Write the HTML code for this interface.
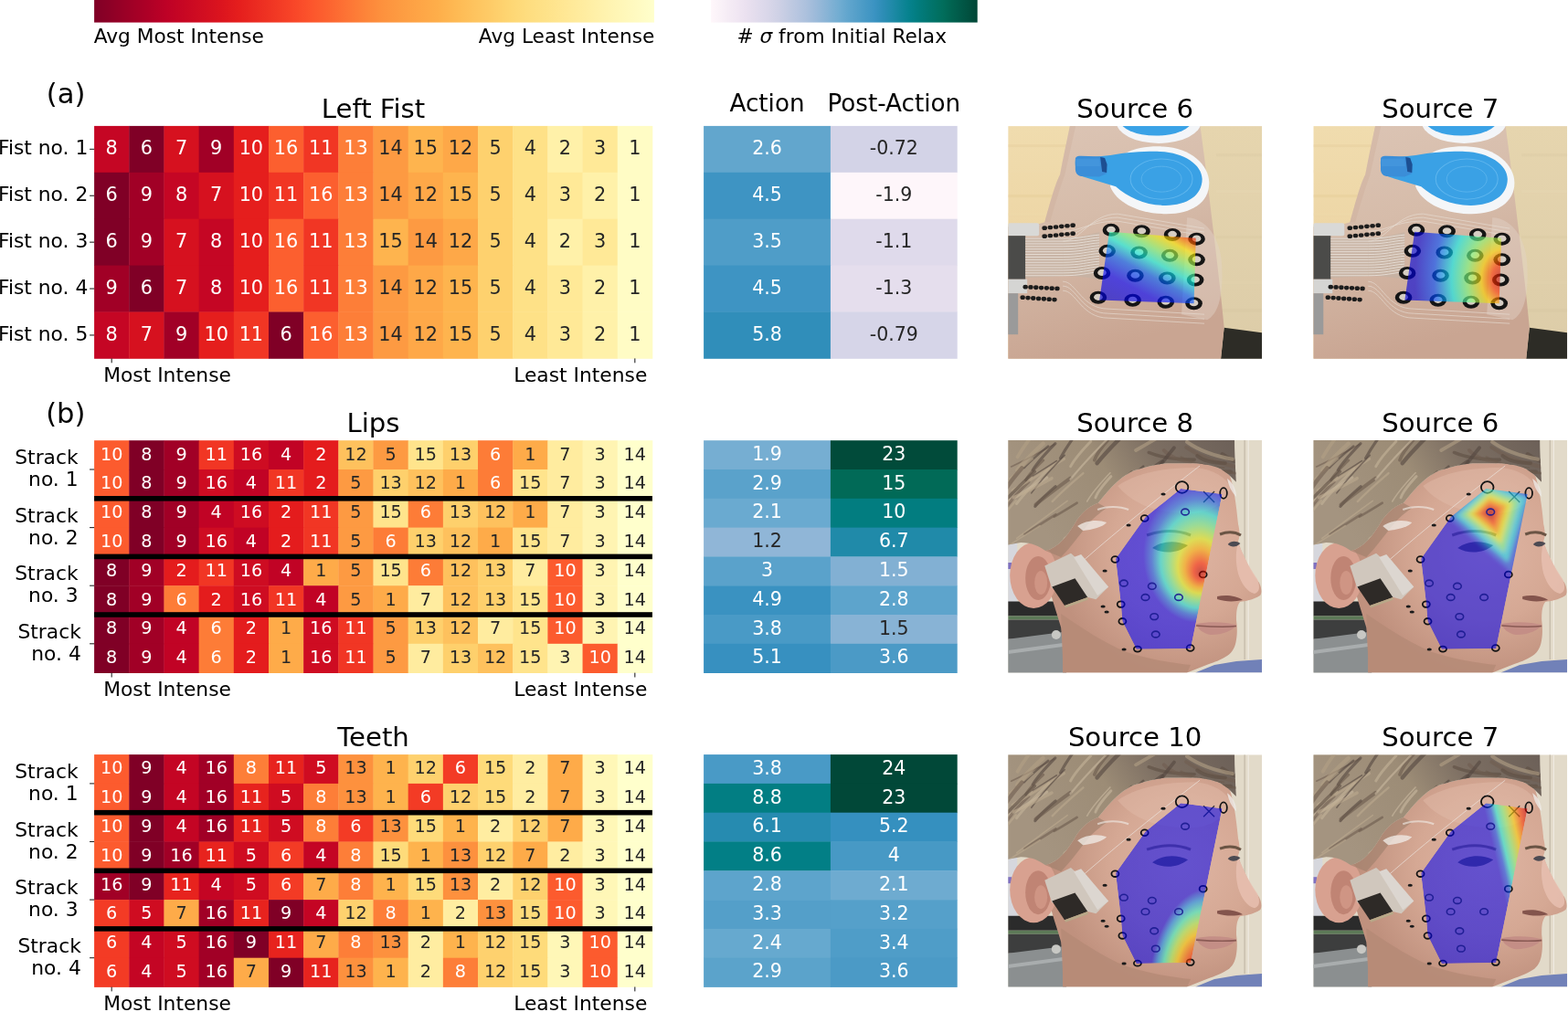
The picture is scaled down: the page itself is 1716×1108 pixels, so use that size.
<!DOCTYPE html>
<html><head><meta charset="utf-8"><title>Figure</title>
<style>html,body{margin:0;padding:0;background:#fff;} svg{display:block;} text{font-family:'DejaVu Sans', 'Liberation Sans', sans-serif;}</style>
</head><body>
<svg width="1716" height="1108" viewBox="0 0 1716 1108">
<defs><linearGradient id="cb1" x1="0" y1="0" x2="1" y2="0"><stop offset="0.0000" stop-color="#800026"/><stop offset="0.0323" stop-color="#8f0026"/><stop offset="0.0645" stop-color="#9f0026"/><stop offset="0.0968" stop-color="#ae0026"/><stop offset="0.1290" stop-color="#be0126"/><stop offset="0.1613" stop-color="#c80723"/><stop offset="0.1935" stop-color="#d10e21"/><stop offset="0.2258" stop-color="#db141e"/><stop offset="0.2581" stop-color="#e51e1d"/><stop offset="0.2903" stop-color="#eb2b21"/><stop offset="0.3226" stop-color="#f13824"/><stop offset="0.3548" stop-color="#f84528"/><stop offset="0.3871" stop-color="#fc552c"/><stop offset="0.4194" stop-color="#fc6430"/><stop offset="0.4516" stop-color="#fd7435"/><stop offset="0.4839" stop-color="#fd8439"/><stop offset="0.5161" stop-color="#fd923e"/><stop offset="0.5484" stop-color="#fd9c42"/><stop offset="0.5806" stop-color="#fea546"/><stop offset="0.6129" stop-color="#feae4a"/><stop offset="0.6452" stop-color="#feb953"/><stop offset="0.6774" stop-color="#fec35e"/><stop offset="0.7097" stop-color="#fecc68"/><stop offset="0.7419" stop-color="#fed673"/><stop offset="0.7742" stop-color="#fedd7f"/><stop offset="0.8065" stop-color="#fee289"/><stop offset="0.8387" stop-color="#ffe794"/><stop offset="0.8710" stop-color="#ffec9f"/><stop offset="0.9032" stop-color="#fff1ab"/><stop offset="0.9355" stop-color="#fff6b6"/><stop offset="0.9677" stop-color="#fffac1"/><stop offset="1.0000" stop-color="#ffffcc"/></linearGradient><linearGradient id="cb2" x1="0" y1="0" x2="1" y2="0"><stop offset="0.0000" stop-color="#fff7fb"/><stop offset="0.0323" stop-color="#faf2f8"/><stop offset="0.0645" stop-color="#f5ecf5"/><stop offset="0.0968" stop-color="#f1e7f3"/><stop offset="0.1290" stop-color="#ebe1f0"/><stop offset="0.1613" stop-color="#e4dded"/><stop offset="0.1935" stop-color="#ddd9eb"/><stop offset="0.2258" stop-color="#d6d5e8"/><stop offset="0.2581" stop-color="#cdd0e5"/><stop offset="0.2903" stop-color="#c2cbe2"/><stop offset="0.3226" stop-color="#b8c6e0"/><stop offset="0.3548" stop-color="#adc1dd"/><stop offset="0.3871" stop-color="#9fbbda"/><stop offset="0.4194" stop-color="#90b6d7"/><stop offset="0.4516" stop-color="#80b1d4"/><stop offset="0.4839" stop-color="#70acd1"/><stop offset="0.5161" stop-color="#60a5cd"/><stop offset="0.5484" stop-color="#549fc9"/><stop offset="0.5806" stop-color="#4799c5"/><stop offset="0.6129" stop-color="#3b93c2"/><stop offset="0.6452" stop-color="#2d8db6"/><stop offset="0.6774" stop-color="#208aa9"/><stop offset="0.7097" stop-color="#13869b"/><stop offset="0.7419" stop-color="#06828e"/><stop offset="0.7742" stop-color="#027d80"/><stop offset="0.8065" stop-color="#027773"/><stop offset="0.8387" stop-color="#017267"/><stop offset="0.8710" stop-color="#016d5b"/><stop offset="0.9032" stop-color="#016350"/><stop offset="0.9355" stop-color="#015948"/><stop offset="0.9677" stop-color="#01503f"/><stop offset="1.0000" stop-color="#014636"/></linearGradient><filter id="blur3" x="-20%" y="-20%" width="140%" height="140%"><feGaussianBlur stdDeviation="2.2"/></filter><linearGradient id="armskin" x1="0" y1="0" x2="0.25" y2="1"><stop offset="0" stop-color="#dcc5b5"/><stop offset="0.45" stop-color="#d6bcaa"/><stop offset="1" stop-color="#c9a592"/></linearGradient><linearGradient id="woodL" x1="0" y1="0" x2="0" y2="1"><stop offset="0" stop-color="#f0dcae"/><stop offset="1" stop-color="#eacf9c"/></linearGradient><linearGradient id="woodR" x1="0" y1="0" x2="0" y2="1"><stop offset="0" stop-color="#e6d5ae"/><stop offset="1" stop-color="#dccca8"/></linearGradient><linearGradient id="hair" x1="0" y1="0.3" x2="1" y2="0"><stop offset="0" stop-color="#a49480"/><stop offset="0.4" stop-color="#9c8c76"/><stop offset="0.65" stop-color="#7c6e62"/><stop offset="1" stop-color="#6c6058"/></linearGradient><radialGradient id="faceskin" gradientUnits="userSpaceOnUse" cx="190" cy="120" r="140"><stop offset="0" stop-color="#dfb5a3"/><stop offset="0.55" stop-color="#d5a894"/><stop offset="1" stop-color="#c0917e"/></radialGradient><linearGradient id="ov_s6" gradientUnits="userSpaceOnUse" x1="206.7" y1="121.8" x2="155.1" y2="217.5"><stop offset="0" stop-color="#f10800"/><stop offset="0.07" stop-color="#ff6800"/><stop offset="0.16" stop-color="#feed00"/><stop offset="0.3" stop-color="#7dff7a"/><stop offset="0.42" stop-color="#0ff8e7"/><stop offset="0.56" stop-color="#0060ff"/><stop offset="0.75" stop-color="#0000ff"/><stop offset="1" stop-color="#0000da"/></linearGradient><radialGradient id="ov_s7" gradientUnits="userSpaceOnUse" cx="207" cy="167" r="96" gradientTransform="translate(207 167) scale(1 1.4) translate(-207 -167)"><stop offset="0" stop-color="#b60000"/><stop offset="0.12" stop-color="#ff3800"/><stop offset="0.24" stop-color="#ffd700"/><stop offset="0.4" stop-color="#7dff7a"/><stop offset="0.58" stop-color="#09f0ee"/><stop offset="0.78" stop-color="#004cff"/><stop offset="1" stop-color="#0000da"/></radialGradient><radialGradient id="ov_l8" gradientUnits="userSpaceOnUse" cx="208" cy="125" r="75" fx="212" fy="146" gradientTransform="translate(208 125) scale(0.8 1) translate(-208 -125)"><stop offset="0" stop-color="#b60000"/><stop offset="0.12" stop-color="#ff2500"/><stop offset="0.28" stop-color="#ffb200"/><stop offset="0.4" stop-color="#deff19"/><stop offset="0.55" stop-color="#6aff8d"/><stop offset="0.7" stop-color="#09f0ee"/><stop offset="0.85" stop-color="#0060ff"/><stop offset="1" stop-color="#0000ff"/></radialGradient><radialGradient id="ov_l6" gradientUnits="userSpaceOnUse" cx="193" cy="79" r="46" gradientTransform="translate(193 79) rotate(-16) scale(1 1.45) translate(-193 -79)"><stop offset="0" stop-color="#9f0000"/><stop offset="0.12" stop-color="#ff2500"/><stop offset="0.3" stop-color="#ffd700"/><stop offset="0.48" stop-color="#7dff7a"/><stop offset="0.64" stop-color="#09f0ee"/><stop offset="0.82" stop-color="#004cff"/><stop offset="1" stop-color="#0000f1"/></radialGradient><radialGradient id="ov_t10" gradientUnits="userSpaceOnUse" cx="205" cy="232" r="48" gradientTransform="translate(205 232) rotate(12) scale(1 1.8) translate(-205 -232)"><stop offset="0" stop-color="#cd0000"/><stop offset="0.12" stop-color="#ff1a00"/><stop offset="0.26" stop-color="#ff6800"/><stop offset="0.42" stop-color="#ffd700"/><stop offset="0.57" stop-color="#a4ff53"/><stop offset="0.72" stop-color="#29ffce"/><stop offset="0.86" stop-color="#0094ff"/><stop offset="1" stop-color="#0000f1"/></radialGradient><linearGradient id="ov_t7" gradientUnits="userSpaceOnUse" x1="186.3" y1="56.4" x2="229.2" y2="46.5"><stop offset="0" stop-color="#0000f1"/><stop offset="0.15" stop-color="#004cff"/><stop offset="0.28" stop-color="#0ff8e7"/><stop offset="0.45" stop-color="#7dff7a"/><stop offset="0.65" stop-color="#ffd700"/><stop offset="0.85" stop-color="#ff3f00"/><stop offset="1" stop-color="#cd0000"/></linearGradient></defs>
<rect width="1716" height="1108" fill="#fff"/>
<rect x="103.1" y="0" width="612.8" height="24.6" fill="url(#cb1)"/>
<rect x="778.1" y="0" width="291.6" height="24.6" fill="url(#cb2)"/>
<text x="102.70" y="46.90" font-size="21.7" text-anchor="start" fill="#000">Avg Most Intense</text>
<text x="716.30" y="46.90" font-size="21.7" text-anchor="end" fill="#000">Avg Least Intense</text>
<text x="806.40" y="46.90" font-size="21.7" text-anchor="start" fill="#000"># <tspan font-style="italic">σ</tspan> from Initial Relax</text>
<text x="50.80" y="112.90" font-size="30.6" text-anchor="start" fill="#000">(a)</text>
<text x="50.20" y="462.70" font-size="30.6" text-anchor="start" fill="#000">(b)</text>
<text x="408.50" y="128.80" font-size="29.15" text-anchor="middle" fill="#000">Left Fist</text>
<text x="408.50" y="473.10" font-size="29.15" text-anchor="middle" fill="#000">Lips</text>
<text x="408.50" y="817.30" font-size="29.15" text-anchor="middle" fill="#000">Teeth</text>
<text x="839.50" y="122.10" font-size="26.2" text-anchor="middle" fill="#000">Action</text>
<text x="978.30" y="122.10" font-size="26.2" text-anchor="middle" fill="#000">Post-Action</text>
<text x="1242.10" y="128.70" font-size="29.15" text-anchor="middle" fill="#000">Source 6</text>
<text x="1576.25" y="128.70" font-size="29.15" text-anchor="middle" fill="#000">Source 7</text>
<text x="1242.10" y="472.60" font-size="29.15" text-anchor="middle" fill="#000">Source 8</text>
<text x="1576.25" y="472.60" font-size="29.15" text-anchor="middle" fill="#000">Source 6</text>
<text x="1242.10" y="816.90" font-size="29.15" text-anchor="middle" fill="#000">Source 10</text>
<text x="1576.25" y="816.90" font-size="29.15" text-anchor="middle" fill="#000">Source 7</text>
<g>
<rect x="103.10" y="137.90" width="38.57" height="51.30" fill="#c50624"/>
<rect x="141.27" y="137.90" width="38.57" height="51.30" fill="#800026"/>
<rect x="179.45" y="137.90" width="38.57" height="51.30" fill="#d6111f"/>
<rect x="217.62" y="137.90" width="38.57" height="51.30" fill="#a10026"/>
<rect x="255.80" y="137.90" width="38.57" height="51.30" fill="#e51e1d"/>
<rect x="293.98" y="137.90" width="38.57" height="51.30" fill="#fc5f2f"/>
<rect x="332.15" y="137.90" width="38.57" height="51.30" fill="#f13624"/>
<rect x="370.32" y="137.90" width="38.57" height="51.30" fill="#fd7e38"/>
<rect x="408.50" y="137.90" width="38.57" height="51.30" fill="#fd9a42"/>
<rect x="446.67" y="137.90" width="38.57" height="51.30" fill="#feb44e"/>
<rect x="484.85" y="137.90" width="38.57" height="51.30" fill="#fea848"/>
<rect x="523.02" y="137.90" width="38.57" height="51.30" fill="#fed16e"/>
<rect x="561.20" y="137.90" width="38.57" height="51.30" fill="#fee187"/>
<rect x="599.38" y="137.90" width="38.57" height="51.30" fill="#fff1a9"/>
<rect x="637.55" y="137.90" width="38.57" height="51.30" fill="#ffe997"/>
<rect x="675.73" y="137.90" width="38.57" height="51.30" fill="#fffcc5"/>
<rect x="103.10" y="188.80" width="38.57" height="51.30" fill="#800026"/>
<rect x="141.27" y="188.80" width="38.57" height="51.30" fill="#a10026"/>
<rect x="179.45" y="188.80" width="38.57" height="51.30" fill="#c50624"/>
<rect x="217.62" y="188.80" width="38.57" height="51.30" fill="#d6111f"/>
<rect x="255.80" y="188.80" width="38.57" height="51.30" fill="#e51e1d"/>
<rect x="293.98" y="188.80" width="38.57" height="51.30" fill="#f13624"/>
<rect x="332.15" y="188.80" width="38.57" height="51.30" fill="#fc5f2f"/>
<rect x="370.32" y="188.80" width="38.57" height="51.30" fill="#fd7e38"/>
<rect x="408.50" y="188.80" width="38.57" height="51.30" fill="#fd9a42"/>
<rect x="446.67" y="188.80" width="38.57" height="51.30" fill="#fea848"/>
<rect x="484.85" y="188.80" width="38.57" height="51.30" fill="#feb44e"/>
<rect x="523.02" y="188.80" width="38.57" height="51.30" fill="#fed16e"/>
<rect x="561.20" y="188.80" width="38.57" height="51.30" fill="#fee187"/>
<rect x="599.38" y="188.80" width="38.57" height="51.30" fill="#ffe997"/>
<rect x="637.55" y="188.80" width="38.57" height="51.30" fill="#fff1a9"/>
<rect x="675.73" y="188.80" width="38.57" height="51.30" fill="#fffcc5"/>
<rect x="103.10" y="239.70" width="38.57" height="51.30" fill="#800026"/>
<rect x="141.27" y="239.70" width="38.57" height="51.30" fill="#a10026"/>
<rect x="179.45" y="239.70" width="38.57" height="51.30" fill="#d6111f"/>
<rect x="217.62" y="239.70" width="38.57" height="51.30" fill="#c50624"/>
<rect x="255.80" y="239.70" width="38.57" height="51.30" fill="#e51e1d"/>
<rect x="293.98" y="239.70" width="38.57" height="51.30" fill="#fc5f2f"/>
<rect x="332.15" y="239.70" width="38.57" height="51.30" fill="#f13624"/>
<rect x="370.32" y="239.70" width="38.57" height="51.30" fill="#fd7e38"/>
<rect x="408.50" y="239.70" width="38.57" height="51.30" fill="#feb44e"/>
<rect x="446.67" y="239.70" width="38.57" height="51.30" fill="#fd9a42"/>
<rect x="484.85" y="239.70" width="38.57" height="51.30" fill="#fea848"/>
<rect x="523.02" y="239.70" width="38.57" height="51.30" fill="#fed16e"/>
<rect x="561.20" y="239.70" width="38.57" height="51.30" fill="#fee187"/>
<rect x="599.38" y="239.70" width="38.57" height="51.30" fill="#fff1a9"/>
<rect x="637.55" y="239.70" width="38.57" height="51.30" fill="#ffe997"/>
<rect x="675.73" y="239.70" width="38.57" height="51.30" fill="#fffcc5"/>
<rect x="103.10" y="290.60" width="38.57" height="51.30" fill="#a10026"/>
<rect x="141.27" y="290.60" width="38.57" height="51.30" fill="#800026"/>
<rect x="179.45" y="290.60" width="38.57" height="51.30" fill="#d6111f"/>
<rect x="217.62" y="290.60" width="38.57" height="51.30" fill="#c50624"/>
<rect x="255.80" y="290.60" width="38.57" height="51.30" fill="#e51e1d"/>
<rect x="293.98" y="290.60" width="38.57" height="51.30" fill="#fc5f2f"/>
<rect x="332.15" y="290.60" width="38.57" height="51.30" fill="#f13624"/>
<rect x="370.32" y="290.60" width="38.57" height="51.30" fill="#fd7e38"/>
<rect x="408.50" y="290.60" width="38.57" height="51.30" fill="#fd9a42"/>
<rect x="446.67" y="290.60" width="38.57" height="51.30" fill="#fea848"/>
<rect x="484.85" y="290.60" width="38.57" height="51.30" fill="#feb44e"/>
<rect x="523.02" y="290.60" width="38.57" height="51.30" fill="#fed16e"/>
<rect x="561.20" y="290.60" width="38.57" height="51.30" fill="#fee187"/>
<rect x="599.38" y="290.60" width="38.57" height="51.30" fill="#ffe997"/>
<rect x="637.55" y="290.60" width="38.57" height="51.30" fill="#fff1a9"/>
<rect x="675.73" y="290.60" width="38.57" height="51.30" fill="#fffcc5"/>
<rect x="103.10" y="341.50" width="38.57" height="51.30" fill="#c50624"/>
<rect x="141.27" y="341.50" width="38.57" height="51.30" fill="#d6111f"/>
<rect x="179.45" y="341.50" width="38.57" height="51.30" fill="#a10026"/>
<rect x="217.62" y="341.50" width="38.57" height="51.30" fill="#e51e1d"/>
<rect x="255.80" y="341.50" width="38.57" height="51.30" fill="#f13624"/>
<rect x="293.98" y="341.50" width="38.57" height="51.30" fill="#800026"/>
<rect x="332.15" y="341.50" width="38.57" height="51.30" fill="#fc5f2f"/>
<rect x="370.32" y="341.50" width="38.57" height="51.30" fill="#fd7e38"/>
<rect x="408.50" y="341.50" width="38.57" height="51.30" fill="#fd9a42"/>
<rect x="446.67" y="341.50" width="38.57" height="51.30" fill="#fea848"/>
<rect x="484.85" y="341.50" width="38.57" height="51.30" fill="#feb44e"/>
<rect x="523.02" y="341.50" width="38.57" height="51.30" fill="#fed16e"/>
<rect x="561.20" y="341.50" width="38.57" height="51.30" fill="#fee187"/>
<rect x="599.38" y="341.50" width="38.57" height="51.30" fill="#ffe997"/>
<rect x="637.55" y="341.50" width="38.57" height="51.30" fill="#fff1a9"/>
<rect x="675.73" y="341.50" width="38.57" height="51.30" fill="#fffcc5"/>
<text x="122.19" y="169.05" font-size="20.8" text-anchor="middle" fill="#ffffff">8</text>
<text x="160.36" y="169.05" font-size="20.8" text-anchor="middle" fill="#ffffff">6</text>
<text x="198.54" y="169.05" font-size="20.8" text-anchor="middle" fill="#ffffff">7</text>
<text x="236.71" y="169.05" font-size="20.8" text-anchor="middle" fill="#ffffff">9</text>
<text x="274.89" y="169.05" font-size="20.8" text-anchor="middle" fill="#ffffff">10</text>
<text x="313.06" y="169.05" font-size="20.8" text-anchor="middle" fill="#ffffff">16</text>
<text x="351.24" y="169.05" font-size="20.8" text-anchor="middle" fill="#ffffff">11</text>
<text x="389.41" y="169.05" font-size="20.8" text-anchor="middle" fill="#ffffff">13</text>
<text x="427.59" y="169.05" font-size="20.8" text-anchor="middle" fill="#262626">14</text>
<text x="465.76" y="169.05" font-size="20.8" text-anchor="middle" fill="#262626">15</text>
<text x="503.94" y="169.05" font-size="20.8" text-anchor="middle" fill="#262626">12</text>
<text x="542.11" y="169.05" font-size="20.8" text-anchor="middle" fill="#262626">5</text>
<text x="580.29" y="169.05" font-size="20.8" text-anchor="middle" fill="#262626">4</text>
<text x="618.46" y="169.05" font-size="20.8" text-anchor="middle" fill="#262626">2</text>
<text x="656.64" y="169.05" font-size="20.8" text-anchor="middle" fill="#262626">3</text>
<text x="694.81" y="169.05" font-size="20.8" text-anchor="middle" fill="#262626">1</text>
<text x="122.19" y="219.95" font-size="20.8" text-anchor="middle" fill="#ffffff">6</text>
<text x="160.36" y="219.95" font-size="20.8" text-anchor="middle" fill="#ffffff">9</text>
<text x="198.54" y="219.95" font-size="20.8" text-anchor="middle" fill="#ffffff">8</text>
<text x="236.71" y="219.95" font-size="20.8" text-anchor="middle" fill="#ffffff">7</text>
<text x="274.89" y="219.95" font-size="20.8" text-anchor="middle" fill="#ffffff">10</text>
<text x="313.06" y="219.95" font-size="20.8" text-anchor="middle" fill="#ffffff">11</text>
<text x="351.24" y="219.95" font-size="20.8" text-anchor="middle" fill="#ffffff">16</text>
<text x="389.41" y="219.95" font-size="20.8" text-anchor="middle" fill="#ffffff">13</text>
<text x="427.59" y="219.95" font-size="20.8" text-anchor="middle" fill="#262626">14</text>
<text x="465.76" y="219.95" font-size="20.8" text-anchor="middle" fill="#262626">12</text>
<text x="503.94" y="219.95" font-size="20.8" text-anchor="middle" fill="#262626">15</text>
<text x="542.11" y="219.95" font-size="20.8" text-anchor="middle" fill="#262626">5</text>
<text x="580.29" y="219.95" font-size="20.8" text-anchor="middle" fill="#262626">4</text>
<text x="618.46" y="219.95" font-size="20.8" text-anchor="middle" fill="#262626">3</text>
<text x="656.64" y="219.95" font-size="20.8" text-anchor="middle" fill="#262626">2</text>
<text x="694.81" y="219.95" font-size="20.8" text-anchor="middle" fill="#262626">1</text>
<text x="122.19" y="270.85" font-size="20.8" text-anchor="middle" fill="#ffffff">6</text>
<text x="160.36" y="270.85" font-size="20.8" text-anchor="middle" fill="#ffffff">9</text>
<text x="198.54" y="270.85" font-size="20.8" text-anchor="middle" fill="#ffffff">7</text>
<text x="236.71" y="270.85" font-size="20.8" text-anchor="middle" fill="#ffffff">8</text>
<text x="274.89" y="270.85" font-size="20.8" text-anchor="middle" fill="#ffffff">10</text>
<text x="313.06" y="270.85" font-size="20.8" text-anchor="middle" fill="#ffffff">16</text>
<text x="351.24" y="270.85" font-size="20.8" text-anchor="middle" fill="#ffffff">11</text>
<text x="389.41" y="270.85" font-size="20.8" text-anchor="middle" fill="#ffffff">13</text>
<text x="427.59" y="270.85" font-size="20.8" text-anchor="middle" fill="#262626">15</text>
<text x="465.76" y="270.85" font-size="20.8" text-anchor="middle" fill="#262626">14</text>
<text x="503.94" y="270.85" font-size="20.8" text-anchor="middle" fill="#262626">12</text>
<text x="542.11" y="270.85" font-size="20.8" text-anchor="middle" fill="#262626">5</text>
<text x="580.29" y="270.85" font-size="20.8" text-anchor="middle" fill="#262626">4</text>
<text x="618.46" y="270.85" font-size="20.8" text-anchor="middle" fill="#262626">2</text>
<text x="656.64" y="270.85" font-size="20.8" text-anchor="middle" fill="#262626">3</text>
<text x="694.81" y="270.85" font-size="20.8" text-anchor="middle" fill="#262626">1</text>
<text x="122.19" y="321.75" font-size="20.8" text-anchor="middle" fill="#ffffff">9</text>
<text x="160.36" y="321.75" font-size="20.8" text-anchor="middle" fill="#ffffff">6</text>
<text x="198.54" y="321.75" font-size="20.8" text-anchor="middle" fill="#ffffff">7</text>
<text x="236.71" y="321.75" font-size="20.8" text-anchor="middle" fill="#ffffff">8</text>
<text x="274.89" y="321.75" font-size="20.8" text-anchor="middle" fill="#ffffff">10</text>
<text x="313.06" y="321.75" font-size="20.8" text-anchor="middle" fill="#ffffff">16</text>
<text x="351.24" y="321.75" font-size="20.8" text-anchor="middle" fill="#ffffff">11</text>
<text x="389.41" y="321.75" font-size="20.8" text-anchor="middle" fill="#ffffff">13</text>
<text x="427.59" y="321.75" font-size="20.8" text-anchor="middle" fill="#262626">14</text>
<text x="465.76" y="321.75" font-size="20.8" text-anchor="middle" fill="#262626">12</text>
<text x="503.94" y="321.75" font-size="20.8" text-anchor="middle" fill="#262626">15</text>
<text x="542.11" y="321.75" font-size="20.8" text-anchor="middle" fill="#262626">5</text>
<text x="580.29" y="321.75" font-size="20.8" text-anchor="middle" fill="#262626">4</text>
<text x="618.46" y="321.75" font-size="20.8" text-anchor="middle" fill="#262626">3</text>
<text x="656.64" y="321.75" font-size="20.8" text-anchor="middle" fill="#262626">2</text>
<text x="694.81" y="321.75" font-size="20.8" text-anchor="middle" fill="#262626">1</text>
<text x="122.19" y="372.65" font-size="20.8" text-anchor="middle" fill="#ffffff">8</text>
<text x="160.36" y="372.65" font-size="20.8" text-anchor="middle" fill="#ffffff">7</text>
<text x="198.54" y="372.65" font-size="20.8" text-anchor="middle" fill="#ffffff">9</text>
<text x="236.71" y="372.65" font-size="20.8" text-anchor="middle" fill="#ffffff">10</text>
<text x="274.89" y="372.65" font-size="20.8" text-anchor="middle" fill="#ffffff">11</text>
<text x="313.06" y="372.65" font-size="20.8" text-anchor="middle" fill="#ffffff">6</text>
<text x="351.24" y="372.65" font-size="20.8" text-anchor="middle" fill="#ffffff">16</text>
<text x="389.41" y="372.65" font-size="20.8" text-anchor="middle" fill="#ffffff">13</text>
<text x="427.59" y="372.65" font-size="20.8" text-anchor="middle" fill="#262626">14</text>
<text x="465.76" y="372.65" font-size="20.8" text-anchor="middle" fill="#262626">12</text>
<text x="503.94" y="372.65" font-size="20.8" text-anchor="middle" fill="#262626">15</text>
<text x="542.11" y="372.65" font-size="20.8" text-anchor="middle" fill="#262626">5</text>
<text x="580.29" y="372.65" font-size="20.8" text-anchor="middle" fill="#262626">4</text>
<text x="618.46" y="372.65" font-size="20.8" text-anchor="middle" fill="#262626">3</text>
<text x="656.64" y="372.65" font-size="20.8" text-anchor="middle" fill="#262626">2</text>
<text x="694.81" y="372.65" font-size="20.8" text-anchor="middle" fill="#262626">1</text>
</g>
<g>
<rect x="103.10" y="482.20" width="38.57" height="32.20" fill="#fc5b2e"/>
<rect x="141.27" y="482.20" width="38.57" height="32.20" fill="#800026"/>
<rect x="179.45" y="482.20" width="38.57" height="32.20" fill="#a10026"/>
<rect x="217.62" y="482.20" width="38.57" height="32.20" fill="#f13624"/>
<rect x="255.80" y="482.20" width="38.57" height="32.20" fill="#ce0c22"/>
<rect x="293.98" y="482.20" width="38.57" height="32.20" fill="#c10325"/>
<rect x="332.15" y="482.20" width="38.57" height="32.20" fill="#e41c1d"/>
<rect x="370.32" y="482.20" width="38.57" height="32.20" fill="#fec15d"/>
<rect x="408.50" y="482.20" width="38.57" height="32.20" fill="#fd9a42"/>
<rect x="446.67" y="482.20" width="38.57" height="32.20" fill="#ffe48c"/>
<rect x="484.85" y="482.20" width="38.57" height="32.20" fill="#fed06c"/>
<rect x="523.02" y="482.20" width="38.57" height="32.20" fill="#fd7c37"/>
<rect x="561.20" y="482.20" width="38.57" height="32.20" fill="#feab49"/>
<rect x="599.38" y="482.20" width="38.57" height="32.20" fill="#ffec9f"/>
<rect x="637.55" y="482.20" width="38.57" height="32.20" fill="#fff4b2"/>
<rect x="675.73" y="482.20" width="38.57" height="32.20" fill="#ffffcc"/>
<rect x="103.10" y="514.00" width="38.57" height="32.20" fill="#fc5b2e"/>
<rect x="141.27" y="514.00" width="38.57" height="32.20" fill="#800026"/>
<rect x="179.45" y="514.00" width="38.57" height="32.20" fill="#a10026"/>
<rect x="217.62" y="514.00" width="38.57" height="32.20" fill="#ce0c22"/>
<rect x="255.80" y="514.00" width="38.57" height="32.20" fill="#c10325"/>
<rect x="293.98" y="514.00" width="38.57" height="32.20" fill="#f13624"/>
<rect x="332.15" y="514.00" width="38.57" height="32.20" fill="#e41c1d"/>
<rect x="370.32" y="514.00" width="38.57" height="32.20" fill="#fd9a42"/>
<rect x="408.50" y="514.00" width="38.57" height="32.20" fill="#fed06c"/>
<rect x="446.67" y="514.00" width="38.57" height="32.20" fill="#fec15d"/>
<rect x="484.85" y="514.00" width="38.57" height="32.20" fill="#feab49"/>
<rect x="523.02" y="514.00" width="38.57" height="32.20" fill="#fd7c37"/>
<rect x="561.20" y="514.00" width="38.57" height="32.20" fill="#ffe48c"/>
<rect x="599.38" y="514.00" width="38.57" height="32.20" fill="#ffec9f"/>
<rect x="637.55" y="514.00" width="38.57" height="32.20" fill="#fff4b2"/>
<rect x="675.73" y="514.00" width="38.57" height="32.20" fill="#ffffcc"/>
<rect x="103.10" y="545.80" width="38.57" height="32.20" fill="#fc5b2e"/>
<rect x="141.27" y="545.80" width="38.57" height="32.20" fill="#800026"/>
<rect x="179.45" y="545.80" width="38.57" height="32.20" fill="#a10026"/>
<rect x="217.62" y="545.80" width="38.57" height="32.20" fill="#c10325"/>
<rect x="255.80" y="545.80" width="38.57" height="32.20" fill="#ce0c22"/>
<rect x="293.98" y="545.80" width="38.57" height="32.20" fill="#e41c1d"/>
<rect x="332.15" y="545.80" width="38.57" height="32.20" fill="#f13624"/>
<rect x="370.32" y="545.80" width="38.57" height="32.20" fill="#fd9a42"/>
<rect x="408.50" y="545.80" width="38.57" height="32.20" fill="#ffe48c"/>
<rect x="446.67" y="545.80" width="38.57" height="32.20" fill="#fd7c37"/>
<rect x="484.85" y="545.80" width="38.57" height="32.20" fill="#fed06c"/>
<rect x="523.02" y="545.80" width="38.57" height="32.20" fill="#fec15d"/>
<rect x="561.20" y="545.80" width="38.57" height="32.20" fill="#feab49"/>
<rect x="599.38" y="545.80" width="38.57" height="32.20" fill="#ffec9f"/>
<rect x="637.55" y="545.80" width="38.57" height="32.20" fill="#fff4b2"/>
<rect x="675.73" y="545.80" width="38.57" height="32.20" fill="#ffffcc"/>
<rect x="103.10" y="577.60" width="38.57" height="32.20" fill="#fc5b2e"/>
<rect x="141.27" y="577.60" width="38.57" height="32.20" fill="#800026"/>
<rect x="179.45" y="577.60" width="38.57" height="32.20" fill="#a10026"/>
<rect x="217.62" y="577.60" width="38.57" height="32.20" fill="#ce0c22"/>
<rect x="255.80" y="577.60" width="38.57" height="32.20" fill="#c10325"/>
<rect x="293.98" y="577.60" width="38.57" height="32.20" fill="#e41c1d"/>
<rect x="332.15" y="577.60" width="38.57" height="32.20" fill="#f13624"/>
<rect x="370.32" y="577.60" width="38.57" height="32.20" fill="#fd9a42"/>
<rect x="408.50" y="577.60" width="38.57" height="32.20" fill="#fd7c37"/>
<rect x="446.67" y="577.60" width="38.57" height="32.20" fill="#fed06c"/>
<rect x="484.85" y="577.60" width="38.57" height="32.20" fill="#fec15d"/>
<rect x="523.02" y="577.60" width="38.57" height="32.20" fill="#feab49"/>
<rect x="561.20" y="577.60" width="38.57" height="32.20" fill="#ffe48c"/>
<rect x="599.38" y="577.60" width="38.57" height="32.20" fill="#ffec9f"/>
<rect x="637.55" y="577.60" width="38.57" height="32.20" fill="#fff4b2"/>
<rect x="675.73" y="577.60" width="38.57" height="32.20" fill="#ffffcc"/>
<rect x="103.10" y="609.40" width="38.57" height="32.20" fill="#800026"/>
<rect x="141.27" y="609.40" width="38.57" height="32.20" fill="#a10026"/>
<rect x="179.45" y="609.40" width="38.57" height="32.20" fill="#e41c1d"/>
<rect x="217.62" y="609.40" width="38.57" height="32.20" fill="#f13624"/>
<rect x="255.80" y="609.40" width="38.57" height="32.20" fill="#ce0c22"/>
<rect x="293.98" y="609.40" width="38.57" height="32.20" fill="#c10325"/>
<rect x="332.15" y="609.40" width="38.57" height="32.20" fill="#feab49"/>
<rect x="370.32" y="609.40" width="38.57" height="32.20" fill="#fd9a42"/>
<rect x="408.50" y="609.40" width="38.57" height="32.20" fill="#ffe48c"/>
<rect x="446.67" y="609.40" width="38.57" height="32.20" fill="#fd7c37"/>
<rect x="484.85" y="609.40" width="38.57" height="32.20" fill="#fec15d"/>
<rect x="523.02" y="609.40" width="38.57" height="32.20" fill="#fed06c"/>
<rect x="561.20" y="609.40" width="38.57" height="32.20" fill="#ffec9f"/>
<rect x="599.38" y="609.40" width="38.57" height="32.20" fill="#fc5b2e"/>
<rect x="637.55" y="609.40" width="38.57" height="32.20" fill="#fff4b2"/>
<rect x="675.73" y="609.40" width="38.57" height="32.20" fill="#ffffcc"/>
<rect x="103.10" y="641.20" width="38.57" height="32.20" fill="#800026"/>
<rect x="141.27" y="641.20" width="38.57" height="32.20" fill="#a10026"/>
<rect x="179.45" y="641.20" width="38.57" height="32.20" fill="#fd7c37"/>
<rect x="217.62" y="641.20" width="38.57" height="32.20" fill="#e41c1d"/>
<rect x="255.80" y="641.20" width="38.57" height="32.20" fill="#ce0c22"/>
<rect x="293.98" y="641.20" width="38.57" height="32.20" fill="#f13624"/>
<rect x="332.15" y="641.20" width="38.57" height="32.20" fill="#c10325"/>
<rect x="370.32" y="641.20" width="38.57" height="32.20" fill="#fd9a42"/>
<rect x="408.50" y="641.20" width="38.57" height="32.20" fill="#feab49"/>
<rect x="446.67" y="641.20" width="38.57" height="32.20" fill="#ffec9f"/>
<rect x="484.85" y="641.20" width="38.57" height="32.20" fill="#fec15d"/>
<rect x="523.02" y="641.20" width="38.57" height="32.20" fill="#fed06c"/>
<rect x="561.20" y="641.20" width="38.57" height="32.20" fill="#ffe48c"/>
<rect x="599.38" y="641.20" width="38.57" height="32.20" fill="#fc5b2e"/>
<rect x="637.55" y="641.20" width="38.57" height="32.20" fill="#fff4b2"/>
<rect x="675.73" y="641.20" width="38.57" height="32.20" fill="#ffffcc"/>
<rect x="103.10" y="673.00" width="38.57" height="32.20" fill="#800026"/>
<rect x="141.27" y="673.00" width="38.57" height="32.20" fill="#a10026"/>
<rect x="179.45" y="673.00" width="38.57" height="32.20" fill="#c10325"/>
<rect x="217.62" y="673.00" width="38.57" height="32.20" fill="#fd7c37"/>
<rect x="255.80" y="673.00" width="38.57" height="32.20" fill="#e41c1d"/>
<rect x="293.98" y="673.00" width="38.57" height="32.20" fill="#feab49"/>
<rect x="332.15" y="673.00" width="38.57" height="32.20" fill="#ce0c22"/>
<rect x="370.32" y="673.00" width="38.57" height="32.20" fill="#f13624"/>
<rect x="408.50" y="673.00" width="38.57" height="32.20" fill="#fd9a42"/>
<rect x="446.67" y="673.00" width="38.57" height="32.20" fill="#fed06c"/>
<rect x="484.85" y="673.00" width="38.57" height="32.20" fill="#fec15d"/>
<rect x="523.02" y="673.00" width="38.57" height="32.20" fill="#ffec9f"/>
<rect x="561.20" y="673.00" width="38.57" height="32.20" fill="#ffe48c"/>
<rect x="599.38" y="673.00" width="38.57" height="32.20" fill="#fc5b2e"/>
<rect x="637.55" y="673.00" width="38.57" height="32.20" fill="#fff4b2"/>
<rect x="675.73" y="673.00" width="38.57" height="32.20" fill="#ffffcc"/>
<rect x="103.10" y="704.80" width="38.57" height="32.20" fill="#800026"/>
<rect x="141.27" y="704.80" width="38.57" height="32.20" fill="#a10026"/>
<rect x="179.45" y="704.80" width="38.57" height="32.20" fill="#c10325"/>
<rect x="217.62" y="704.80" width="38.57" height="32.20" fill="#fd7c37"/>
<rect x="255.80" y="704.80" width="38.57" height="32.20" fill="#e41c1d"/>
<rect x="293.98" y="704.80" width="38.57" height="32.20" fill="#feab49"/>
<rect x="332.15" y="704.80" width="38.57" height="32.20" fill="#ce0c22"/>
<rect x="370.32" y="704.80" width="38.57" height="32.20" fill="#f13624"/>
<rect x="408.50" y="704.80" width="38.57" height="32.20" fill="#fd9a42"/>
<rect x="446.67" y="704.80" width="38.57" height="32.20" fill="#ffec9f"/>
<rect x="484.85" y="704.80" width="38.57" height="32.20" fill="#fed06c"/>
<rect x="523.02" y="704.80" width="38.57" height="32.20" fill="#fec15d"/>
<rect x="561.20" y="704.80" width="38.57" height="32.20" fill="#ffe48c"/>
<rect x="599.38" y="704.80" width="38.57" height="32.20" fill="#fff4b2"/>
<rect x="637.55" y="704.80" width="38.57" height="32.20" fill="#fc5b2e"/>
<rect x="675.73" y="704.80" width="38.57" height="32.20" fill="#ffffcc"/>
<text x="122.19" y="503.50" font-size="19.2" text-anchor="middle" fill="#ffffff">10</text>
<text x="160.36" y="503.50" font-size="19.2" text-anchor="middle" fill="#ffffff">8</text>
<text x="198.54" y="503.50" font-size="19.2" text-anchor="middle" fill="#ffffff">9</text>
<text x="236.71" y="503.50" font-size="19.2" text-anchor="middle" fill="#ffffff">11</text>
<text x="274.89" y="503.50" font-size="19.2" text-anchor="middle" fill="#ffffff">16</text>
<text x="313.06" y="503.50" font-size="19.2" text-anchor="middle" fill="#ffffff">4</text>
<text x="351.24" y="503.50" font-size="19.2" text-anchor="middle" fill="#ffffff">2</text>
<text x="389.41" y="503.50" font-size="19.2" text-anchor="middle" fill="#262626">12</text>
<text x="427.59" y="503.50" font-size="19.2" text-anchor="middle" fill="#262626">5</text>
<text x="465.76" y="503.50" font-size="19.2" text-anchor="middle" fill="#262626">15</text>
<text x="503.94" y="503.50" font-size="19.2" text-anchor="middle" fill="#262626">13</text>
<text x="542.11" y="503.50" font-size="19.2" text-anchor="middle" fill="#ffffff">6</text>
<text x="580.29" y="503.50" font-size="19.2" text-anchor="middle" fill="#262626">1</text>
<text x="618.46" y="503.50" font-size="19.2" text-anchor="middle" fill="#262626">7</text>
<text x="656.64" y="503.50" font-size="19.2" text-anchor="middle" fill="#262626">3</text>
<text x="694.81" y="503.50" font-size="19.2" text-anchor="middle" fill="#262626">14</text>
<text x="122.19" y="535.30" font-size="19.2" text-anchor="middle" fill="#ffffff">10</text>
<text x="160.36" y="535.30" font-size="19.2" text-anchor="middle" fill="#ffffff">8</text>
<text x="198.54" y="535.30" font-size="19.2" text-anchor="middle" fill="#ffffff">9</text>
<text x="236.71" y="535.30" font-size="19.2" text-anchor="middle" fill="#ffffff">16</text>
<text x="274.89" y="535.30" font-size="19.2" text-anchor="middle" fill="#ffffff">4</text>
<text x="313.06" y="535.30" font-size="19.2" text-anchor="middle" fill="#ffffff">11</text>
<text x="351.24" y="535.30" font-size="19.2" text-anchor="middle" fill="#ffffff">2</text>
<text x="389.41" y="535.30" font-size="19.2" text-anchor="middle" fill="#262626">5</text>
<text x="427.59" y="535.30" font-size="19.2" text-anchor="middle" fill="#262626">13</text>
<text x="465.76" y="535.30" font-size="19.2" text-anchor="middle" fill="#262626">12</text>
<text x="503.94" y="535.30" font-size="19.2" text-anchor="middle" fill="#262626">1</text>
<text x="542.11" y="535.30" font-size="19.2" text-anchor="middle" fill="#ffffff">6</text>
<text x="580.29" y="535.30" font-size="19.2" text-anchor="middle" fill="#262626">15</text>
<text x="618.46" y="535.30" font-size="19.2" text-anchor="middle" fill="#262626">7</text>
<text x="656.64" y="535.30" font-size="19.2" text-anchor="middle" fill="#262626">3</text>
<text x="694.81" y="535.30" font-size="19.2" text-anchor="middle" fill="#262626">14</text>
<text x="122.19" y="567.10" font-size="19.2" text-anchor="middle" fill="#ffffff">10</text>
<text x="160.36" y="567.10" font-size="19.2" text-anchor="middle" fill="#ffffff">8</text>
<text x="198.54" y="567.10" font-size="19.2" text-anchor="middle" fill="#ffffff">9</text>
<text x="236.71" y="567.10" font-size="19.2" text-anchor="middle" fill="#ffffff">4</text>
<text x="274.89" y="567.10" font-size="19.2" text-anchor="middle" fill="#ffffff">16</text>
<text x="313.06" y="567.10" font-size="19.2" text-anchor="middle" fill="#ffffff">2</text>
<text x="351.24" y="567.10" font-size="19.2" text-anchor="middle" fill="#ffffff">11</text>
<text x="389.41" y="567.10" font-size="19.2" text-anchor="middle" fill="#262626">5</text>
<text x="427.59" y="567.10" font-size="19.2" text-anchor="middle" fill="#262626">15</text>
<text x="465.76" y="567.10" font-size="19.2" text-anchor="middle" fill="#ffffff">6</text>
<text x="503.94" y="567.10" font-size="19.2" text-anchor="middle" fill="#262626">13</text>
<text x="542.11" y="567.10" font-size="19.2" text-anchor="middle" fill="#262626">12</text>
<text x="580.29" y="567.10" font-size="19.2" text-anchor="middle" fill="#262626">1</text>
<text x="618.46" y="567.10" font-size="19.2" text-anchor="middle" fill="#262626">7</text>
<text x="656.64" y="567.10" font-size="19.2" text-anchor="middle" fill="#262626">3</text>
<text x="694.81" y="567.10" font-size="19.2" text-anchor="middle" fill="#262626">14</text>
<text x="122.19" y="598.90" font-size="19.2" text-anchor="middle" fill="#ffffff">10</text>
<text x="160.36" y="598.90" font-size="19.2" text-anchor="middle" fill="#ffffff">8</text>
<text x="198.54" y="598.90" font-size="19.2" text-anchor="middle" fill="#ffffff">9</text>
<text x="236.71" y="598.90" font-size="19.2" text-anchor="middle" fill="#ffffff">16</text>
<text x="274.89" y="598.90" font-size="19.2" text-anchor="middle" fill="#ffffff">4</text>
<text x="313.06" y="598.90" font-size="19.2" text-anchor="middle" fill="#ffffff">2</text>
<text x="351.24" y="598.90" font-size="19.2" text-anchor="middle" fill="#ffffff">11</text>
<text x="389.41" y="598.90" font-size="19.2" text-anchor="middle" fill="#262626">5</text>
<text x="427.59" y="598.90" font-size="19.2" text-anchor="middle" fill="#ffffff">6</text>
<text x="465.76" y="598.90" font-size="19.2" text-anchor="middle" fill="#262626">13</text>
<text x="503.94" y="598.90" font-size="19.2" text-anchor="middle" fill="#262626">12</text>
<text x="542.11" y="598.90" font-size="19.2" text-anchor="middle" fill="#262626">1</text>
<text x="580.29" y="598.90" font-size="19.2" text-anchor="middle" fill="#262626">15</text>
<text x="618.46" y="598.90" font-size="19.2" text-anchor="middle" fill="#262626">7</text>
<text x="656.64" y="598.90" font-size="19.2" text-anchor="middle" fill="#262626">3</text>
<text x="694.81" y="598.90" font-size="19.2" text-anchor="middle" fill="#262626">14</text>
<text x="122.19" y="630.70" font-size="19.2" text-anchor="middle" fill="#ffffff">8</text>
<text x="160.36" y="630.70" font-size="19.2" text-anchor="middle" fill="#ffffff">9</text>
<text x="198.54" y="630.70" font-size="19.2" text-anchor="middle" fill="#ffffff">2</text>
<text x="236.71" y="630.70" font-size="19.2" text-anchor="middle" fill="#ffffff">11</text>
<text x="274.89" y="630.70" font-size="19.2" text-anchor="middle" fill="#ffffff">16</text>
<text x="313.06" y="630.70" font-size="19.2" text-anchor="middle" fill="#ffffff">4</text>
<text x="351.24" y="630.70" font-size="19.2" text-anchor="middle" fill="#262626">1</text>
<text x="389.41" y="630.70" font-size="19.2" text-anchor="middle" fill="#262626">5</text>
<text x="427.59" y="630.70" font-size="19.2" text-anchor="middle" fill="#262626">15</text>
<text x="465.76" y="630.70" font-size="19.2" text-anchor="middle" fill="#ffffff">6</text>
<text x="503.94" y="630.70" font-size="19.2" text-anchor="middle" fill="#262626">12</text>
<text x="542.11" y="630.70" font-size="19.2" text-anchor="middle" fill="#262626">13</text>
<text x="580.29" y="630.70" font-size="19.2" text-anchor="middle" fill="#262626">7</text>
<text x="618.46" y="630.70" font-size="19.2" text-anchor="middle" fill="#ffffff">10</text>
<text x="656.64" y="630.70" font-size="19.2" text-anchor="middle" fill="#262626">3</text>
<text x="694.81" y="630.70" font-size="19.2" text-anchor="middle" fill="#262626">14</text>
<text x="122.19" y="662.50" font-size="19.2" text-anchor="middle" fill="#ffffff">8</text>
<text x="160.36" y="662.50" font-size="19.2" text-anchor="middle" fill="#ffffff">9</text>
<text x="198.54" y="662.50" font-size="19.2" text-anchor="middle" fill="#ffffff">6</text>
<text x="236.71" y="662.50" font-size="19.2" text-anchor="middle" fill="#ffffff">2</text>
<text x="274.89" y="662.50" font-size="19.2" text-anchor="middle" fill="#ffffff">16</text>
<text x="313.06" y="662.50" font-size="19.2" text-anchor="middle" fill="#ffffff">11</text>
<text x="351.24" y="662.50" font-size="19.2" text-anchor="middle" fill="#ffffff">4</text>
<text x="389.41" y="662.50" font-size="19.2" text-anchor="middle" fill="#262626">5</text>
<text x="427.59" y="662.50" font-size="19.2" text-anchor="middle" fill="#262626">1</text>
<text x="465.76" y="662.50" font-size="19.2" text-anchor="middle" fill="#262626">7</text>
<text x="503.94" y="662.50" font-size="19.2" text-anchor="middle" fill="#262626">12</text>
<text x="542.11" y="662.50" font-size="19.2" text-anchor="middle" fill="#262626">13</text>
<text x="580.29" y="662.50" font-size="19.2" text-anchor="middle" fill="#262626">15</text>
<text x="618.46" y="662.50" font-size="19.2" text-anchor="middle" fill="#ffffff">10</text>
<text x="656.64" y="662.50" font-size="19.2" text-anchor="middle" fill="#262626">3</text>
<text x="694.81" y="662.50" font-size="19.2" text-anchor="middle" fill="#262626">14</text>
<text x="122.19" y="694.30" font-size="19.2" text-anchor="middle" fill="#ffffff">8</text>
<text x="160.36" y="694.30" font-size="19.2" text-anchor="middle" fill="#ffffff">9</text>
<text x="198.54" y="694.30" font-size="19.2" text-anchor="middle" fill="#ffffff">4</text>
<text x="236.71" y="694.30" font-size="19.2" text-anchor="middle" fill="#ffffff">6</text>
<text x="274.89" y="694.30" font-size="19.2" text-anchor="middle" fill="#ffffff">2</text>
<text x="313.06" y="694.30" font-size="19.2" text-anchor="middle" fill="#262626">1</text>
<text x="351.24" y="694.30" font-size="19.2" text-anchor="middle" fill="#ffffff">16</text>
<text x="389.41" y="694.30" font-size="19.2" text-anchor="middle" fill="#ffffff">11</text>
<text x="427.59" y="694.30" font-size="19.2" text-anchor="middle" fill="#262626">5</text>
<text x="465.76" y="694.30" font-size="19.2" text-anchor="middle" fill="#262626">13</text>
<text x="503.94" y="694.30" font-size="19.2" text-anchor="middle" fill="#262626">12</text>
<text x="542.11" y="694.30" font-size="19.2" text-anchor="middle" fill="#262626">7</text>
<text x="580.29" y="694.30" font-size="19.2" text-anchor="middle" fill="#262626">15</text>
<text x="618.46" y="694.30" font-size="19.2" text-anchor="middle" fill="#ffffff">10</text>
<text x="656.64" y="694.30" font-size="19.2" text-anchor="middle" fill="#262626">3</text>
<text x="694.81" y="694.30" font-size="19.2" text-anchor="middle" fill="#262626">14</text>
<text x="122.19" y="726.10" font-size="19.2" text-anchor="middle" fill="#ffffff">8</text>
<text x="160.36" y="726.10" font-size="19.2" text-anchor="middle" fill="#ffffff">9</text>
<text x="198.54" y="726.10" font-size="19.2" text-anchor="middle" fill="#ffffff">4</text>
<text x="236.71" y="726.10" font-size="19.2" text-anchor="middle" fill="#ffffff">6</text>
<text x="274.89" y="726.10" font-size="19.2" text-anchor="middle" fill="#ffffff">2</text>
<text x="313.06" y="726.10" font-size="19.2" text-anchor="middle" fill="#262626">1</text>
<text x="351.24" y="726.10" font-size="19.2" text-anchor="middle" fill="#ffffff">16</text>
<text x="389.41" y="726.10" font-size="19.2" text-anchor="middle" fill="#ffffff">11</text>
<text x="427.59" y="726.10" font-size="19.2" text-anchor="middle" fill="#262626">5</text>
<text x="465.76" y="726.10" font-size="19.2" text-anchor="middle" fill="#262626">7</text>
<text x="503.94" y="726.10" font-size="19.2" text-anchor="middle" fill="#262626">13</text>
<text x="542.11" y="726.10" font-size="19.2" text-anchor="middle" fill="#262626">12</text>
<text x="580.29" y="726.10" font-size="19.2" text-anchor="middle" fill="#262626">15</text>
<text x="618.46" y="726.10" font-size="19.2" text-anchor="middle" fill="#262626">3</text>
<text x="656.64" y="726.10" font-size="19.2" text-anchor="middle" fill="#ffffff">10</text>
<text x="694.81" y="726.10" font-size="19.2" text-anchor="middle" fill="#262626">14</text>
<rect x="103.10" y="543.00" width="610.80" height="5.6" fill="#000"/>
<rect x="103.10" y="606.60" width="610.80" height="5.6" fill="#000"/>
<rect x="103.10" y="670.20" width="610.80" height="5.6" fill="#000"/>
</g>
<g>
<rect x="103.10" y="826.10" width="38.57" height="32.20" fill="#fc5b2e"/>
<rect x="141.27" y="826.10" width="38.57" height="32.20" fill="#800026"/>
<rect x="179.45" y="826.10" width="38.57" height="32.20" fill="#c40524"/>
<rect x="217.62" y="826.10" width="38.57" height="32.20" fill="#a10026"/>
<rect x="255.80" y="826.10" width="38.57" height="32.20" fill="#fd7e38"/>
<rect x="293.98" y="826.10" width="38.57" height="32.20" fill="#e7231e"/>
<rect x="332.15" y="826.10" width="38.57" height="32.20" fill="#cf0c21"/>
<rect x="370.32" y="826.10" width="38.57" height="32.20" fill="#fd913e"/>
<rect x="408.50" y="826.10" width="38.57" height="32.20" fill="#feb34d"/>
<rect x="446.67" y="826.10" width="38.57" height="32.20" fill="#fed16e"/>
<rect x="484.85" y="826.10" width="38.57" height="32.20" fill="#f33b25"/>
<rect x="523.02" y="826.10" width="38.57" height="32.20" fill="#fedb7a"/>
<rect x="561.20" y="826.10" width="38.57" height="32.20" fill="#ffeda1"/>
<rect x="599.38" y="826.10" width="38.57" height="32.20" fill="#feab49"/>
<rect x="637.55" y="826.10" width="38.57" height="32.20" fill="#fff7b7"/>
<rect x="675.73" y="826.10" width="38.57" height="32.20" fill="#ffffcc"/>
<rect x="103.10" y="857.90" width="38.57" height="32.20" fill="#fc5b2e"/>
<rect x="141.27" y="857.90" width="38.57" height="32.20" fill="#800026"/>
<rect x="179.45" y="857.90" width="38.57" height="32.20" fill="#c40524"/>
<rect x="217.62" y="857.90" width="38.57" height="32.20" fill="#a10026"/>
<rect x="255.80" y="857.90" width="38.57" height="32.20" fill="#e7231e"/>
<rect x="293.98" y="857.90" width="38.57" height="32.20" fill="#cf0c21"/>
<rect x="332.15" y="857.90" width="38.57" height="32.20" fill="#fd7e38"/>
<rect x="370.32" y="857.90" width="38.57" height="32.20" fill="#fd913e"/>
<rect x="408.50" y="857.90" width="38.57" height="32.20" fill="#feb34d"/>
<rect x="446.67" y="857.90" width="38.57" height="32.20" fill="#f33b25"/>
<rect x="484.85" y="857.90" width="38.57" height="32.20" fill="#fed16e"/>
<rect x="523.02" y="857.90" width="38.57" height="32.20" fill="#fedb7a"/>
<rect x="561.20" y="857.90" width="38.57" height="32.20" fill="#ffeda1"/>
<rect x="599.38" y="857.90" width="38.57" height="32.20" fill="#feab49"/>
<rect x="637.55" y="857.90" width="38.57" height="32.20" fill="#fff7b7"/>
<rect x="675.73" y="857.90" width="38.57" height="32.20" fill="#ffffcc"/>
<rect x="103.10" y="889.70" width="38.57" height="32.20" fill="#fc5b2e"/>
<rect x="141.27" y="889.70" width="38.57" height="32.20" fill="#800026"/>
<rect x="179.45" y="889.70" width="38.57" height="32.20" fill="#c40524"/>
<rect x="217.62" y="889.70" width="38.57" height="32.20" fill="#a10026"/>
<rect x="255.80" y="889.70" width="38.57" height="32.20" fill="#e7231e"/>
<rect x="293.98" y="889.70" width="38.57" height="32.20" fill="#cf0c21"/>
<rect x="332.15" y="889.70" width="38.57" height="32.20" fill="#fd7e38"/>
<rect x="370.32" y="889.70" width="38.57" height="32.20" fill="#f33b25"/>
<rect x="408.50" y="889.70" width="38.57" height="32.20" fill="#fd913e"/>
<rect x="446.67" y="889.70" width="38.57" height="32.20" fill="#fedb7a"/>
<rect x="484.85" y="889.70" width="38.57" height="32.20" fill="#feb34d"/>
<rect x="523.02" y="889.70" width="38.57" height="32.20" fill="#ffeda1"/>
<rect x="561.20" y="889.70" width="38.57" height="32.20" fill="#fed16e"/>
<rect x="599.38" y="889.70" width="38.57" height="32.20" fill="#feab49"/>
<rect x="637.55" y="889.70" width="38.57" height="32.20" fill="#fff7b7"/>
<rect x="675.73" y="889.70" width="38.57" height="32.20" fill="#ffffcc"/>
<rect x="103.10" y="921.50" width="38.57" height="32.20" fill="#fc5b2e"/>
<rect x="141.27" y="921.50" width="38.57" height="32.20" fill="#800026"/>
<rect x="179.45" y="921.50" width="38.57" height="32.20" fill="#a10026"/>
<rect x="217.62" y="921.50" width="38.57" height="32.20" fill="#e7231e"/>
<rect x="255.80" y="921.50" width="38.57" height="32.20" fill="#cf0c21"/>
<rect x="293.98" y="921.50" width="38.57" height="32.20" fill="#f33b25"/>
<rect x="332.15" y="921.50" width="38.57" height="32.20" fill="#c40524"/>
<rect x="370.32" y="921.50" width="38.57" height="32.20" fill="#fd7e38"/>
<rect x="408.50" y="921.50" width="38.57" height="32.20" fill="#fedb7a"/>
<rect x="446.67" y="921.50" width="38.57" height="32.20" fill="#feb34d"/>
<rect x="484.85" y="921.50" width="38.57" height="32.20" fill="#fd913e"/>
<rect x="523.02" y="921.50" width="38.57" height="32.20" fill="#fed16e"/>
<rect x="561.20" y="921.50" width="38.57" height="32.20" fill="#feab49"/>
<rect x="599.38" y="921.50" width="38.57" height="32.20" fill="#ffeda1"/>
<rect x="637.55" y="921.50" width="38.57" height="32.20" fill="#fff7b7"/>
<rect x="675.73" y="921.50" width="38.57" height="32.20" fill="#ffffcc"/>
<rect x="103.10" y="953.30" width="38.57" height="32.20" fill="#a10026"/>
<rect x="141.27" y="953.30" width="38.57" height="32.20" fill="#800026"/>
<rect x="179.45" y="953.30" width="38.57" height="32.20" fill="#e7231e"/>
<rect x="217.62" y="953.30" width="38.57" height="32.20" fill="#c40524"/>
<rect x="255.80" y="953.30" width="38.57" height="32.20" fill="#cf0c21"/>
<rect x="293.98" y="953.30" width="38.57" height="32.20" fill="#f33b25"/>
<rect x="332.15" y="953.30" width="38.57" height="32.20" fill="#feab49"/>
<rect x="370.32" y="953.30" width="38.57" height="32.20" fill="#fd7e38"/>
<rect x="408.50" y="953.30" width="38.57" height="32.20" fill="#feb34d"/>
<rect x="446.67" y="953.30" width="38.57" height="32.20" fill="#fedb7a"/>
<rect x="484.85" y="953.30" width="38.57" height="32.20" fill="#fd913e"/>
<rect x="523.02" y="953.30" width="38.57" height="32.20" fill="#ffeda1"/>
<rect x="561.20" y="953.30" width="38.57" height="32.20" fill="#fed16e"/>
<rect x="599.38" y="953.30" width="38.57" height="32.20" fill="#fc5b2e"/>
<rect x="637.55" y="953.30" width="38.57" height="32.20" fill="#fff7b7"/>
<rect x="675.73" y="953.30" width="38.57" height="32.20" fill="#ffffcc"/>
<rect x="103.10" y="985.10" width="38.57" height="32.20" fill="#f33b25"/>
<rect x="141.27" y="985.10" width="38.57" height="32.20" fill="#cf0c21"/>
<rect x="179.45" y="985.10" width="38.57" height="32.20" fill="#feab49"/>
<rect x="217.62" y="985.10" width="38.57" height="32.20" fill="#a10026"/>
<rect x="255.80" y="985.10" width="38.57" height="32.20" fill="#e7231e"/>
<rect x="293.98" y="985.10" width="38.57" height="32.20" fill="#800026"/>
<rect x="332.15" y="985.10" width="38.57" height="32.20" fill="#c40524"/>
<rect x="370.32" y="985.10" width="38.57" height="32.20" fill="#fed16e"/>
<rect x="408.50" y="985.10" width="38.57" height="32.20" fill="#fd7e38"/>
<rect x="446.67" y="985.10" width="38.57" height="32.20" fill="#feb34d"/>
<rect x="484.85" y="985.10" width="38.57" height="32.20" fill="#ffeda1"/>
<rect x="523.02" y="985.10" width="38.57" height="32.20" fill="#fd913e"/>
<rect x="561.20" y="985.10" width="38.57" height="32.20" fill="#fedb7a"/>
<rect x="599.38" y="985.10" width="38.57" height="32.20" fill="#fc5b2e"/>
<rect x="637.55" y="985.10" width="38.57" height="32.20" fill="#fff7b7"/>
<rect x="675.73" y="985.10" width="38.57" height="32.20" fill="#ffffcc"/>
<rect x="103.10" y="1016.90" width="38.57" height="32.20" fill="#f33b25"/>
<rect x="141.27" y="1016.90" width="38.57" height="32.20" fill="#c40524"/>
<rect x="179.45" y="1016.90" width="38.57" height="32.20" fill="#cf0c21"/>
<rect x="217.62" y="1016.90" width="38.57" height="32.20" fill="#a10026"/>
<rect x="255.80" y="1016.90" width="38.57" height="32.20" fill="#800026"/>
<rect x="293.98" y="1016.90" width="38.57" height="32.20" fill="#e7231e"/>
<rect x="332.15" y="1016.90" width="38.57" height="32.20" fill="#feab49"/>
<rect x="370.32" y="1016.90" width="38.57" height="32.20" fill="#fd7e38"/>
<rect x="408.50" y="1016.90" width="38.57" height="32.20" fill="#fd913e"/>
<rect x="446.67" y="1016.90" width="38.57" height="32.20" fill="#ffeda1"/>
<rect x="484.85" y="1016.90" width="38.57" height="32.20" fill="#feb34d"/>
<rect x="523.02" y="1016.90" width="38.57" height="32.20" fill="#fed16e"/>
<rect x="561.20" y="1016.90" width="38.57" height="32.20" fill="#fedb7a"/>
<rect x="599.38" y="1016.90" width="38.57" height="32.20" fill="#fff7b7"/>
<rect x="637.55" y="1016.90" width="38.57" height="32.20" fill="#fc5b2e"/>
<rect x="675.73" y="1016.90" width="38.57" height="32.20" fill="#ffffcc"/>
<rect x="103.10" y="1048.70" width="38.57" height="32.20" fill="#f33b25"/>
<rect x="141.27" y="1048.70" width="38.57" height="32.20" fill="#c40524"/>
<rect x="179.45" y="1048.70" width="38.57" height="32.20" fill="#cf0c21"/>
<rect x="217.62" y="1048.70" width="38.57" height="32.20" fill="#a10026"/>
<rect x="255.80" y="1048.70" width="38.57" height="32.20" fill="#feab49"/>
<rect x="293.98" y="1048.70" width="38.57" height="32.20" fill="#800026"/>
<rect x="332.15" y="1048.70" width="38.57" height="32.20" fill="#e7231e"/>
<rect x="370.32" y="1048.70" width="38.57" height="32.20" fill="#fd913e"/>
<rect x="408.50" y="1048.70" width="38.57" height="32.20" fill="#feb34d"/>
<rect x="446.67" y="1048.70" width="38.57" height="32.20" fill="#ffeda1"/>
<rect x="484.85" y="1048.70" width="38.57" height="32.20" fill="#fd7e38"/>
<rect x="523.02" y="1048.70" width="38.57" height="32.20" fill="#fed16e"/>
<rect x="561.20" y="1048.70" width="38.57" height="32.20" fill="#fedb7a"/>
<rect x="599.38" y="1048.70" width="38.57" height="32.20" fill="#fff7b7"/>
<rect x="637.55" y="1048.70" width="38.57" height="32.20" fill="#fc5b2e"/>
<rect x="675.73" y="1048.70" width="38.57" height="32.20" fill="#ffffcc"/>
<text x="122.19" y="847.40" font-size="19.2" text-anchor="middle" fill="#ffffff">10</text>
<text x="160.36" y="847.40" font-size="19.2" text-anchor="middle" fill="#ffffff">9</text>
<text x="198.54" y="847.40" font-size="19.2" text-anchor="middle" fill="#ffffff">4</text>
<text x="236.71" y="847.40" font-size="19.2" text-anchor="middle" fill="#ffffff">16</text>
<text x="274.89" y="847.40" font-size="19.2" text-anchor="middle" fill="#ffffff">8</text>
<text x="313.06" y="847.40" font-size="19.2" text-anchor="middle" fill="#ffffff">11</text>
<text x="351.24" y="847.40" font-size="19.2" text-anchor="middle" fill="#ffffff">5</text>
<text x="389.41" y="847.40" font-size="19.2" text-anchor="middle" fill="#262626">13</text>
<text x="427.59" y="847.40" font-size="19.2" text-anchor="middle" fill="#262626">1</text>
<text x="465.76" y="847.40" font-size="19.2" text-anchor="middle" fill="#262626">12</text>
<text x="503.94" y="847.40" font-size="19.2" text-anchor="middle" fill="#ffffff">6</text>
<text x="542.11" y="847.40" font-size="19.2" text-anchor="middle" fill="#262626">15</text>
<text x="580.29" y="847.40" font-size="19.2" text-anchor="middle" fill="#262626">2</text>
<text x="618.46" y="847.40" font-size="19.2" text-anchor="middle" fill="#262626">7</text>
<text x="656.64" y="847.40" font-size="19.2" text-anchor="middle" fill="#262626">3</text>
<text x="694.81" y="847.40" font-size="19.2" text-anchor="middle" fill="#262626">14</text>
<text x="122.19" y="879.20" font-size="19.2" text-anchor="middle" fill="#ffffff">10</text>
<text x="160.36" y="879.20" font-size="19.2" text-anchor="middle" fill="#ffffff">9</text>
<text x="198.54" y="879.20" font-size="19.2" text-anchor="middle" fill="#ffffff">4</text>
<text x="236.71" y="879.20" font-size="19.2" text-anchor="middle" fill="#ffffff">16</text>
<text x="274.89" y="879.20" font-size="19.2" text-anchor="middle" fill="#ffffff">11</text>
<text x="313.06" y="879.20" font-size="19.2" text-anchor="middle" fill="#ffffff">5</text>
<text x="351.24" y="879.20" font-size="19.2" text-anchor="middle" fill="#ffffff">8</text>
<text x="389.41" y="879.20" font-size="19.2" text-anchor="middle" fill="#262626">13</text>
<text x="427.59" y="879.20" font-size="19.2" text-anchor="middle" fill="#262626">1</text>
<text x="465.76" y="879.20" font-size="19.2" text-anchor="middle" fill="#ffffff">6</text>
<text x="503.94" y="879.20" font-size="19.2" text-anchor="middle" fill="#262626">12</text>
<text x="542.11" y="879.20" font-size="19.2" text-anchor="middle" fill="#262626">15</text>
<text x="580.29" y="879.20" font-size="19.2" text-anchor="middle" fill="#262626">2</text>
<text x="618.46" y="879.20" font-size="19.2" text-anchor="middle" fill="#262626">7</text>
<text x="656.64" y="879.20" font-size="19.2" text-anchor="middle" fill="#262626">3</text>
<text x="694.81" y="879.20" font-size="19.2" text-anchor="middle" fill="#262626">14</text>
<text x="122.19" y="911.00" font-size="19.2" text-anchor="middle" fill="#ffffff">10</text>
<text x="160.36" y="911.00" font-size="19.2" text-anchor="middle" fill="#ffffff">9</text>
<text x="198.54" y="911.00" font-size="19.2" text-anchor="middle" fill="#ffffff">4</text>
<text x="236.71" y="911.00" font-size="19.2" text-anchor="middle" fill="#ffffff">16</text>
<text x="274.89" y="911.00" font-size="19.2" text-anchor="middle" fill="#ffffff">11</text>
<text x="313.06" y="911.00" font-size="19.2" text-anchor="middle" fill="#ffffff">5</text>
<text x="351.24" y="911.00" font-size="19.2" text-anchor="middle" fill="#ffffff">8</text>
<text x="389.41" y="911.00" font-size="19.2" text-anchor="middle" fill="#ffffff">6</text>
<text x="427.59" y="911.00" font-size="19.2" text-anchor="middle" fill="#262626">13</text>
<text x="465.76" y="911.00" font-size="19.2" text-anchor="middle" fill="#262626">15</text>
<text x="503.94" y="911.00" font-size="19.2" text-anchor="middle" fill="#262626">1</text>
<text x="542.11" y="911.00" font-size="19.2" text-anchor="middle" fill="#262626">2</text>
<text x="580.29" y="911.00" font-size="19.2" text-anchor="middle" fill="#262626">12</text>
<text x="618.46" y="911.00" font-size="19.2" text-anchor="middle" fill="#262626">7</text>
<text x="656.64" y="911.00" font-size="19.2" text-anchor="middle" fill="#262626">3</text>
<text x="694.81" y="911.00" font-size="19.2" text-anchor="middle" fill="#262626">14</text>
<text x="122.19" y="942.80" font-size="19.2" text-anchor="middle" fill="#ffffff">10</text>
<text x="160.36" y="942.80" font-size="19.2" text-anchor="middle" fill="#ffffff">9</text>
<text x="198.54" y="942.80" font-size="19.2" text-anchor="middle" fill="#ffffff">16</text>
<text x="236.71" y="942.80" font-size="19.2" text-anchor="middle" fill="#ffffff">11</text>
<text x="274.89" y="942.80" font-size="19.2" text-anchor="middle" fill="#ffffff">5</text>
<text x="313.06" y="942.80" font-size="19.2" text-anchor="middle" fill="#ffffff">6</text>
<text x="351.24" y="942.80" font-size="19.2" text-anchor="middle" fill="#ffffff">4</text>
<text x="389.41" y="942.80" font-size="19.2" text-anchor="middle" fill="#ffffff">8</text>
<text x="427.59" y="942.80" font-size="19.2" text-anchor="middle" fill="#262626">15</text>
<text x="465.76" y="942.80" font-size="19.2" text-anchor="middle" fill="#262626">1</text>
<text x="503.94" y="942.80" font-size="19.2" text-anchor="middle" fill="#262626">13</text>
<text x="542.11" y="942.80" font-size="19.2" text-anchor="middle" fill="#262626">12</text>
<text x="580.29" y="942.80" font-size="19.2" text-anchor="middle" fill="#262626">7</text>
<text x="618.46" y="942.80" font-size="19.2" text-anchor="middle" fill="#262626">2</text>
<text x="656.64" y="942.80" font-size="19.2" text-anchor="middle" fill="#262626">3</text>
<text x="694.81" y="942.80" font-size="19.2" text-anchor="middle" fill="#262626">14</text>
<text x="122.19" y="974.60" font-size="19.2" text-anchor="middle" fill="#ffffff">16</text>
<text x="160.36" y="974.60" font-size="19.2" text-anchor="middle" fill="#ffffff">9</text>
<text x="198.54" y="974.60" font-size="19.2" text-anchor="middle" fill="#ffffff">11</text>
<text x="236.71" y="974.60" font-size="19.2" text-anchor="middle" fill="#ffffff">4</text>
<text x="274.89" y="974.60" font-size="19.2" text-anchor="middle" fill="#ffffff">5</text>
<text x="313.06" y="974.60" font-size="19.2" text-anchor="middle" fill="#ffffff">6</text>
<text x="351.24" y="974.60" font-size="19.2" text-anchor="middle" fill="#262626">7</text>
<text x="389.41" y="974.60" font-size="19.2" text-anchor="middle" fill="#ffffff">8</text>
<text x="427.59" y="974.60" font-size="19.2" text-anchor="middle" fill="#262626">1</text>
<text x="465.76" y="974.60" font-size="19.2" text-anchor="middle" fill="#262626">15</text>
<text x="503.94" y="974.60" font-size="19.2" text-anchor="middle" fill="#262626">13</text>
<text x="542.11" y="974.60" font-size="19.2" text-anchor="middle" fill="#262626">2</text>
<text x="580.29" y="974.60" font-size="19.2" text-anchor="middle" fill="#262626">12</text>
<text x="618.46" y="974.60" font-size="19.2" text-anchor="middle" fill="#ffffff">10</text>
<text x="656.64" y="974.60" font-size="19.2" text-anchor="middle" fill="#262626">3</text>
<text x="694.81" y="974.60" font-size="19.2" text-anchor="middle" fill="#262626">14</text>
<text x="122.19" y="1006.40" font-size="19.2" text-anchor="middle" fill="#ffffff">6</text>
<text x="160.36" y="1006.40" font-size="19.2" text-anchor="middle" fill="#ffffff">5</text>
<text x="198.54" y="1006.40" font-size="19.2" text-anchor="middle" fill="#262626">7</text>
<text x="236.71" y="1006.40" font-size="19.2" text-anchor="middle" fill="#ffffff">16</text>
<text x="274.89" y="1006.40" font-size="19.2" text-anchor="middle" fill="#ffffff">11</text>
<text x="313.06" y="1006.40" font-size="19.2" text-anchor="middle" fill="#ffffff">9</text>
<text x="351.24" y="1006.40" font-size="19.2" text-anchor="middle" fill="#ffffff">4</text>
<text x="389.41" y="1006.40" font-size="19.2" text-anchor="middle" fill="#262626">12</text>
<text x="427.59" y="1006.40" font-size="19.2" text-anchor="middle" fill="#ffffff">8</text>
<text x="465.76" y="1006.40" font-size="19.2" text-anchor="middle" fill="#262626">1</text>
<text x="503.94" y="1006.40" font-size="19.2" text-anchor="middle" fill="#262626">2</text>
<text x="542.11" y="1006.40" font-size="19.2" text-anchor="middle" fill="#262626">13</text>
<text x="580.29" y="1006.40" font-size="19.2" text-anchor="middle" fill="#262626">15</text>
<text x="618.46" y="1006.40" font-size="19.2" text-anchor="middle" fill="#ffffff">10</text>
<text x="656.64" y="1006.40" font-size="19.2" text-anchor="middle" fill="#262626">3</text>
<text x="694.81" y="1006.40" font-size="19.2" text-anchor="middle" fill="#262626">14</text>
<text x="122.19" y="1038.20" font-size="19.2" text-anchor="middle" fill="#ffffff">6</text>
<text x="160.36" y="1038.20" font-size="19.2" text-anchor="middle" fill="#ffffff">4</text>
<text x="198.54" y="1038.20" font-size="19.2" text-anchor="middle" fill="#ffffff">5</text>
<text x="236.71" y="1038.20" font-size="19.2" text-anchor="middle" fill="#ffffff">16</text>
<text x="274.89" y="1038.20" font-size="19.2" text-anchor="middle" fill="#ffffff">9</text>
<text x="313.06" y="1038.20" font-size="19.2" text-anchor="middle" fill="#ffffff">11</text>
<text x="351.24" y="1038.20" font-size="19.2" text-anchor="middle" fill="#262626">7</text>
<text x="389.41" y="1038.20" font-size="19.2" text-anchor="middle" fill="#ffffff">8</text>
<text x="427.59" y="1038.20" font-size="19.2" text-anchor="middle" fill="#262626">13</text>
<text x="465.76" y="1038.20" font-size="19.2" text-anchor="middle" fill="#262626">2</text>
<text x="503.94" y="1038.20" font-size="19.2" text-anchor="middle" fill="#262626">1</text>
<text x="542.11" y="1038.20" font-size="19.2" text-anchor="middle" fill="#262626">12</text>
<text x="580.29" y="1038.20" font-size="19.2" text-anchor="middle" fill="#262626">15</text>
<text x="618.46" y="1038.20" font-size="19.2" text-anchor="middle" fill="#262626">3</text>
<text x="656.64" y="1038.20" font-size="19.2" text-anchor="middle" fill="#ffffff">10</text>
<text x="694.81" y="1038.20" font-size="19.2" text-anchor="middle" fill="#262626">14</text>
<text x="122.19" y="1070.00" font-size="19.2" text-anchor="middle" fill="#ffffff">6</text>
<text x="160.36" y="1070.00" font-size="19.2" text-anchor="middle" fill="#ffffff">4</text>
<text x="198.54" y="1070.00" font-size="19.2" text-anchor="middle" fill="#ffffff">5</text>
<text x="236.71" y="1070.00" font-size="19.2" text-anchor="middle" fill="#ffffff">16</text>
<text x="274.89" y="1070.00" font-size="19.2" text-anchor="middle" fill="#262626">7</text>
<text x="313.06" y="1070.00" font-size="19.2" text-anchor="middle" fill="#ffffff">9</text>
<text x="351.24" y="1070.00" font-size="19.2" text-anchor="middle" fill="#ffffff">11</text>
<text x="389.41" y="1070.00" font-size="19.2" text-anchor="middle" fill="#262626">13</text>
<text x="427.59" y="1070.00" font-size="19.2" text-anchor="middle" fill="#262626">1</text>
<text x="465.76" y="1070.00" font-size="19.2" text-anchor="middle" fill="#262626">2</text>
<text x="503.94" y="1070.00" font-size="19.2" text-anchor="middle" fill="#ffffff">8</text>
<text x="542.11" y="1070.00" font-size="19.2" text-anchor="middle" fill="#262626">12</text>
<text x="580.29" y="1070.00" font-size="19.2" text-anchor="middle" fill="#262626">15</text>
<text x="618.46" y="1070.00" font-size="19.2" text-anchor="middle" fill="#262626">3</text>
<text x="656.64" y="1070.00" font-size="19.2" text-anchor="middle" fill="#ffffff">10</text>
<text x="694.81" y="1070.00" font-size="19.2" text-anchor="middle" fill="#262626">14</text>
<rect x="103.10" y="886.90" width="610.80" height="5.6" fill="#000"/>
<rect x="103.10" y="950.50" width="610.80" height="5.6" fill="#000"/>
<rect x="103.10" y="1014.10" width="610.80" height="5.6" fill="#000"/>
</g>
<g>
<rect x="770.1" y="137.90" width="139.20" height="51.30" fill="#62a6cd"/>
<rect x="908.9" y="137.90" width="138.80" height="51.30" fill="#d3d3e7"/>
<rect x="770.1" y="188.80" width="139.20" height="51.30" fill="#3e94c3"/>
<rect x="908.9" y="188.80" width="138.80" height="51.30" fill="#fef6fa"/>
<rect x="770.1" y="239.70" width="139.20" height="51.30" fill="#4f9dc8"/>
<rect x="908.9" y="239.70" width="138.80" height="51.30" fill="#dfdaeb"/>
<rect x="770.1" y="290.60" width="139.20" height="51.30" fill="#3e94c3"/>
<rect x="908.9" y="290.60" width="138.80" height="51.30" fill="#e5deed"/>
<rect x="770.1" y="341.50" width="139.20" height="51.30" fill="#308eba"/>
<rect x="908.9" y="341.50" width="138.80" height="51.30" fill="#d6d5e8"/>
<text x="839.50" y="169.05" font-size="20.5" text-anchor="middle" fill="#ffffff">2.6</text>
<text x="978.30" y="169.05" font-size="20.5" text-anchor="middle" fill="#262626">-0.72</text>
<text x="839.50" y="219.95" font-size="20.5" text-anchor="middle" fill="#ffffff">4.5</text>
<text x="978.30" y="219.95" font-size="20.5" text-anchor="middle" fill="#262626">-1.9</text>
<text x="839.50" y="270.85" font-size="20.5" text-anchor="middle" fill="#ffffff">3.5</text>
<text x="978.30" y="270.85" font-size="20.5" text-anchor="middle" fill="#262626">-1.1</text>
<text x="839.50" y="321.75" font-size="20.5" text-anchor="middle" fill="#ffffff">4.5</text>
<text x="978.30" y="321.75" font-size="20.5" text-anchor="middle" fill="#262626">-1.3</text>
<text x="839.50" y="372.65" font-size="20.5" text-anchor="middle" fill="#ffffff">5.8</text>
<text x="978.30" y="372.65" font-size="20.5" text-anchor="middle" fill="#262626">-0.79</text>
</g>
<g>
<rect x="770.1" y="482.20" width="139.20" height="32.20" fill="#76aed2"/>
<rect x="908.9" y="482.20" width="138.80" height="32.20" fill="#014b3a"/>
<rect x="770.1" y="514.00" width="139.20" height="32.20" fill="#5aa2cb"/>
<rect x="908.9" y="514.00" width="138.80" height="32.20" fill="#016a57"/>
<rect x="770.1" y="545.80" width="139.20" height="32.20" fill="#6aaad0"/>
<rect x="908.9" y="545.80" width="138.80" height="32.20" fill="#027d80"/>
<rect x="770.1" y="577.60" width="139.20" height="32.20" fill="#90b6d7"/>
<rect x="908.9" y="577.60" width="138.80" height="32.20" fill="#208aa9"/>
<rect x="770.1" y="609.40" width="139.20" height="32.20" fill="#5aa2cb"/>
<rect x="908.9" y="609.40" width="138.80" height="32.20" fill="#82b0d3"/>
<rect x="770.1" y="641.20" width="139.20" height="32.20" fill="#3a92c1"/>
<rect x="908.9" y="641.20" width="138.80" height="32.20" fill="#5da4cc"/>
<rect x="770.1" y="673.00" width="139.20" height="32.20" fill="#499ac6"/>
<rect x="908.9" y="673.00" width="138.80" height="32.20" fill="#88b3d5"/>
<rect x="770.1" y="704.80" width="139.20" height="32.20" fill="#3790c0"/>
<rect x="908.9" y="704.80" width="138.80" height="32.20" fill="#4b9ac6"/>
<text x="839.50" y="503.80" font-size="20.5" text-anchor="middle" fill="#ffffff">1.9</text>
<text x="978.30" y="503.80" font-size="20.5" text-anchor="middle" fill="#ffffff">23</text>
<text x="839.50" y="535.60" font-size="20.5" text-anchor="middle" fill="#ffffff">2.9</text>
<text x="978.30" y="535.60" font-size="20.5" text-anchor="middle" fill="#ffffff">15</text>
<text x="839.50" y="567.40" font-size="20.5" text-anchor="middle" fill="#ffffff">2.1</text>
<text x="978.30" y="567.40" font-size="20.5" text-anchor="middle" fill="#ffffff">10</text>
<text x="839.50" y="599.20" font-size="20.5" text-anchor="middle" fill="#262626">1.2</text>
<text x="978.30" y="599.20" font-size="20.5" text-anchor="middle" fill="#ffffff">6.7</text>
<text x="839.50" y="631.00" font-size="20.5" text-anchor="middle" fill="#ffffff">3</text>
<text x="978.30" y="631.00" font-size="20.5" text-anchor="middle" fill="#ffffff">1.5</text>
<text x="839.50" y="662.80" font-size="20.5" text-anchor="middle" fill="#ffffff">4.9</text>
<text x="978.30" y="662.80" font-size="20.5" text-anchor="middle" fill="#ffffff">2.8</text>
<text x="839.50" y="694.60" font-size="20.5" text-anchor="middle" fill="#ffffff">3.8</text>
<text x="978.30" y="694.60" font-size="20.5" text-anchor="middle" fill="#262626">1.5</text>
<text x="839.50" y="726.40" font-size="20.5" text-anchor="middle" fill="#ffffff">5.1</text>
<text x="978.30" y="726.40" font-size="20.5" text-anchor="middle" fill="#ffffff">3.6</text>
</g>
<g>
<rect x="770.1" y="826.10" width="139.20" height="32.20" fill="#499ac6"/>
<rect x="908.9" y="826.10" width="138.80" height="32.20" fill="#014838"/>
<rect x="770.1" y="857.90" width="139.20" height="32.20" fill="#027e83"/>
<rect x="908.9" y="857.90" width="138.80" height="32.20" fill="#014838"/>
<rect x="770.1" y="889.70" width="139.20" height="32.20" fill="#268bb0"/>
<rect x="908.9" y="889.70" width="138.80" height="32.20" fill="#3590bf"/>
<rect x="770.1" y="921.50" width="139.20" height="32.20" fill="#027f86"/>
<rect x="908.9" y="921.50" width="138.80" height="32.20" fill="#4799c5"/>
<rect x="770.1" y="953.30" width="139.20" height="32.20" fill="#5da4cc"/>
<rect x="908.9" y="953.30" width="138.80" height="32.20" fill="#6eabd0"/>
<rect x="770.1" y="985.10" width="139.20" height="32.20" fill="#549fc9"/>
<rect x="908.9" y="985.10" width="138.80" height="32.20" fill="#55a0ca"/>
<rect x="770.1" y="1016.90" width="139.20" height="32.20" fill="#66a9cf"/>
<rect x="908.9" y="1016.90" width="138.80" height="32.20" fill="#4f9dc8"/>
<rect x="770.1" y="1048.70" width="139.20" height="32.20" fill="#5ba3cb"/>
<rect x="908.9" y="1048.70" width="138.80" height="32.20" fill="#4b9ac6"/>
<text x="839.50" y="847.70" font-size="20.5" text-anchor="middle" fill="#ffffff">3.8</text>
<text x="978.30" y="847.70" font-size="20.5" text-anchor="middle" fill="#ffffff">24</text>
<text x="839.50" y="879.50" font-size="20.5" text-anchor="middle" fill="#ffffff">8.8</text>
<text x="978.30" y="879.50" font-size="20.5" text-anchor="middle" fill="#ffffff">23</text>
<text x="839.50" y="911.30" font-size="20.5" text-anchor="middle" fill="#ffffff">6.1</text>
<text x="978.30" y="911.30" font-size="20.5" text-anchor="middle" fill="#ffffff">5.2</text>
<text x="839.50" y="943.10" font-size="20.5" text-anchor="middle" fill="#ffffff">8.6</text>
<text x="978.30" y="943.10" font-size="20.5" text-anchor="middle" fill="#ffffff">4</text>
<text x="839.50" y="974.90" font-size="20.5" text-anchor="middle" fill="#ffffff">2.8</text>
<text x="978.30" y="974.90" font-size="20.5" text-anchor="middle" fill="#ffffff">2.1</text>
<text x="839.50" y="1006.70" font-size="20.5" text-anchor="middle" fill="#ffffff">3.3</text>
<text x="978.30" y="1006.70" font-size="20.5" text-anchor="middle" fill="#ffffff">3.2</text>
<text x="839.50" y="1038.50" font-size="20.5" text-anchor="middle" fill="#ffffff">2.4</text>
<text x="978.30" y="1038.50" font-size="20.5" text-anchor="middle" fill="#ffffff">3.4</text>
<text x="839.50" y="1070.30" font-size="20.5" text-anchor="middle" fill="#ffffff">2.9</text>
<text x="978.30" y="1070.30" font-size="20.5" text-anchor="middle" fill="#ffffff">3.6</text>
</g>
<rect x="98.1" y="162.80" width="5" height="1.1" fill="#262626"/><rect x="98.1" y="213.70" width="5" height="1.1" fill="#262626"/><rect x="98.1" y="264.60" width="5" height="1.1" fill="#262626"/><rect x="98.1" y="315.50" width="5" height="1.1" fill="#262626"/><rect x="98.1" y="366.40" width="5" height="1.1" fill="#262626"/>
<text x="96.30" y="169.05" font-size="21.8" text-anchor="end" fill="#000">Fist no. 1</text>
<text x="96.30" y="219.95" font-size="21.8" text-anchor="end" fill="#000">Fist no. 2</text>
<text x="96.30" y="270.85" font-size="21.8" text-anchor="end" fill="#000">Fist no. 3</text>
<text x="96.30" y="321.75" font-size="21.8" text-anchor="end" fill="#000">Fist no. 4</text>
<text x="96.30" y="372.65" font-size="21.8" text-anchor="end" fill="#000">Fist no. 5</text>
<rect x="98.1" y="513.45" width="5" height="1.1" fill="#262626"/><rect x="98.1" y="577.05" width="5" height="1.1" fill="#262626"/><rect x="98.1" y="640.65" width="5" height="1.1" fill="#262626"/><rect x="98.1" y="704.25" width="5" height="1.1" fill="#262626"/>
<text x="85.60" y="508.00" font-size="21.8" text-anchor="end" fill="#000">Strack</text>
<text x="85.60" y="532.00" font-size="21.8" text-anchor="end" fill="#000">no. 1</text>
<text x="85.60" y="571.60" font-size="21.8" text-anchor="end" fill="#000">Strack</text>
<text x="85.60" y="595.60" font-size="21.8" text-anchor="end" fill="#000">no. 2</text>
<text x="85.60" y="635.20" font-size="21.8" text-anchor="end" fill="#000">Strack</text>
<text x="85.60" y="659.20" font-size="21.8" text-anchor="end" fill="#000">no. 3</text>
<text x="88.80" y="698.80" font-size="21.8" text-anchor="end" fill="#000">Strack</text>
<text x="88.80" y="722.80" font-size="21.8" text-anchor="end" fill="#000">no. 4</text>
<rect x="98.1" y="857.35" width="5" height="1.1" fill="#262626"/><rect x="98.1" y="920.95" width="5" height="1.1" fill="#262626"/><rect x="98.1" y="984.55" width="5" height="1.1" fill="#262626"/><rect x="98.1" y="1048.15" width="5" height="1.1" fill="#262626"/>
<text x="85.60" y="851.90" font-size="21.8" text-anchor="end" fill="#000">Strack</text>
<text x="85.60" y="875.90" font-size="21.8" text-anchor="end" fill="#000">no. 1</text>
<text x="85.60" y="915.50" font-size="21.8" text-anchor="end" fill="#000">Strack</text>
<text x="85.60" y="939.50" font-size="21.8" text-anchor="end" fill="#000">no. 2</text>
<text x="85.60" y="979.10" font-size="21.8" text-anchor="end" fill="#000">Strack</text>
<text x="85.60" y="1003.10" font-size="21.8" text-anchor="end" fill="#000">no. 3</text>
<text x="88.80" y="1042.70" font-size="21.8" text-anchor="end" fill="#000">Strack</text>
<text x="88.80" y="1066.70" font-size="21.8" text-anchor="end" fill="#000">no. 4</text>
<rect x="121.64" y="392.40" width="1.1" height="4.9" fill="#262626"/><rect x="694.26" y="392.40" width="1.1" height="4.9" fill="#262626"/>
<text x="113.20" y="417.90" font-size="21.8" text-anchor="start" fill="#000">Most Intense</text>
<text x="708.30" y="417.90" font-size="21.8" text-anchor="end" fill="#000">Least Intense</text>
<rect x="121.64" y="736.60" width="1.1" height="4.9" fill="#262626"/><rect x="694.26" y="736.60" width="1.1" height="4.9" fill="#262626"/>
<text x="113.20" y="762.10" font-size="21.8" text-anchor="start" fill="#000">Most Intense</text>
<text x="708.30" y="762.10" font-size="21.8" text-anchor="end" fill="#000">Least Intense</text>
<rect x="121.64" y="1080.50" width="1.1" height="4.9" fill="#262626"/><rect x="694.26" y="1080.50" width="1.1" height="4.9" fill="#262626"/>
<text x="113.20" y="1106.00" font-size="21.8" text-anchor="start" fill="#000">Most Intense</text>
<text x="708.30" y="1106.00" font-size="21.8" text-anchor="end" fill="#000">Least Intense</text>
<g transform="translate(1103.20 138.10) scale(0.9993 1.0004)">
<clipPath id="clip_s6"><rect width="278.0" height="254.5"/></clipPath>
<g clip-path="url(#clip_s6)">
<rect width="140" height="254.5" fill="url(#woodL)"/>
<rect x="140" width="138" height="254.5" fill="url(#woodR)"/>
<rect x="0" y="20" width="70" height="3" fill="#e2c894" opacity="0.3"/>
<rect x="0" y="48" width="70" height="3" fill="#f0dcb0" opacity="0.3"/>
<rect x="0" y="75" width="70" height="3" fill="#e0c690" opacity="0.3"/>
<rect x="0" y="95" width="70" height="3" fill="#efd9ab" opacity="0.3"/>
<rect x="228" y="30" width="50" height="3" fill="#d8c8a2" opacity="0.3"/>
<rect x="228" y="70" width="50" height="3" fill="#e8d9b6" opacity="0.3"/>
<rect x="228" y="120" width="50" height="3" fill="#d6c6a0" opacity="0.3"/>
<rect x="228" y="170" width="50" height="3" fill="#e4d4b0" opacity="0.3"/>
<rect x="228" y="200" width="50" height="3" fill="#d4c49e" opacity="0.3"/>
<path d="M236.6 220.5 L278 226 L278 255 L233 255 Z" fill="#2d2c26"/>
<path d="M67.7 0 L210.4 0 C216 40 222 90 225.2 117 C229 150 234 190 236.6 220.5 L233 255 L0 255 L0 110 L30 108 L40.1 105.2 C46 84 52 62 56.9 53.2 C60 36 64 18 67.7 0 Z" fill="url(#armskin)"/>
<path d="M67.7 0 C64 18 60 36 56.9 53.2 C52 62 46 84 40.1 105.2 L46 105 C52 84 58 64 62 54 C66 36 70 18 74 0 Z" fill="#c9a896" opacity="0.3"/>
<path d="M196 100 C215 100 232 120 234 150 C236 180 232 205 218 212 L190 206 Z" fill="#e2d2c8" opacity="0.45"/>
<ellipse cx="165" cy="-5" rx="46.5" ry="23.8" fill="#f3f5f8"/>
<ellipse cx="162" cy="-8" rx="40.5" ry="18.5" fill="#3aa2e6"/>
<path d="M112 52 C116 30 140 21 170 22.4 C200 24 220 42 220.2 62 C220.4 84 200 97 170 96 C140 95 118 82 112 66 Z" fill="#f4f6f8"/>
<path d="M74 36 L112 32 C130 28.5 150 27.5 166 27.8 C192 28.5 212.6 42 212.6 58 C212.6 76 196 87 172 86.8 C150 86.5 132 78 118 66 L84 56 C77 54 72 46 74 36 Z" fill="#3aa1e5"/>
<ellipse cx="168" cy="58" rx="34" ry="22" fill="none" stroke="#5fb6ee" stroke-width="1"/>
<ellipse cx="168" cy="58" rx="22" ry="14" fill="none" stroke="#5fb6ee" stroke-width="0.8"/>
<path d="M73.7 36 C74 33 77 32.6 80 32.6 L104 33.5 L108.4 41 L108 52 L100 55.4 L80 55 C75 54 73.5 50 73.7 46 Z" fill="#3b8ed8"/>
<path d="M101 34 L106 35 L108.4 42 L108 51 L103 50 Z" fill="#1d4f92"/>
<path d="M74 36 L100 35.5 L101 44 L75 44 Z" fill="#4a9ae0" opacity="0.6"/>
<rect x="0" y="106" width="34" height="14" rx="2" fill="#d9d9d7"/>
<rect x="0" y="120" width="19" height="47.6" fill="#4b4b49"/>
<rect x="0" y="167.6" width="21" height="15.4" fill="#d5d5d3"/>
<rect x="0" y="183" width="11" height="45" fill="#9a9a9a"/>
<path d="M19 122 L60 122 C80 122 90 118 100 116 L100 168 C90 166 80 164 60 164 L19 166 Z" fill="#bfb2a6" opacity="0.55"/>
<path d="M19 123.0 L60 123.0 C80 123.0 86 120.0 100 119.0" stroke="#ece6e0" stroke-width="0.8" fill="none"/>
<path d="M19 125.9 L60 125.9 C80 125.9 86 122.9 100 121.9" stroke="#ece6e0" stroke-width="0.8" fill="none"/>
<path d="M19 128.8 L60 128.8 C80 128.8 86 125.8 100 124.8" stroke="#ece6e0" stroke-width="0.8" fill="none"/>
<path d="M19 131.7 L60 131.7 C80 131.7 86 128.7 100 127.7" stroke="#ece6e0" stroke-width="0.8" fill="none"/>
<path d="M19 134.6 L60 134.6 C80 134.6 86 131.6 100 130.6" stroke="#ece6e0" stroke-width="0.8" fill="none"/>
<path d="M19 137.5 L60 137.5 C80 137.5 86 134.5 100 133.5" stroke="#ece6e0" stroke-width="0.8" fill="none"/>
<path d="M19 140.4 L60 140.4 C80 140.4 86 137.4 100 136.4" stroke="#ece6e0" stroke-width="0.8" fill="none"/>
<path d="M19 143.3 L60 143.3 C80 143.3 86 140.3 100 139.3" stroke="#ece6e0" stroke-width="0.8" fill="none"/>
<path d="M19 146.2 L60 146.2 C80 146.2 86 143.2 100 142.2" stroke="#ece6e0" stroke-width="0.8" fill="none"/>
<path d="M19 149.1 L60 149.1 C80 149.1 86 146.1 100 145.1" stroke="#ece6e0" stroke-width="0.8" fill="none"/>
<path d="M19 152.0 L60 152.0 C80 152.0 86 149.0 100 148.0" stroke="#ece6e0" stroke-width="0.8" fill="none"/>
<path d="M19 154.9 L60 154.9 C80 154.9 86 151.9 100 150.9" stroke="#ece6e0" stroke-width="0.8" fill="none"/>
<path d="M19 157.8 L60 157.8 C80 157.8 86 154.8 100 153.8" stroke="#ece6e0" stroke-width="0.8" fill="none"/>
<path d="M19 160.7 L60 160.7 C80 160.7 86 157.7 100 156.7" stroke="#ece6e0" stroke-width="0.8" fill="none"/>
<path d="M19 163.6 L60 163.6 C80 163.6 86 160.6 100 159.6" stroke="#ece6e0" stroke-width="0.8" fill="none"/>
<path d="M60 115 C80 115 90 104 120 104 L215 120" stroke="#e8ded4" stroke-width="0.8" fill="none" opacity="0.8"/>
<path d="M60 120 C80 120 90 100 120 100 L215 116" stroke="#e8ded4" stroke-width="0.8" fill="none" opacity="0.8"/>
<path d="M60 126 C80 126 90 96 120 96 L215 112" stroke="#e8ded4" stroke-width="0.8" fill="none" opacity="0.8"/>
<path d="M60 170 C75 170 80 200 110 200 L215 206" stroke="#e8ded4" stroke-width="0.8" fill="none" opacity="0.8"/>
<path d="M60 175 C75 175 80 205 110 205 L215 211" stroke="#e8ded4" stroke-width="0.8" fill="none" opacity="0.8"/>
<path d="M60 180 C75 180 80 210 110 210 L215 216" stroke="#e8ded4" stroke-width="0.8" fill="none" opacity="0.8"/>
<ellipse cx="40.0" cy="111.5" rx="2.8" ry="2.3" fill="#1c1c1c"/>
<ellipse cx="40.0" cy="120.5" rx="2.8" ry="2.3" fill="#1c1c1c"/>
<ellipse cx="46.2" cy="110.9" rx="2.8" ry="2.3" fill="#1c1c1c"/>
<ellipse cx="46.2" cy="119.9" rx="2.8" ry="2.3" fill="#1c1c1c"/>
<ellipse cx="52.4" cy="110.3" rx="2.8" ry="2.3" fill="#1c1c1c"/>
<ellipse cx="52.4" cy="119.3" rx="2.8" ry="2.3" fill="#1c1c1c"/>
<ellipse cx="58.6" cy="109.7" rx="2.8" ry="2.3" fill="#1c1c1c"/>
<ellipse cx="58.6" cy="118.7" rx="2.8" ry="2.3" fill="#1c1c1c"/>
<ellipse cx="64.8" cy="109.1" rx="2.8" ry="2.3" fill="#1c1c1c"/>
<ellipse cx="64.8" cy="118.1" rx="2.8" ry="2.3" fill="#1c1c1c"/>
<ellipse cx="71.0" cy="108.5" rx="2.8" ry="2.3" fill="#1c1c1c"/>
<ellipse cx="71.0" cy="117.5" rx="2.8" ry="2.3" fill="#1c1c1c"/>
<ellipse cx="19.0" cy="176.0" rx="2.7" ry="2.4" fill="#1c1c1c"/>
<ellipse cx="16.0" cy="187.5" rx="2.7" ry="2.4" fill="#1c1c1c"/>
<ellipse cx="24.8" cy="176.3" rx="2.7" ry="2.4" fill="#1c1c1c"/>
<ellipse cx="21.8" cy="187.9" rx="2.7" ry="2.4" fill="#1c1c1c"/>
<ellipse cx="30.6" cy="176.6" rx="2.7" ry="2.4" fill="#1c1c1c"/>
<ellipse cx="27.6" cy="188.3" rx="2.7" ry="2.4" fill="#1c1c1c"/>
<ellipse cx="36.4" cy="176.9" rx="2.7" ry="2.4" fill="#1c1c1c"/>
<ellipse cx="33.4" cy="188.7" rx="2.7" ry="2.4" fill="#1c1c1c"/>
<ellipse cx="42.2" cy="177.2" rx="2.7" ry="2.4" fill="#1c1c1c"/>
<ellipse cx="39.2" cy="189.1" rx="2.7" ry="2.4" fill="#1c1c1c"/>
<ellipse cx="48.0" cy="177.5" rx="2.7" ry="2.4" fill="#1c1c1c"/>
<ellipse cx="45.0" cy="189.5" rx="2.7" ry="2.4" fill="#1c1c1c"/>
<ellipse cx="53.8" cy="177.8" rx="2.7" ry="2.4" fill="#1c1c1c"/>
<ellipse cx="50.8" cy="189.9" rx="2.7" ry="2.4" fill="#1c1c1c"/>
<ellipse cx="112.8" cy="113.7" rx="9.3" ry="7" fill="#151515"/><ellipse cx="112.8" cy="113.2" rx="4.8" ry="3.6" fill="#d6cec4"/>
<ellipse cx="146.3" cy="115.1" rx="9.3" ry="7" fill="#151515"/><ellipse cx="146.3" cy="114.6" rx="4.8" ry="3.6" fill="#d6cec4"/>
<ellipse cx="180.0" cy="118.8" rx="9.3" ry="7" fill="#151515"/><ellipse cx="180.0" cy="118.3" rx="4.8" ry="3.6" fill="#d6cec4"/>
<ellipse cx="206.5" cy="123.5" rx="9.3" ry="7" fill="#151515"/><ellipse cx="206.5" cy="123.0" rx="4.8" ry="3.6" fill="#d6cec4"/>
<ellipse cx="108.6" cy="136.7" rx="9.3" ry="7" fill="#151515"/><ellipse cx="108.6" cy="136.2" rx="4.8" ry="3.6" fill="#d6cec4"/>
<ellipse cx="143.5" cy="138.4" rx="9.3" ry="7" fill="#151515"/><ellipse cx="143.5" cy="137.9" rx="4.8" ry="3.6" fill="#d6cec4"/>
<ellipse cx="177.1" cy="141.7" rx="9.3" ry="7" fill="#151515"/><ellipse cx="177.1" cy="141.2" rx="4.8" ry="3.6" fill="#d6cec4"/>
<ellipse cx="206.5" cy="146.2" rx="9.3" ry="7" fill="#151515"/><ellipse cx="206.5" cy="145.7" rx="4.8" ry="3.6" fill="#d6cec4"/>
<ellipse cx="102.9" cy="160.8" rx="9.3" ry="7" fill="#151515"/><ellipse cx="102.9" cy="160.3" rx="4.8" ry="3.6" fill="#d6cec4"/>
<ellipse cx="139.3" cy="163.6" rx="9.3" ry="7" fill="#151515"/><ellipse cx="139.3" cy="163.1" rx="4.8" ry="3.6" fill="#d6cec4"/>
<ellipse cx="174.3" cy="166.4" rx="9.3" ry="7" fill="#151515"/><ellipse cx="174.3" cy="165.9" rx="4.8" ry="3.6" fill="#d6cec4"/>
<ellipse cx="205.1" cy="168.4" rx="9.3" ry="7" fill="#151515"/><ellipse cx="205.1" cy="167.9" rx="4.8" ry="3.6" fill="#d6cec4"/>
<ellipse cx="98.8" cy="187.6" rx="9.3" ry="7" fill="#151515"/><ellipse cx="98.8" cy="187.1" rx="4.8" ry="3.6" fill="#d6cec4"/>
<ellipse cx="136.5" cy="190.6" rx="9.3" ry="7" fill="#151515"/><ellipse cx="136.5" cy="190.1" rx="4.8" ry="3.6" fill="#d6cec4"/>
<ellipse cx="172.7" cy="192.5" rx="9.3" ry="7" fill="#151515"/><ellipse cx="172.7" cy="192.0" rx="4.8" ry="3.6" fill="#d6cec4"/>
<ellipse cx="203.5" cy="194.0" rx="9.3" ry="7" fill="#151515"/><ellipse cx="203.5" cy="193.5" rx="4.8" ry="3.6" fill="#d6cec4"/>
<path d="M110.9 115.7 L205.7 122.6 L203.5 194 L100.1 190.2 Z" fill="url(#ov_s6)" opacity="0.62"/>
</g></g>
<g transform="translate(1437.30 138.10) scale(0.9996 1.0004)">
<clipPath id="clip_s7"><rect width="278.0" height="254.5"/></clipPath>
<g clip-path="url(#clip_s7)">
<rect width="140" height="254.5" fill="url(#woodL)"/>
<rect x="140" width="138" height="254.5" fill="url(#woodR)"/>
<rect x="0" y="20" width="70" height="3" fill="#e2c894" opacity="0.3"/>
<rect x="0" y="48" width="70" height="3" fill="#f0dcb0" opacity="0.3"/>
<rect x="0" y="75" width="70" height="3" fill="#e0c690" opacity="0.3"/>
<rect x="0" y="95" width="70" height="3" fill="#efd9ab" opacity="0.3"/>
<rect x="228" y="30" width="50" height="3" fill="#d8c8a2" opacity="0.3"/>
<rect x="228" y="70" width="50" height="3" fill="#e8d9b6" opacity="0.3"/>
<rect x="228" y="120" width="50" height="3" fill="#d6c6a0" opacity="0.3"/>
<rect x="228" y="170" width="50" height="3" fill="#e4d4b0" opacity="0.3"/>
<rect x="228" y="200" width="50" height="3" fill="#d4c49e" opacity="0.3"/>
<path d="M236.6 220.5 L278 226 L278 255 L233 255 Z" fill="#2d2c26"/>
<path d="M67.7 0 L210.4 0 C216 40 222 90 225.2 117 C229 150 234 190 236.6 220.5 L233 255 L0 255 L0 110 L30 108 L40.1 105.2 C46 84 52 62 56.9 53.2 C60 36 64 18 67.7 0 Z" fill="url(#armskin)"/>
<path d="M67.7 0 C64 18 60 36 56.9 53.2 C52 62 46 84 40.1 105.2 L46 105 C52 84 58 64 62 54 C66 36 70 18 74 0 Z" fill="#c9a896" opacity="0.3"/>
<path d="M196 100 C215 100 232 120 234 150 C236 180 232 205 218 212 L190 206 Z" fill="#e2d2c8" opacity="0.45"/>
<ellipse cx="165" cy="-5" rx="46.5" ry="23.8" fill="#f3f5f8"/>
<ellipse cx="162" cy="-8" rx="40.5" ry="18.5" fill="#3aa2e6"/>
<path d="M112 52 C116 30 140 21 170 22.4 C200 24 220 42 220.2 62 C220.4 84 200 97 170 96 C140 95 118 82 112 66 Z" fill="#f4f6f8"/>
<path d="M74 36 L112 32 C130 28.5 150 27.5 166 27.8 C192 28.5 212.6 42 212.6 58 C212.6 76 196 87 172 86.8 C150 86.5 132 78 118 66 L84 56 C77 54 72 46 74 36 Z" fill="#3aa1e5"/>
<ellipse cx="168" cy="58" rx="34" ry="22" fill="none" stroke="#5fb6ee" stroke-width="1"/>
<ellipse cx="168" cy="58" rx="22" ry="14" fill="none" stroke="#5fb6ee" stroke-width="0.8"/>
<path d="M73.7 36 C74 33 77 32.6 80 32.6 L104 33.5 L108.4 41 L108 52 L100 55.4 L80 55 C75 54 73.5 50 73.7 46 Z" fill="#3b8ed8"/>
<path d="M101 34 L106 35 L108.4 42 L108 51 L103 50 Z" fill="#1d4f92"/>
<path d="M74 36 L100 35.5 L101 44 L75 44 Z" fill="#4a9ae0" opacity="0.6"/>
<rect x="0" y="106" width="34" height="14" rx="2" fill="#d9d9d7"/>
<rect x="0" y="120" width="19" height="47.6" fill="#4b4b49"/>
<rect x="0" y="167.6" width="21" height="15.4" fill="#d5d5d3"/>
<rect x="0" y="183" width="11" height="45" fill="#9a9a9a"/>
<path d="M19 122 L60 122 C80 122 90 118 100 116 L100 168 C90 166 80 164 60 164 L19 166 Z" fill="#bfb2a6" opacity="0.55"/>
<path d="M19 123.0 L60 123.0 C80 123.0 86 120.0 100 119.0" stroke="#ece6e0" stroke-width="0.8" fill="none"/>
<path d="M19 125.9 L60 125.9 C80 125.9 86 122.9 100 121.9" stroke="#ece6e0" stroke-width="0.8" fill="none"/>
<path d="M19 128.8 L60 128.8 C80 128.8 86 125.8 100 124.8" stroke="#ece6e0" stroke-width="0.8" fill="none"/>
<path d="M19 131.7 L60 131.7 C80 131.7 86 128.7 100 127.7" stroke="#ece6e0" stroke-width="0.8" fill="none"/>
<path d="M19 134.6 L60 134.6 C80 134.6 86 131.6 100 130.6" stroke="#ece6e0" stroke-width="0.8" fill="none"/>
<path d="M19 137.5 L60 137.5 C80 137.5 86 134.5 100 133.5" stroke="#ece6e0" stroke-width="0.8" fill="none"/>
<path d="M19 140.4 L60 140.4 C80 140.4 86 137.4 100 136.4" stroke="#ece6e0" stroke-width="0.8" fill="none"/>
<path d="M19 143.3 L60 143.3 C80 143.3 86 140.3 100 139.3" stroke="#ece6e0" stroke-width="0.8" fill="none"/>
<path d="M19 146.2 L60 146.2 C80 146.2 86 143.2 100 142.2" stroke="#ece6e0" stroke-width="0.8" fill="none"/>
<path d="M19 149.1 L60 149.1 C80 149.1 86 146.1 100 145.1" stroke="#ece6e0" stroke-width="0.8" fill="none"/>
<path d="M19 152.0 L60 152.0 C80 152.0 86 149.0 100 148.0" stroke="#ece6e0" stroke-width="0.8" fill="none"/>
<path d="M19 154.9 L60 154.9 C80 154.9 86 151.9 100 150.9" stroke="#ece6e0" stroke-width="0.8" fill="none"/>
<path d="M19 157.8 L60 157.8 C80 157.8 86 154.8 100 153.8" stroke="#ece6e0" stroke-width="0.8" fill="none"/>
<path d="M19 160.7 L60 160.7 C80 160.7 86 157.7 100 156.7" stroke="#ece6e0" stroke-width="0.8" fill="none"/>
<path d="M19 163.6 L60 163.6 C80 163.6 86 160.6 100 159.6" stroke="#ece6e0" stroke-width="0.8" fill="none"/>
<path d="M60 115 C80 115 90 104 120 104 L215 120" stroke="#e8ded4" stroke-width="0.8" fill="none" opacity="0.8"/>
<path d="M60 120 C80 120 90 100 120 100 L215 116" stroke="#e8ded4" stroke-width="0.8" fill="none" opacity="0.8"/>
<path d="M60 126 C80 126 90 96 120 96 L215 112" stroke="#e8ded4" stroke-width="0.8" fill="none" opacity="0.8"/>
<path d="M60 170 C75 170 80 200 110 200 L215 206" stroke="#e8ded4" stroke-width="0.8" fill="none" opacity="0.8"/>
<path d="M60 175 C75 175 80 205 110 205 L215 211" stroke="#e8ded4" stroke-width="0.8" fill="none" opacity="0.8"/>
<path d="M60 180 C75 180 80 210 110 210 L215 216" stroke="#e8ded4" stroke-width="0.8" fill="none" opacity="0.8"/>
<ellipse cx="40.0" cy="111.5" rx="2.8" ry="2.3" fill="#1c1c1c"/>
<ellipse cx="40.0" cy="120.5" rx="2.8" ry="2.3" fill="#1c1c1c"/>
<ellipse cx="46.2" cy="110.9" rx="2.8" ry="2.3" fill="#1c1c1c"/>
<ellipse cx="46.2" cy="119.9" rx="2.8" ry="2.3" fill="#1c1c1c"/>
<ellipse cx="52.4" cy="110.3" rx="2.8" ry="2.3" fill="#1c1c1c"/>
<ellipse cx="52.4" cy="119.3" rx="2.8" ry="2.3" fill="#1c1c1c"/>
<ellipse cx="58.6" cy="109.7" rx="2.8" ry="2.3" fill="#1c1c1c"/>
<ellipse cx="58.6" cy="118.7" rx="2.8" ry="2.3" fill="#1c1c1c"/>
<ellipse cx="64.8" cy="109.1" rx="2.8" ry="2.3" fill="#1c1c1c"/>
<ellipse cx="64.8" cy="118.1" rx="2.8" ry="2.3" fill="#1c1c1c"/>
<ellipse cx="71.0" cy="108.5" rx="2.8" ry="2.3" fill="#1c1c1c"/>
<ellipse cx="71.0" cy="117.5" rx="2.8" ry="2.3" fill="#1c1c1c"/>
<ellipse cx="19.0" cy="176.0" rx="2.7" ry="2.4" fill="#1c1c1c"/>
<ellipse cx="16.0" cy="187.5" rx="2.7" ry="2.4" fill="#1c1c1c"/>
<ellipse cx="24.8" cy="176.3" rx="2.7" ry="2.4" fill="#1c1c1c"/>
<ellipse cx="21.8" cy="187.9" rx="2.7" ry="2.4" fill="#1c1c1c"/>
<ellipse cx="30.6" cy="176.6" rx="2.7" ry="2.4" fill="#1c1c1c"/>
<ellipse cx="27.6" cy="188.3" rx="2.7" ry="2.4" fill="#1c1c1c"/>
<ellipse cx="36.4" cy="176.9" rx="2.7" ry="2.4" fill="#1c1c1c"/>
<ellipse cx="33.4" cy="188.7" rx="2.7" ry="2.4" fill="#1c1c1c"/>
<ellipse cx="42.2" cy="177.2" rx="2.7" ry="2.4" fill="#1c1c1c"/>
<ellipse cx="39.2" cy="189.1" rx="2.7" ry="2.4" fill="#1c1c1c"/>
<ellipse cx="48.0" cy="177.5" rx="2.7" ry="2.4" fill="#1c1c1c"/>
<ellipse cx="45.0" cy="189.5" rx="2.7" ry="2.4" fill="#1c1c1c"/>
<ellipse cx="53.8" cy="177.8" rx="2.7" ry="2.4" fill="#1c1c1c"/>
<ellipse cx="50.8" cy="189.9" rx="2.7" ry="2.4" fill="#1c1c1c"/>
<ellipse cx="112.8" cy="113.7" rx="9.3" ry="7" fill="#151515"/><ellipse cx="112.8" cy="113.2" rx="4.8" ry="3.6" fill="#d6cec4"/>
<ellipse cx="146.3" cy="115.1" rx="9.3" ry="7" fill="#151515"/><ellipse cx="146.3" cy="114.6" rx="4.8" ry="3.6" fill="#d6cec4"/>
<ellipse cx="180.0" cy="118.8" rx="9.3" ry="7" fill="#151515"/><ellipse cx="180.0" cy="118.3" rx="4.8" ry="3.6" fill="#d6cec4"/>
<ellipse cx="206.5" cy="123.5" rx="9.3" ry="7" fill="#151515"/><ellipse cx="206.5" cy="123.0" rx="4.8" ry="3.6" fill="#d6cec4"/>
<ellipse cx="108.6" cy="136.7" rx="9.3" ry="7" fill="#151515"/><ellipse cx="108.6" cy="136.2" rx="4.8" ry="3.6" fill="#d6cec4"/>
<ellipse cx="143.5" cy="138.4" rx="9.3" ry="7" fill="#151515"/><ellipse cx="143.5" cy="137.9" rx="4.8" ry="3.6" fill="#d6cec4"/>
<ellipse cx="177.1" cy="141.7" rx="9.3" ry="7" fill="#151515"/><ellipse cx="177.1" cy="141.2" rx="4.8" ry="3.6" fill="#d6cec4"/>
<ellipse cx="206.5" cy="146.2" rx="9.3" ry="7" fill="#151515"/><ellipse cx="206.5" cy="145.7" rx="4.8" ry="3.6" fill="#d6cec4"/>
<ellipse cx="102.9" cy="160.8" rx="9.3" ry="7" fill="#151515"/><ellipse cx="102.9" cy="160.3" rx="4.8" ry="3.6" fill="#d6cec4"/>
<ellipse cx="139.3" cy="163.6" rx="9.3" ry="7" fill="#151515"/><ellipse cx="139.3" cy="163.1" rx="4.8" ry="3.6" fill="#d6cec4"/>
<ellipse cx="174.3" cy="166.4" rx="9.3" ry="7" fill="#151515"/><ellipse cx="174.3" cy="165.9" rx="4.8" ry="3.6" fill="#d6cec4"/>
<ellipse cx="205.1" cy="168.4" rx="9.3" ry="7" fill="#151515"/><ellipse cx="205.1" cy="167.9" rx="4.8" ry="3.6" fill="#d6cec4"/>
<ellipse cx="98.8" cy="187.6" rx="9.3" ry="7" fill="#151515"/><ellipse cx="98.8" cy="187.1" rx="4.8" ry="3.6" fill="#d6cec4"/>
<ellipse cx="136.5" cy="190.6" rx="9.3" ry="7" fill="#151515"/><ellipse cx="136.5" cy="190.1" rx="4.8" ry="3.6" fill="#d6cec4"/>
<ellipse cx="172.7" cy="192.5" rx="9.3" ry="7" fill="#151515"/><ellipse cx="172.7" cy="192.0" rx="4.8" ry="3.6" fill="#d6cec4"/>
<ellipse cx="203.5" cy="194.0" rx="9.3" ry="7" fill="#151515"/><ellipse cx="203.5" cy="193.5" rx="4.8" ry="3.6" fill="#d6cec4"/>
<path d="M110.9 115.7 L205.7 122.6 L203.5 194 L100.1 190.2 Z" fill="url(#ov_s7)" opacity="0.62"/>
</g></g>
<g transform="translate(1103.20 482.00) scale(0.9993 1.0000)">
<clipPath id="clip_l8"><rect width="278.0" height="254.5"/></clipPath>
<g clip-path="url(#clip_l8)">
<rect width="278.0" height="254.5" fill="#e2dac9"/>
<rect x="258.4" y="0" width="1.4" height="240" fill="#c6bcab"/>
<rect x="262.5" y="0" width="1.2" height="240" fill="#f0ebe2"/>
<rect x="0" y="110" width="10" height="68" fill="#d6d7dd"/>
<rect x="0" y="134" width="4" height="7" fill="#7f70c0"/>
<path d="M0 176.5 L60 176.5 L60 192.5 L0 192.5 Z" fill="#2b2b2b"/>
<path d="M0 192.5 L60 192.5 L60 196.5 L0 196.5 Z" fill="#5d7a58"/>
<path d="M0 196.5 L60 196.5 L60 217.7 L0 217.7 Z" fill="#3d3e3e"/>
<path d="M0 217.7 L60 210 L64 255 L0 255 Z" fill="#8b8f90"/>
<path d="M0 230 L60 222 L60 226 L0 234 Z" fill="#a9adae"/>
<circle cx="52.7" cy="213" r="5" fill="#c8c8c4"/>
<path d="M41 121 C55 118 66 104 75.6 87 C84 76 90 72 98.6 68.8 C106 60 112 52 119.2 45.8 C128 38 135 34 142.1 32.1 C155 28 165 26 174.2 25.2 L206.3 25.2 C216 26 224 28 229.2 29.8 C236 33 240 36 243 39 C247 50 250 70 252 91.7 C254 100 254 106 252 110 C254 118 256 122 258 126 C264 140 270 150 275 156 C278 162 278 168 276 170 C268 175 260 176 254 177 C250 182 250 190 250 197 C251 204 251 212 250 218 C249 226 246 232 240 236 C232 241 226 243 220 245 L196 254.5 L60 254.5 C60 240 60 225 58 205 C52 185 45 165 43 150 C41 140 40 130 41 121 Z" fill="url(#faceskin)"/>
<path d="M120 50 C140 36 170 30 205 30 C225 32 238 40 244 52 C238 70 220 80 200 80 C170 80 140 74 120 50 Z" fill="#e2bcaa" opacity="0.45"/>
<path d="M58 190 C80 205 105 222 130 232 C155 240 180 244 200 246 L196 254.5 L60 254.5 C60 235 59 212 58 190 Z" fill="#b48a76" opacity="0.8"/>
<path d="M278 240 L250 242 L226 246 L205 254.5 L278 254.5 Z" fill="#7181b8"/>
<path d="M252 112 C258 128 266 142 273 152 C276 160 276 166 270 168 C262 166 256 158 252 146 C249 134 249 122 252 112 Z" fill="#e8bfb0" opacity="0.85"/>
<path d="M229 171 C238 169 250 170 257 175 C248 177 238 177 229 174 Z" fill="#7a4a44" opacity="0.9"/>
<path d="M206 201 C222 198 238 199 250 202 C247 208 236 213 222 213 C214 212 208 207 206 201 Z" fill="#c48e86"/>
<path d="M206 203 C220 204 236 205 250 203.5" stroke="#8a5a54" stroke-width="1.6" fill="none"/>
<path d="M232 103 C240 100 248 100 255 104" stroke="#6a5444" stroke-width="3" fill="none"/>
<path d="M240.7 114 C244 110 250 110 254.4 113 C250 117.5 244 117.5 240.7 114 Z" fill="#4c4a52"/>
<ellipse cx="28" cy="148" rx="26" ry="36" fill="#d8a190"/>
<ellipse cx="33" cy="151" rx="14" ry="24" fill="#c08474"/>
<ellipse cx="36" cy="156" rx="7" ry="13" fill="#cf9584"/>
<path d="M0 0 L248 0 C248 14 249 30 249.8 45.8 L243 39 C240 36 236 33 229.2 29.8 C224 28 216 26 206.3 25.2 L174.2 25.2 C165 26 155 28 142.1 32.1 C135 34 128 38 119.2 45.8 C112 52 106 60 98.6 68.8 C90 72 84 76 75.6 87 C66 104 55 118 41 121 C34 116 26 112 14 112 L0 114.6 Z" fill="url(#hair)"/>
<clipPath id="hair_l8"><path d="M0 0 L248 0 C248 14 249 30 249.8 45.8 L243 39 C240 36 236 33 229.2 29.8 C224 28 216 26 206.3 25.2 L174.2 25.2 C165 26 155 28 142.1 32.1 C135 34 128 38 119.2 45.8 C112 52 106 60 98.6 68.8 C90 72 84 76 75.6 87 C66 104 55 118 41 121 C34 116 26 112 14 112 L0 114.6 Z"/></clipPath>
<g clip-path="url(#hair_l8)">
<path d="M57.4 19.6 Q67.0 1.4 88.6 -24.9" stroke="#544640" stroke-width="3.2" fill="none" opacity="0.6" stroke-linecap="round"/>
<path d="M215.6 27.9 Q223.7 35.1 243.8 34.4" stroke="#5e4e42" stroke-width="4.0" fill="none" opacity="0.6" stroke-linecap="round"/>
<path d="M3.4 29.0 Q21.1 20.8 50.7 4.5" stroke="#705e50" stroke-width="1.6" fill="none" opacity="0.6" stroke-linecap="round"/>
<path d="M29.7 72.4 Q34.8 65.6 52.0 50.8" stroke="#544640" stroke-width="3.2" fill="none" opacity="0.6" stroke-linecap="round"/>
<path d="M154.1 13.4 Q173.2 21.3 204.2 21.3" stroke="#5e4e42" stroke-width="3.4" fill="none" opacity="0.6" stroke-linecap="round"/>
<path d="M104.0 69.1 Q120.1 52.8 148.2 28.5" stroke="#544640" stroke-width="2.4" fill="none" opacity="0.6" stroke-linecap="round"/>
<path d="M184.5 90.9 Q195.8 99.7 219.1 100.5" stroke="#705e50" stroke-width="2.4" fill="none" opacity="0.6" stroke-linecap="round"/>
<path d="M234.6 15.3 Q249.4 26.4 276.1 29.4" stroke="#5e4e42" stroke-width="4.4" fill="none" opacity="0.6" stroke-linecap="round"/>
<path d="M-9.0 72.5 Q10.8 60.7 42.5 40.9" stroke="#cab9a0" stroke-width="3.3" fill="none" opacity="0.6" stroke-linecap="round"/>
<path d="M126.6 59.3 Q148.4 48.8 182.3 30.3" stroke="#5e4e42" stroke-width="1.7" fill="none" opacity="0.6" stroke-linecap="round"/>
<path d="M159.4 84.1 Q186.2 100.0 224.9 107.8" stroke="#544640" stroke-width="1.6" fill="none" opacity="0.6" stroke-linecap="round"/>
<path d="M94.7 21.8 Q97.2 13.4 111.8 -3.1" stroke="#6a5a4c" stroke-width="3.7" fill="none" opacity="0.6" stroke-linecap="round"/>
<path d="M77.4 119.2 Q86.0 104.5 106.5 81.9" stroke="#cab9a0" stroke-width="4.2" fill="none" opacity="0.6" stroke-linecap="round"/>
<path d="M191.2 112.3 Q203.5 120.5 227.8 120.7" stroke="#6a5a4c" stroke-width="2.0" fill="none" opacity="0.6" stroke-linecap="round"/>
<path d="M17.6 30.2 Q24.8 22.3 44.0 6.4" stroke="#544640" stroke-width="2.3" fill="none" opacity="0.6" stroke-linecap="round"/>
<path d="M9.3 69.5 Q21.1 54.2 44.9 31.0" stroke="#c4b49a" stroke-width="2.9" fill="none" opacity="0.6" stroke-linecap="round"/>
<path d="M205.2 123.7 Q226.0 135.1 258.8 138.5" stroke="#705e50" stroke-width="3.4" fill="none" opacity="0.6" stroke-linecap="round"/>
<path d="M-13.2 8.8 Q-8.6 -0.8 7.9 -18.4" stroke="#c4b49a" stroke-width="1.8" fill="none" opacity="0.6" stroke-linecap="round"/>
<path d="M123.0 69.8 Q143.7 52.9 176.4 28.1" stroke="#bcaa90" stroke-width="3.3" fill="none" opacity="0.6" stroke-linecap="round"/>
<path d="M10.1 32.8 Q18.3 22.2 38.4 3.7" stroke="#b2a086" stroke-width="4.5" fill="none" opacity="0.6" stroke-linecap="round"/>
<path d="M95.8 62.9 Q98.3 55.2 112.8 39.5" stroke="#cab9a0" stroke-width="2.9" fill="none" opacity="0.6" stroke-linecap="round"/>
<path d="M156.9 67.1 Q166.7 77.6 188.6 80.0" stroke="#5e4e42" stroke-width="3.8" fill="none" opacity="0.6" stroke-linecap="round"/>
<path d="M50.5 83.6 Q57.0 80.2 75.5 68.7" stroke="#6a5a4c" stroke-width="2.6" fill="none" opacity="0.6" stroke-linecap="round"/>
<path d="M30.2 70.4 Q43.1 60.0 68.1 41.6" stroke="#6a5a4c" stroke-width="3.9" fill="none" opacity="0.6" stroke-linecap="round"/>
<path d="M190.9 96.2 Q202.0 104.6 225.0 105.1" stroke="#c4b49a" stroke-width="3.9" fill="none" opacity="0.6" stroke-linecap="round"/>
<path d="M97.5 25.2 Q109.5 10.2 133.5 -12.7" stroke="#544640" stroke-width="4.4" fill="none" opacity="0.6" stroke-linecap="round"/>
<path d="M68.5 28.7 Q73.5 19.0 90.6 1.3" stroke="#c4b49a" stroke-width="2.9" fill="none" opacity="0.6" stroke-linecap="round"/>
<path d="M146.3 104.0 Q151.9 99.4 169.5 86.8" stroke="#6a5a4c" stroke-width="2.9" fill="none" opacity="0.6" stroke-linecap="round"/>
<path d="M18.2 102.6 Q29.1 96.0 52.1 81.4" stroke="#705e50" stroke-width="2.9" fill="none" opacity="0.6" stroke-linecap="round"/>
<path d="M170.7 11.0 Q179.5 21.3 200.3 23.5" stroke="#705e50" stroke-width="3.9" fill="none" opacity="0.6" stroke-linecap="round"/>
<path d="M9.5 107.4 Q31.2 90.9 65.0 66.3" stroke="#bcaa90" stroke-width="1.6" fill="none" opacity="0.6" stroke-linecap="round"/>
<path d="M185.8 94.4 Q193.9 103.2 213.9 103.9" stroke="#6a5a4c" stroke-width="4.0" fill="none" opacity="0.6" stroke-linecap="round"/>
<path d="M27.0 32.7 Q33.3 22.2 51.7 3.6" stroke="#544640" stroke-width="3.1" fill="none" opacity="0.6" stroke-linecap="round"/>
<path d="M195.2 7.9 Q216.4 22.4 249.6 29.0" stroke="#705e50" stroke-width="4.0" fill="none" opacity="0.6" stroke-linecap="round"/>
<path d="M207.1 17.0 Q216.5 25.0 237.9 25.0" stroke="#5e4e42" stroke-width="3.8" fill="none" opacity="0.6" stroke-linecap="round"/>
<path d="M10.4 18.4 Q20.2 1.2 41.9 -24.1" stroke="#b2a086" stroke-width="3.9" fill="none" opacity="0.6" stroke-linecap="round"/>
<path d="M-1.4 72.8 Q4.6 63.3 22.6 45.7" stroke="#705e50" stroke-width="3.2" fill="none" opacity="0.6" stroke-linecap="round"/>
<path d="M175.2 118.6 Q190.8 128.9 218.3 131.2" stroke="#544640" stroke-width="2.9" fill="none" opacity="0.6" stroke-linecap="round"/>
<path d="M114.0 62.1 Q135.5 46.7 169.0 23.3" stroke="#544640" stroke-width="4.3" fill="none" opacity="0.6" stroke-linecap="round"/>
<path d="M211.0 26.3 Q227.0 35.4 255.0 36.4" stroke="#6a5a4c" stroke-width="2.8" fill="none" opacity="0.6" stroke-linecap="round"/>
<path d="M27.4 39.4 Q34.2 35.1 53.1 22.8" stroke="#544640" stroke-width="1.9" fill="none" opacity="0.6" stroke-linecap="round"/>
<path d="M208.4 125.8 Q218.5 136.3 240.7 138.9" stroke="#6a5a4c" stroke-width="2.0" fill="none" opacity="0.6" stroke-linecap="round"/>
<path d="M86.5 67.0 Q93.1 55.4 111.8 35.7" stroke="#cab9a0" stroke-width="1.6" fill="none" opacity="0.6" stroke-linecap="round"/>
<path d="M119.6 57.3 Q122.4 51.8 137.2 38.4" stroke="#5e4e42" stroke-width="1.8" fill="none" opacity="0.6" stroke-linecap="round"/>
<path d="M218.0 29.7 Q244.0 37.7 281.9 37.8" stroke="#6a5a4c" stroke-width="2.3" fill="none" opacity="0.6" stroke-linecap="round"/>
<path d="M5.0 54.9 Q27.1 41.7 61.3 20.4" stroke="#bcaa90" stroke-width="3.1" fill="none" opacity="0.6" stroke-linecap="round"/>
<path d="M109.0 64.3 Q116.1 53.4 135.3 34.6" stroke="#6a5a4c" stroke-width="2.8" fill="none" opacity="0.6" stroke-linecap="round"/>
<path d="M-10.4 122.0 Q6.2 111.8 34.9 93.6" stroke="#bcaa90" stroke-width="1.7" fill="none" opacity="0.6" stroke-linecap="round"/>
<path d="M202.9 59.0 Q216.4 68.3 241.8 69.6" stroke="#6a5a4c" stroke-width="1.6" fill="none" opacity="0.6" stroke-linecap="round"/>
<path d="M161.6 122.0 Q189.3 132.1 229.1 134.1" stroke="#544640" stroke-width="3.1" fill="none" opacity="0.6" stroke-linecap="round"/>
<path d="M25.6 57.9 Q37.8 41.2 62.0 16.4" stroke="#544640" stroke-width="1.6" fill="none" opacity="0.6" stroke-linecap="round"/>
<path d="M-25.0 65.7 Q-5.0 47.1 27.0 20.4" stroke="#b2a086" stroke-width="1.8" fill="none" opacity="0.6" stroke-linecap="round"/>
<path d="M191.1 56.2 Q207.3 68.3 235.5 72.4" stroke="#6a5a4c" stroke-width="4.4" fill="none" opacity="0.6" stroke-linecap="round"/>
<path d="M62.5 108.2 Q79.1 95.0 107.7 73.8" stroke="#cab9a0" stroke-width="4.4" fill="none" opacity="0.6" stroke-linecap="round"/>
<path d="M196.0 1.9 Q214.8 15.3 245.7 20.8" stroke="#b2a086" stroke-width="4.1" fill="none" opacity="0.6" stroke-linecap="round"/>
<path d="M151.0 36.7 Q162.7 44.0 186.3 43.4" stroke="#b2a086" stroke-width="1.5" fill="none" opacity="0.6" stroke-linecap="round"/>
<path d="M68.3 42.8 Q85.9 21.4 115.5 -8.0" stroke="#cab9a0" stroke-width="2.2" fill="none" opacity="0.6" stroke-linecap="round"/>
<path d="M19.4 43.6 Q22.9 36.8 38.5 22.0" stroke="#6a5a4c" stroke-width="3.0" fill="none" opacity="0.6" stroke-linecap="round"/>
<path d="M-28.7 34.3 Q-24.3 28.1 -8.0 13.9" stroke="#c4b49a" stroke-width="2.4" fill="none" opacity="0.6" stroke-linecap="round"/>
<path d="M140.0 11.0 Q163.4 -2.3 198.7 -23.5" stroke="#b2a086" stroke-width="3.8" fill="none" opacity="0.6" stroke-linecap="round"/>
<path d="M164.6 64.2 Q176.7 73.6 200.8 74.9" stroke="#705e50" stroke-width="3.7" fill="none" opacity="0.6" stroke-linecap="round"/>
<path d="M189.3 18.1 Q206.8 28.1 236.3 30.2" stroke="#6a5a4c" stroke-width="1.8" fill="none" opacity="0.6" stroke-linecap="round"/>
<path d="M-18.7 82.8 Q-0.8 62.5 29.2 34.3" stroke="#5e4e42" stroke-width="3.4" fill="none" opacity="0.6" stroke-linecap="round"/>
<path d="M139.1 88.5 Q145.8 72.7 164.6 49.0" stroke="#5e4e42" stroke-width="3.5" fill="none" opacity="0.6" stroke-linecap="round"/>
<path d="M-12.2 95.8 Q-7.7 84.9 8.7 66.0" stroke="#bcaa90" stroke-width="2.2" fill="none" opacity="0.6" stroke-linecap="round"/>
<path d="M145.5 59.8 Q157.6 38.1 181.8 8.3" stroke="#544640" stroke-width="3.8" fill="none" opacity="0.6" stroke-linecap="round"/>
<path d="M136.6 83.6 Q139.2 76.2 153.9 60.9" stroke="#cab9a0" stroke-width="3.4" fill="none" opacity="0.6" stroke-linecap="round"/>
<path d="M6.0 62.7 Q21.0 56.2 47.9 41.7" stroke="#bcaa90" stroke-width="3.5" fill="none" opacity="0.6" stroke-linecap="round"/>
<path d="M48.5 67.1 Q59.4 55.6 82.3 36.1" stroke="#bcaa90" stroke-width="2.4" fill="none" opacity="0.6" stroke-linecap="round"/>
<path d="M-6.8 61.5 Q-1.9 49.9 15.1 30.4" stroke="#705e50" stroke-width="4.5" fill="none" opacity="0.6" stroke-linecap="round"/>
</g>
<path d="M98.6 68.8 C90 72 84 76 75.6 87 C66 104 55 118 41 121 L58 128 C68 118 78 104 86 94 C92 86 100 80 108 74 Z" fill="#9c7e6a" opacity="0.6"/>
<path d="M240 42 C246 46 250 54 250 62 C246 58 242 52 240 42 Z" fill="#eeeae6" opacity="0.8"/>
<path d="M76 94 C84 88 98 86 108 90 C104 95 92 98 82 99 Z" fill="#f2eeea" opacity="0.75"/>
<path d="M98 76 C108 72 122 72 132 76" stroke="#f2eeea" stroke-width="2.2" fill="none" opacity="0.6"/>
<path d="M62 150 C95 120 140 82 210 28" stroke="#ece4de" stroke-width="1" fill="none" opacity="0.7"/>
<path d="M40.1 137.5 L68.8 123.8 L110 160.4 L96.3 174.2 L48 162 Z" fill="#d0c7bd"/>
<path d="M72 128 L80 125 L110 160.4 L98 170 Z" fill="#dcd6d0"/>
<path d="M48.1 160.4 L73.3 151.3 L87.1 171.9 L61.9 181.1 Z" fill="#2e2a27"/>
<path d="M61.9 181.1 L87.1 171.9 L88 174.5 L62.8 183.6 Z" fill="#b8a888"/>
<path d="M158 118 C168 110 184 109 197 115 C186 124 170 125 158 118 Z" fill="#6a5a58"/>
<path d="M152 104 C168 98 186 98 200 104" stroke="#8a6a58" stroke-width="3" fill="none"/>
<ellipse cx="190.5" cy="51.5" rx="6.8" ry="6.3" fill="none" stroke="#141414" stroke-width="1.8"/>
<ellipse cx="236" cy="58" rx="3.8" ry="5.8" fill="none" stroke="#141414" stroke-width="1.8"/>
<ellipse cx="149.6" cy="85.5" rx="4" ry="3.3" fill="none" stroke="#141414" stroke-width="1.8"/>
<ellipse cx="117.3" cy="130.5" rx="4" ry="3.3" fill="none" stroke="#141414" stroke-width="1.8"/>
<ellipse cx="123.6" cy="179.6" rx="4" ry="3.3" fill="none" stroke="#141414" stroke-width="1.8"/>
<ellipse cx="125.3" cy="198.3" rx="4" ry="3.3" fill="none" stroke="#141414" stroke-width="1.8"/>
<ellipse cx="141.8" cy="228.6" rx="4" ry="3" fill="none" stroke="#141414" stroke-width="1.8"/>
<ellipse cx="199.6" cy="227.5" rx="4" ry="3.3" fill="none" stroke="#141414" stroke-width="1.8"/>
<ellipse cx="213.6" cy="147" rx="4" ry="3.4" fill="none" stroke="#141414" stroke-width="1.8"/>
<ellipse cx="170" cy="59" rx="2.6" ry="1.5" fill="#1a1a1a"/>
<ellipse cx="132" cy="93" rx="2.6" ry="1.5" fill="#1a1a1a"/>
<ellipse cx="106" cy="143" rx="2.6" ry="1.5" fill="#1a1a1a"/>
<ellipse cx="104" cy="182" rx="2.6" ry="1.5" fill="#1a1a1a"/>
<ellipse cx="108" cy="188" rx="2.6" ry="1.5" fill="#1a1a1a"/>
<ellipse cx="127" cy="229" rx="2.6" ry="1.5" fill="#1a1a1a"/>
<path d="M214 56 L226 68 M226 56 L214 68" stroke="#3a3a3a" stroke-width="1.4"/>
<clipPath id="poly_l8"><path d="M189.2 53 L234.5 58.9 L200 228 L140.6 228.8 L125.2 197.9 L123.6 178.4 L117.9 129.8 L150.4 84.3 Z"/></clipPath>
<g opacity="0.55" clip-path="url(#poly_l8)">
<path d="M189.2 53 L234.5 58.9 L200 228 L140.6 228.8 L125.2 197.9 L123.6 178.4 L117.9 129.8 L150.4 84.3 Z" fill="url(#ov_l8)"/>
</g>
<ellipse cx="194" cy="78.5" rx="4.3" ry="3.4" fill="none" stroke="#1a1a90" stroke-width="1.6" opacity="0.9"/>
<ellipse cx="126.8" cy="156.5" rx="4.3" ry="3.4" fill="none" stroke="#1a1a90" stroke-width="1.6" opacity="0.9"/>
<ellipse cx="157.7" cy="159.8" rx="4.3" ry="3.4" fill="none" stroke="#1a1a90" stroke-width="1.6" opacity="0.9"/>
<ellipse cx="150.4" cy="172" rx="4.3" ry="3.4" fill="none" stroke="#1a1a90" stroke-width="1.6" opacity="0.9"/>
<ellipse cx="186.9" cy="172" rx="4.3" ry="3.4" fill="none" stroke="#1a1a90" stroke-width="1.6" opacity="0.9"/>
<ellipse cx="160.1" cy="193.1" rx="4.3" ry="3.4" fill="none" stroke="#1a1a90" stroke-width="1.6" opacity="0.9"/>
<ellipse cx="161.7" cy="212.5" rx="4.3" ry="3.4" fill="none" stroke="#1a1a90" stroke-width="1.6" opacity="0.9"/>
</g></g>
<g transform="translate(1437.30 482.00) scale(0.9996 1.0000)">
<clipPath id="clip_l6"><rect width="278.0" height="254.5"/></clipPath>
<g clip-path="url(#clip_l6)">
<rect width="278.0" height="254.5" fill="#e2dac9"/>
<rect x="258.4" y="0" width="1.4" height="240" fill="#c6bcab"/>
<rect x="262.5" y="0" width="1.2" height="240" fill="#f0ebe2"/>
<rect x="0" y="110" width="10" height="68" fill="#d6d7dd"/>
<rect x="0" y="134" width="4" height="7" fill="#7f70c0"/>
<path d="M0 176.5 L60 176.5 L60 192.5 L0 192.5 Z" fill="#2b2b2b"/>
<path d="M0 192.5 L60 192.5 L60 196.5 L0 196.5 Z" fill="#5d7a58"/>
<path d="M0 196.5 L60 196.5 L60 217.7 L0 217.7 Z" fill="#3d3e3e"/>
<path d="M0 217.7 L60 210 L64 255 L0 255 Z" fill="#8b8f90"/>
<path d="M0 230 L60 222 L60 226 L0 234 Z" fill="#a9adae"/>
<circle cx="52.7" cy="213" r="5" fill="#c8c8c4"/>
<path d="M41 121 C55 118 66 104 75.6 87 C84 76 90 72 98.6 68.8 C106 60 112 52 119.2 45.8 C128 38 135 34 142.1 32.1 C155 28 165 26 174.2 25.2 L206.3 25.2 C216 26 224 28 229.2 29.8 C236 33 240 36 243 39 C247 50 250 70 252 91.7 C254 100 254 106 252 110 C254 118 256 122 258 126 C264 140 270 150 275 156 C278 162 278 168 276 170 C268 175 260 176 254 177 C250 182 250 190 250 197 C251 204 251 212 250 218 C249 226 246 232 240 236 C232 241 226 243 220 245 L196 254.5 L60 254.5 C60 240 60 225 58 205 C52 185 45 165 43 150 C41 140 40 130 41 121 Z" fill="url(#faceskin)"/>
<path d="M120 50 C140 36 170 30 205 30 C225 32 238 40 244 52 C238 70 220 80 200 80 C170 80 140 74 120 50 Z" fill="#e2bcaa" opacity="0.45"/>
<path d="M58 190 C80 205 105 222 130 232 C155 240 180 244 200 246 L196 254.5 L60 254.5 C60 235 59 212 58 190 Z" fill="#b48a76" opacity="0.8"/>
<path d="M278 240 L250 242 L226 246 L205 254.5 L278 254.5 Z" fill="#7181b8"/>
<path d="M252 112 C258 128 266 142 273 152 C276 160 276 166 270 168 C262 166 256 158 252 146 C249 134 249 122 252 112 Z" fill="#e8bfb0" opacity="0.85"/>
<path d="M229 171 C238 169 250 170 257 175 C248 177 238 177 229 174 Z" fill="#7a4a44" opacity="0.9"/>
<path d="M206 201 C222 198 238 199 250 202 C247 208 236 213 222 213 C214 212 208 207 206 201 Z" fill="#c48e86"/>
<path d="M206 203 C220 204 236 205 250 203.5" stroke="#8a5a54" stroke-width="1.6" fill="none"/>
<path d="M232 103 C240 100 248 100 255 104" stroke="#6a5444" stroke-width="3" fill="none"/>
<path d="M240.7 114 C244 110 250 110 254.4 113 C250 117.5 244 117.5 240.7 114 Z" fill="#4c4a52"/>
<ellipse cx="28" cy="148" rx="26" ry="36" fill="#d8a190"/>
<ellipse cx="33" cy="151" rx="14" ry="24" fill="#c08474"/>
<ellipse cx="36" cy="156" rx="7" ry="13" fill="#cf9584"/>
<path d="M0 0 L248 0 C248 14 249 30 249.8 45.8 L243 39 C240 36 236 33 229.2 29.8 C224 28 216 26 206.3 25.2 L174.2 25.2 C165 26 155 28 142.1 32.1 C135 34 128 38 119.2 45.8 C112 52 106 60 98.6 68.8 C90 72 84 76 75.6 87 C66 104 55 118 41 121 C34 116 26 112 14 112 L0 114.6 Z" fill="url(#hair)"/>
<clipPath id="hair_l6"><path d="M0 0 L248 0 C248 14 249 30 249.8 45.8 L243 39 C240 36 236 33 229.2 29.8 C224 28 216 26 206.3 25.2 L174.2 25.2 C165 26 155 28 142.1 32.1 C135 34 128 38 119.2 45.8 C112 52 106 60 98.6 68.8 C90 72 84 76 75.6 87 C66 104 55 118 41 121 C34 116 26 112 14 112 L0 114.6 Z"/></clipPath>
<g clip-path="url(#hair_l6)">
<path d="M57.4 19.6 Q67.0 1.4 88.6 -24.9" stroke="#544640" stroke-width="3.2" fill="none" opacity="0.6" stroke-linecap="round"/>
<path d="M215.6 27.9 Q223.7 35.1 243.8 34.4" stroke="#5e4e42" stroke-width="4.0" fill="none" opacity="0.6" stroke-linecap="round"/>
<path d="M3.4 29.0 Q21.1 20.8 50.7 4.5" stroke="#705e50" stroke-width="1.6" fill="none" opacity="0.6" stroke-linecap="round"/>
<path d="M29.7 72.4 Q34.8 65.6 52.0 50.8" stroke="#544640" stroke-width="3.2" fill="none" opacity="0.6" stroke-linecap="round"/>
<path d="M154.1 13.4 Q173.2 21.3 204.2 21.3" stroke="#5e4e42" stroke-width="3.4" fill="none" opacity="0.6" stroke-linecap="round"/>
<path d="M104.0 69.1 Q120.1 52.8 148.2 28.5" stroke="#544640" stroke-width="2.4" fill="none" opacity="0.6" stroke-linecap="round"/>
<path d="M184.5 90.9 Q195.8 99.7 219.1 100.5" stroke="#705e50" stroke-width="2.4" fill="none" opacity="0.6" stroke-linecap="round"/>
<path d="M234.6 15.3 Q249.4 26.4 276.1 29.4" stroke="#5e4e42" stroke-width="4.4" fill="none" opacity="0.6" stroke-linecap="round"/>
<path d="M-9.0 72.5 Q10.8 60.7 42.5 40.9" stroke="#cab9a0" stroke-width="3.3" fill="none" opacity="0.6" stroke-linecap="round"/>
<path d="M126.6 59.3 Q148.4 48.8 182.3 30.3" stroke="#5e4e42" stroke-width="1.7" fill="none" opacity="0.6" stroke-linecap="round"/>
<path d="M159.4 84.1 Q186.2 100.0 224.9 107.8" stroke="#544640" stroke-width="1.6" fill="none" opacity="0.6" stroke-linecap="round"/>
<path d="M94.7 21.8 Q97.2 13.4 111.8 -3.1" stroke="#6a5a4c" stroke-width="3.7" fill="none" opacity="0.6" stroke-linecap="round"/>
<path d="M77.4 119.2 Q86.0 104.5 106.5 81.9" stroke="#cab9a0" stroke-width="4.2" fill="none" opacity="0.6" stroke-linecap="round"/>
<path d="M191.2 112.3 Q203.5 120.5 227.8 120.7" stroke="#6a5a4c" stroke-width="2.0" fill="none" opacity="0.6" stroke-linecap="round"/>
<path d="M17.6 30.2 Q24.8 22.3 44.0 6.4" stroke="#544640" stroke-width="2.3" fill="none" opacity="0.6" stroke-linecap="round"/>
<path d="M9.3 69.5 Q21.1 54.2 44.9 31.0" stroke="#c4b49a" stroke-width="2.9" fill="none" opacity="0.6" stroke-linecap="round"/>
<path d="M205.2 123.7 Q226.0 135.1 258.8 138.5" stroke="#705e50" stroke-width="3.4" fill="none" opacity="0.6" stroke-linecap="round"/>
<path d="M-13.2 8.8 Q-8.6 -0.8 7.9 -18.4" stroke="#c4b49a" stroke-width="1.8" fill="none" opacity="0.6" stroke-linecap="round"/>
<path d="M123.0 69.8 Q143.7 52.9 176.4 28.1" stroke="#bcaa90" stroke-width="3.3" fill="none" opacity="0.6" stroke-linecap="round"/>
<path d="M10.1 32.8 Q18.3 22.2 38.4 3.7" stroke="#b2a086" stroke-width="4.5" fill="none" opacity="0.6" stroke-linecap="round"/>
<path d="M95.8 62.9 Q98.3 55.2 112.8 39.5" stroke="#cab9a0" stroke-width="2.9" fill="none" opacity="0.6" stroke-linecap="round"/>
<path d="M156.9 67.1 Q166.7 77.6 188.6 80.0" stroke="#5e4e42" stroke-width="3.8" fill="none" opacity="0.6" stroke-linecap="round"/>
<path d="M50.5 83.6 Q57.0 80.2 75.5 68.7" stroke="#6a5a4c" stroke-width="2.6" fill="none" opacity="0.6" stroke-linecap="round"/>
<path d="M30.2 70.4 Q43.1 60.0 68.1 41.6" stroke="#6a5a4c" stroke-width="3.9" fill="none" opacity="0.6" stroke-linecap="round"/>
<path d="M190.9 96.2 Q202.0 104.6 225.0 105.1" stroke="#c4b49a" stroke-width="3.9" fill="none" opacity="0.6" stroke-linecap="round"/>
<path d="M97.5 25.2 Q109.5 10.2 133.5 -12.7" stroke="#544640" stroke-width="4.4" fill="none" opacity="0.6" stroke-linecap="round"/>
<path d="M68.5 28.7 Q73.5 19.0 90.6 1.3" stroke="#c4b49a" stroke-width="2.9" fill="none" opacity="0.6" stroke-linecap="round"/>
<path d="M146.3 104.0 Q151.9 99.4 169.5 86.8" stroke="#6a5a4c" stroke-width="2.9" fill="none" opacity="0.6" stroke-linecap="round"/>
<path d="M18.2 102.6 Q29.1 96.0 52.1 81.4" stroke="#705e50" stroke-width="2.9" fill="none" opacity="0.6" stroke-linecap="round"/>
<path d="M170.7 11.0 Q179.5 21.3 200.3 23.5" stroke="#705e50" stroke-width="3.9" fill="none" opacity="0.6" stroke-linecap="round"/>
<path d="M9.5 107.4 Q31.2 90.9 65.0 66.3" stroke="#bcaa90" stroke-width="1.6" fill="none" opacity="0.6" stroke-linecap="round"/>
<path d="M185.8 94.4 Q193.9 103.2 213.9 103.9" stroke="#6a5a4c" stroke-width="4.0" fill="none" opacity="0.6" stroke-linecap="round"/>
<path d="M27.0 32.7 Q33.3 22.2 51.7 3.6" stroke="#544640" stroke-width="3.1" fill="none" opacity="0.6" stroke-linecap="round"/>
<path d="M195.2 7.9 Q216.4 22.4 249.6 29.0" stroke="#705e50" stroke-width="4.0" fill="none" opacity="0.6" stroke-linecap="round"/>
<path d="M207.1 17.0 Q216.5 25.0 237.9 25.0" stroke="#5e4e42" stroke-width="3.8" fill="none" opacity="0.6" stroke-linecap="round"/>
<path d="M10.4 18.4 Q20.2 1.2 41.9 -24.1" stroke="#b2a086" stroke-width="3.9" fill="none" opacity="0.6" stroke-linecap="round"/>
<path d="M-1.4 72.8 Q4.6 63.3 22.6 45.7" stroke="#705e50" stroke-width="3.2" fill="none" opacity="0.6" stroke-linecap="round"/>
<path d="M175.2 118.6 Q190.8 128.9 218.3 131.2" stroke="#544640" stroke-width="2.9" fill="none" opacity="0.6" stroke-linecap="round"/>
<path d="M114.0 62.1 Q135.5 46.7 169.0 23.3" stroke="#544640" stroke-width="4.3" fill="none" opacity="0.6" stroke-linecap="round"/>
<path d="M211.0 26.3 Q227.0 35.4 255.0 36.4" stroke="#6a5a4c" stroke-width="2.8" fill="none" opacity="0.6" stroke-linecap="round"/>
<path d="M27.4 39.4 Q34.2 35.1 53.1 22.8" stroke="#544640" stroke-width="1.9" fill="none" opacity="0.6" stroke-linecap="round"/>
<path d="M208.4 125.8 Q218.5 136.3 240.7 138.9" stroke="#6a5a4c" stroke-width="2.0" fill="none" opacity="0.6" stroke-linecap="round"/>
<path d="M86.5 67.0 Q93.1 55.4 111.8 35.7" stroke="#cab9a0" stroke-width="1.6" fill="none" opacity="0.6" stroke-linecap="round"/>
<path d="M119.6 57.3 Q122.4 51.8 137.2 38.4" stroke="#5e4e42" stroke-width="1.8" fill="none" opacity="0.6" stroke-linecap="round"/>
<path d="M218.0 29.7 Q244.0 37.7 281.9 37.8" stroke="#6a5a4c" stroke-width="2.3" fill="none" opacity="0.6" stroke-linecap="round"/>
<path d="M5.0 54.9 Q27.1 41.7 61.3 20.4" stroke="#bcaa90" stroke-width="3.1" fill="none" opacity="0.6" stroke-linecap="round"/>
<path d="M109.0 64.3 Q116.1 53.4 135.3 34.6" stroke="#6a5a4c" stroke-width="2.8" fill="none" opacity="0.6" stroke-linecap="round"/>
<path d="M-10.4 122.0 Q6.2 111.8 34.9 93.6" stroke="#bcaa90" stroke-width="1.7" fill="none" opacity="0.6" stroke-linecap="round"/>
<path d="M202.9 59.0 Q216.4 68.3 241.8 69.6" stroke="#6a5a4c" stroke-width="1.6" fill="none" opacity="0.6" stroke-linecap="round"/>
<path d="M161.6 122.0 Q189.3 132.1 229.1 134.1" stroke="#544640" stroke-width="3.1" fill="none" opacity="0.6" stroke-linecap="round"/>
<path d="M25.6 57.9 Q37.8 41.2 62.0 16.4" stroke="#544640" stroke-width="1.6" fill="none" opacity="0.6" stroke-linecap="round"/>
<path d="M-25.0 65.7 Q-5.0 47.1 27.0 20.4" stroke="#b2a086" stroke-width="1.8" fill="none" opacity="0.6" stroke-linecap="round"/>
<path d="M191.1 56.2 Q207.3 68.3 235.5 72.4" stroke="#6a5a4c" stroke-width="4.4" fill="none" opacity="0.6" stroke-linecap="round"/>
<path d="M62.5 108.2 Q79.1 95.0 107.7 73.8" stroke="#cab9a0" stroke-width="4.4" fill="none" opacity="0.6" stroke-linecap="round"/>
<path d="M196.0 1.9 Q214.8 15.3 245.7 20.8" stroke="#b2a086" stroke-width="4.1" fill="none" opacity="0.6" stroke-linecap="round"/>
<path d="M151.0 36.7 Q162.7 44.0 186.3 43.4" stroke="#b2a086" stroke-width="1.5" fill="none" opacity="0.6" stroke-linecap="round"/>
<path d="M68.3 42.8 Q85.9 21.4 115.5 -8.0" stroke="#cab9a0" stroke-width="2.2" fill="none" opacity="0.6" stroke-linecap="round"/>
<path d="M19.4 43.6 Q22.9 36.8 38.5 22.0" stroke="#6a5a4c" stroke-width="3.0" fill="none" opacity="0.6" stroke-linecap="round"/>
<path d="M-28.7 34.3 Q-24.3 28.1 -8.0 13.9" stroke="#c4b49a" stroke-width="2.4" fill="none" opacity="0.6" stroke-linecap="round"/>
<path d="M140.0 11.0 Q163.4 -2.3 198.7 -23.5" stroke="#b2a086" stroke-width="3.8" fill="none" opacity="0.6" stroke-linecap="round"/>
<path d="M164.6 64.2 Q176.7 73.6 200.8 74.9" stroke="#705e50" stroke-width="3.7" fill="none" opacity="0.6" stroke-linecap="round"/>
<path d="M189.3 18.1 Q206.8 28.1 236.3 30.2" stroke="#6a5a4c" stroke-width="1.8" fill="none" opacity="0.6" stroke-linecap="round"/>
<path d="M-18.7 82.8 Q-0.8 62.5 29.2 34.3" stroke="#5e4e42" stroke-width="3.4" fill="none" opacity="0.6" stroke-linecap="round"/>
<path d="M139.1 88.5 Q145.8 72.7 164.6 49.0" stroke="#5e4e42" stroke-width="3.5" fill="none" opacity="0.6" stroke-linecap="round"/>
<path d="M-12.2 95.8 Q-7.7 84.9 8.7 66.0" stroke="#bcaa90" stroke-width="2.2" fill="none" opacity="0.6" stroke-linecap="round"/>
<path d="M145.5 59.8 Q157.6 38.1 181.8 8.3" stroke="#544640" stroke-width="3.8" fill="none" opacity="0.6" stroke-linecap="round"/>
<path d="M136.6 83.6 Q139.2 76.2 153.9 60.9" stroke="#cab9a0" stroke-width="3.4" fill="none" opacity="0.6" stroke-linecap="round"/>
<path d="M6.0 62.7 Q21.0 56.2 47.9 41.7" stroke="#bcaa90" stroke-width="3.5" fill="none" opacity="0.6" stroke-linecap="round"/>
<path d="M48.5 67.1 Q59.4 55.6 82.3 36.1" stroke="#bcaa90" stroke-width="2.4" fill="none" opacity="0.6" stroke-linecap="round"/>
<path d="M-6.8 61.5 Q-1.9 49.9 15.1 30.4" stroke="#705e50" stroke-width="4.5" fill="none" opacity="0.6" stroke-linecap="round"/>
</g>
<path d="M98.6 68.8 C90 72 84 76 75.6 87 C66 104 55 118 41 121 L58 128 C68 118 78 104 86 94 C92 86 100 80 108 74 Z" fill="#9c7e6a" opacity="0.6"/>
<path d="M240 42 C246 46 250 54 250 62 C246 58 242 52 240 42 Z" fill="#eeeae6" opacity="0.8"/>
<path d="M76 94 C84 88 98 86 108 90 C104 95 92 98 82 99 Z" fill="#f2eeea" opacity="0.75"/>
<path d="M98 76 C108 72 122 72 132 76" stroke="#f2eeea" stroke-width="2.2" fill="none" opacity="0.6"/>
<path d="M62 150 C95 120 140 82 210 28" stroke="#ece4de" stroke-width="1" fill="none" opacity="0.7"/>
<path d="M40.1 137.5 L68.8 123.8 L110 160.4 L96.3 174.2 L48 162 Z" fill="#d0c7bd"/>
<path d="M72 128 L80 125 L110 160.4 L98 170 Z" fill="#dcd6d0"/>
<path d="M48.1 160.4 L73.3 151.3 L87.1 171.9 L61.9 181.1 Z" fill="#2e2a27"/>
<path d="M61.9 181.1 L87.1 171.9 L88 174.5 L62.8 183.6 Z" fill="#b8a888"/>
<path d="M158 118 C168 110 184 109 197 115 C186 124 170 125 158 118 Z" fill="#6a5a58"/>
<path d="M152 104 C168 98 186 98 200 104" stroke="#8a6a58" stroke-width="3" fill="none"/>
<ellipse cx="190.5" cy="51.5" rx="6.8" ry="6.3" fill="none" stroke="#141414" stroke-width="1.8"/>
<ellipse cx="236" cy="58" rx="3.8" ry="5.8" fill="none" stroke="#141414" stroke-width="1.8"/>
<ellipse cx="149.6" cy="85.5" rx="4" ry="3.3" fill="none" stroke="#141414" stroke-width="1.8"/>
<ellipse cx="117.3" cy="130.5" rx="4" ry="3.3" fill="none" stroke="#141414" stroke-width="1.8"/>
<ellipse cx="123.6" cy="179.6" rx="4" ry="3.3" fill="none" stroke="#141414" stroke-width="1.8"/>
<ellipse cx="125.3" cy="198.3" rx="4" ry="3.3" fill="none" stroke="#141414" stroke-width="1.8"/>
<ellipse cx="141.8" cy="228.6" rx="4" ry="3" fill="none" stroke="#141414" stroke-width="1.8"/>
<ellipse cx="199.6" cy="227.5" rx="4" ry="3.3" fill="none" stroke="#141414" stroke-width="1.8"/>
<ellipse cx="213.6" cy="147" rx="4" ry="3.4" fill="none" stroke="#141414" stroke-width="1.8"/>
<ellipse cx="170" cy="59" rx="2.6" ry="1.5" fill="#1a1a1a"/>
<ellipse cx="132" cy="93" rx="2.6" ry="1.5" fill="#1a1a1a"/>
<ellipse cx="106" cy="143" rx="2.6" ry="1.5" fill="#1a1a1a"/>
<ellipse cx="104" cy="182" rx="2.6" ry="1.5" fill="#1a1a1a"/>
<ellipse cx="108" cy="188" rx="2.6" ry="1.5" fill="#1a1a1a"/>
<ellipse cx="127" cy="229" rx="2.6" ry="1.5" fill="#1a1a1a"/>
<path d="M214 56 L226 68 M226 56 L214 68" stroke="#3a3a3a" stroke-width="1.4"/>
<clipPath id="poly_l6"><path d="M189.2 53 L234.5 58.9 L200 228 L140.6 228.8 L125.2 197.9 L123.6 178.4 L117.9 129.8 L150.4 84.3 Z"/></clipPath>
<g opacity="0.55" clip-path="url(#poly_l6)">
<path d="M189.2 53 L234.5 58.9 L200 228 L140.6 228.8 L125.2 197.9 L123.6 178.4 L117.9 129.8 L150.4 84.3 Z" fill="#0000f1"/>
<g filter="url(#blur3)">
<polygon points="146.4,83.5 192.4,40.5 242.4,59.5 217.4,145.5" fill="#004cff"/>
<polygon points="154.7,82.6 192.4,47.3 233.4,62.9 212.9,133.4" fill="#00dcfe"/>
<polygon points="162.0,81.8 192.4,53.4 225.4,66.0 208.9,122.7" fill="#63ff94"/>
<polygon points="168.5,81.1 192.4,58.7 218.4,68.6 205.4,113.3" fill="#deff19"/>
<polygon points="174.9,80.4 192.4,64.1 211.4,71.3 201.9,104.0" fill="#ff9f00"/>
<polygon points="180.4,79.8 192.4,68.6 205.4,73.6 198.9,95.9" fill="#ff3800"/>
<polygon points="185.5,79.2 192.4,72.8 199.9,75.7 196.2,88.5" fill="#b60000"/>
</g>
</g>
<ellipse cx="194" cy="78.5" rx="4.3" ry="3.4" fill="none" stroke="#1a1a90" stroke-width="1.6" opacity="0.9"/>
<ellipse cx="126.8" cy="156.5" rx="4.3" ry="3.4" fill="none" stroke="#1a1a90" stroke-width="1.6" opacity="0.9"/>
<ellipse cx="157.7" cy="159.8" rx="4.3" ry="3.4" fill="none" stroke="#1a1a90" stroke-width="1.6" opacity="0.9"/>
<ellipse cx="150.4" cy="172" rx="4.3" ry="3.4" fill="none" stroke="#1a1a90" stroke-width="1.6" opacity="0.9"/>
<ellipse cx="186.9" cy="172" rx="4.3" ry="3.4" fill="none" stroke="#1a1a90" stroke-width="1.6" opacity="0.9"/>
<ellipse cx="160.1" cy="193.1" rx="4.3" ry="3.4" fill="none" stroke="#1a1a90" stroke-width="1.6" opacity="0.9"/>
<ellipse cx="161.7" cy="212.5" rx="4.3" ry="3.4" fill="none" stroke="#1a1a90" stroke-width="1.6" opacity="0.9"/>
</g></g>
<g transform="translate(1103.20 826.30) scale(0.9993 0.9992)">
<clipPath id="clip_t10"><rect width="278.0" height="254.5"/></clipPath>
<g clip-path="url(#clip_t10)">
<rect width="278.0" height="254.5" fill="#e2dac9"/>
<rect x="258.4" y="0" width="1.4" height="240" fill="#c6bcab"/>
<rect x="262.5" y="0" width="1.2" height="240" fill="#f0ebe2"/>
<rect x="0" y="110" width="10" height="68" fill="#d6d7dd"/>
<rect x="0" y="134" width="4" height="7" fill="#7f70c0"/>
<path d="M0 176.5 L60 176.5 L60 192.5 L0 192.5 Z" fill="#2b2b2b"/>
<path d="M0 192.5 L60 192.5 L60 196.5 L0 196.5 Z" fill="#5d7a58"/>
<path d="M0 196.5 L60 196.5 L60 217.7 L0 217.7 Z" fill="#3d3e3e"/>
<path d="M0 217.7 L60 210 L64 255 L0 255 Z" fill="#8b8f90"/>
<path d="M0 230 L60 222 L60 226 L0 234 Z" fill="#a9adae"/>
<circle cx="52.7" cy="213" r="5" fill="#c8c8c4"/>
<path d="M41 121 C55 118 66 104 75.6 87 C84 76 90 72 98.6 68.8 C106 60 112 52 119.2 45.8 C128 38 135 34 142.1 32.1 C155 28 165 26 174.2 25.2 L206.3 25.2 C216 26 224 28 229.2 29.8 C236 33 240 36 243 39 C247 50 250 70 252 91.7 C254 100 254 106 252 110 C254 118 256 122 258 126 C264 140 270 150 275 156 C278 162 278 168 276 170 C268 175 260 176 254 177 C250 182 250 190 250 197 C251 204 251 212 250 218 C249 226 246 232 240 236 C232 241 226 243 220 245 L196 254.5 L60 254.5 C60 240 60 225 58 205 C52 185 45 165 43 150 C41 140 40 130 41 121 Z" fill="url(#faceskin)"/>
<path d="M120 50 C140 36 170 30 205 30 C225 32 238 40 244 52 C238 70 220 80 200 80 C170 80 140 74 120 50 Z" fill="#e2bcaa" opacity="0.45"/>
<path d="M58 190 C80 205 105 222 130 232 C155 240 180 244 200 246 L196 254.5 L60 254.5 C60 235 59 212 58 190 Z" fill="#b48a76" opacity="0.8"/>
<path d="M278 240 L250 242 L226 246 L205 254.5 L278 254.5 Z" fill="#7181b8"/>
<path d="M252 112 C258 128 266 142 273 152 C276 160 276 166 270 168 C262 166 256 158 252 146 C249 134 249 122 252 112 Z" fill="#e8bfb0" opacity="0.85"/>
<path d="M229 171 C238 169 250 170 257 175 C248 177 238 177 229 174 Z" fill="#7a4a44" opacity="0.9"/>
<path d="M206 201 C222 198 238 199 250 202 C247 208 236 213 222 213 C214 212 208 207 206 201 Z" fill="#c48e86"/>
<path d="M206 203 C220 204 236 205 250 203.5" stroke="#8a5a54" stroke-width="1.6" fill="none"/>
<path d="M232 103 C240 100 248 100 255 104" stroke="#6a5444" stroke-width="3" fill="none"/>
<path d="M240.7 114 C244 110 250 110 254.4 113 C250 117.5 244 117.5 240.7 114 Z" fill="#4c4a52"/>
<ellipse cx="28" cy="148" rx="26" ry="36" fill="#d8a190"/>
<ellipse cx="33" cy="151" rx="14" ry="24" fill="#c08474"/>
<ellipse cx="36" cy="156" rx="7" ry="13" fill="#cf9584"/>
<path d="M0 0 L248 0 C248 14 249 30 249.8 45.8 L243 39 C240 36 236 33 229.2 29.8 C224 28 216 26 206.3 25.2 L174.2 25.2 C165 26 155 28 142.1 32.1 C135 34 128 38 119.2 45.8 C112 52 106 60 98.6 68.8 C90 72 84 76 75.6 87 C66 104 55 118 41 121 C34 116 26 112 14 112 L0 114.6 Z" fill="url(#hair)"/>
<clipPath id="hair_t10"><path d="M0 0 L248 0 C248 14 249 30 249.8 45.8 L243 39 C240 36 236 33 229.2 29.8 C224 28 216 26 206.3 25.2 L174.2 25.2 C165 26 155 28 142.1 32.1 C135 34 128 38 119.2 45.8 C112 52 106 60 98.6 68.8 C90 72 84 76 75.6 87 C66 104 55 118 41 121 C34 116 26 112 14 112 L0 114.6 Z"/></clipPath>
<g clip-path="url(#hair_t10)">
<path d="M57.4 19.6 Q67.0 1.4 88.6 -24.9" stroke="#544640" stroke-width="3.2" fill="none" opacity="0.6" stroke-linecap="round"/>
<path d="M215.6 27.9 Q223.7 35.1 243.8 34.4" stroke="#5e4e42" stroke-width="4.0" fill="none" opacity="0.6" stroke-linecap="round"/>
<path d="M3.4 29.0 Q21.1 20.8 50.7 4.5" stroke="#705e50" stroke-width="1.6" fill="none" opacity="0.6" stroke-linecap="round"/>
<path d="M29.7 72.4 Q34.8 65.6 52.0 50.8" stroke="#544640" stroke-width="3.2" fill="none" opacity="0.6" stroke-linecap="round"/>
<path d="M154.1 13.4 Q173.2 21.3 204.2 21.3" stroke="#5e4e42" stroke-width="3.4" fill="none" opacity="0.6" stroke-linecap="round"/>
<path d="M104.0 69.1 Q120.1 52.8 148.2 28.5" stroke="#544640" stroke-width="2.4" fill="none" opacity="0.6" stroke-linecap="round"/>
<path d="M184.5 90.9 Q195.8 99.7 219.1 100.5" stroke="#705e50" stroke-width="2.4" fill="none" opacity="0.6" stroke-linecap="round"/>
<path d="M234.6 15.3 Q249.4 26.4 276.1 29.4" stroke="#5e4e42" stroke-width="4.4" fill="none" opacity="0.6" stroke-linecap="round"/>
<path d="M-9.0 72.5 Q10.8 60.7 42.5 40.9" stroke="#cab9a0" stroke-width="3.3" fill="none" opacity="0.6" stroke-linecap="round"/>
<path d="M126.6 59.3 Q148.4 48.8 182.3 30.3" stroke="#5e4e42" stroke-width="1.7" fill="none" opacity="0.6" stroke-linecap="round"/>
<path d="M159.4 84.1 Q186.2 100.0 224.9 107.8" stroke="#544640" stroke-width="1.6" fill="none" opacity="0.6" stroke-linecap="round"/>
<path d="M94.7 21.8 Q97.2 13.4 111.8 -3.1" stroke="#6a5a4c" stroke-width="3.7" fill="none" opacity="0.6" stroke-linecap="round"/>
<path d="M77.4 119.2 Q86.0 104.5 106.5 81.9" stroke="#cab9a0" stroke-width="4.2" fill="none" opacity="0.6" stroke-linecap="round"/>
<path d="M191.2 112.3 Q203.5 120.5 227.8 120.7" stroke="#6a5a4c" stroke-width="2.0" fill="none" opacity="0.6" stroke-linecap="round"/>
<path d="M17.6 30.2 Q24.8 22.3 44.0 6.4" stroke="#544640" stroke-width="2.3" fill="none" opacity="0.6" stroke-linecap="round"/>
<path d="M9.3 69.5 Q21.1 54.2 44.9 31.0" stroke="#c4b49a" stroke-width="2.9" fill="none" opacity="0.6" stroke-linecap="round"/>
<path d="M205.2 123.7 Q226.0 135.1 258.8 138.5" stroke="#705e50" stroke-width="3.4" fill="none" opacity="0.6" stroke-linecap="round"/>
<path d="M-13.2 8.8 Q-8.6 -0.8 7.9 -18.4" stroke="#c4b49a" stroke-width="1.8" fill="none" opacity="0.6" stroke-linecap="round"/>
<path d="M123.0 69.8 Q143.7 52.9 176.4 28.1" stroke="#bcaa90" stroke-width="3.3" fill="none" opacity="0.6" stroke-linecap="round"/>
<path d="M10.1 32.8 Q18.3 22.2 38.4 3.7" stroke="#b2a086" stroke-width="4.5" fill="none" opacity="0.6" stroke-linecap="round"/>
<path d="M95.8 62.9 Q98.3 55.2 112.8 39.5" stroke="#cab9a0" stroke-width="2.9" fill="none" opacity="0.6" stroke-linecap="round"/>
<path d="M156.9 67.1 Q166.7 77.6 188.6 80.0" stroke="#5e4e42" stroke-width="3.8" fill="none" opacity="0.6" stroke-linecap="round"/>
<path d="M50.5 83.6 Q57.0 80.2 75.5 68.7" stroke="#6a5a4c" stroke-width="2.6" fill="none" opacity="0.6" stroke-linecap="round"/>
<path d="M30.2 70.4 Q43.1 60.0 68.1 41.6" stroke="#6a5a4c" stroke-width="3.9" fill="none" opacity="0.6" stroke-linecap="round"/>
<path d="M190.9 96.2 Q202.0 104.6 225.0 105.1" stroke="#c4b49a" stroke-width="3.9" fill="none" opacity="0.6" stroke-linecap="round"/>
<path d="M97.5 25.2 Q109.5 10.2 133.5 -12.7" stroke="#544640" stroke-width="4.4" fill="none" opacity="0.6" stroke-linecap="round"/>
<path d="M68.5 28.7 Q73.5 19.0 90.6 1.3" stroke="#c4b49a" stroke-width="2.9" fill="none" opacity="0.6" stroke-linecap="round"/>
<path d="M146.3 104.0 Q151.9 99.4 169.5 86.8" stroke="#6a5a4c" stroke-width="2.9" fill="none" opacity="0.6" stroke-linecap="round"/>
<path d="M18.2 102.6 Q29.1 96.0 52.1 81.4" stroke="#705e50" stroke-width="2.9" fill="none" opacity="0.6" stroke-linecap="round"/>
<path d="M170.7 11.0 Q179.5 21.3 200.3 23.5" stroke="#705e50" stroke-width="3.9" fill="none" opacity="0.6" stroke-linecap="round"/>
<path d="M9.5 107.4 Q31.2 90.9 65.0 66.3" stroke="#bcaa90" stroke-width="1.6" fill="none" opacity="0.6" stroke-linecap="round"/>
<path d="M185.8 94.4 Q193.9 103.2 213.9 103.9" stroke="#6a5a4c" stroke-width="4.0" fill="none" opacity="0.6" stroke-linecap="round"/>
<path d="M27.0 32.7 Q33.3 22.2 51.7 3.6" stroke="#544640" stroke-width="3.1" fill="none" opacity="0.6" stroke-linecap="round"/>
<path d="M195.2 7.9 Q216.4 22.4 249.6 29.0" stroke="#705e50" stroke-width="4.0" fill="none" opacity="0.6" stroke-linecap="round"/>
<path d="M207.1 17.0 Q216.5 25.0 237.9 25.0" stroke="#5e4e42" stroke-width="3.8" fill="none" opacity="0.6" stroke-linecap="round"/>
<path d="M10.4 18.4 Q20.2 1.2 41.9 -24.1" stroke="#b2a086" stroke-width="3.9" fill="none" opacity="0.6" stroke-linecap="round"/>
<path d="M-1.4 72.8 Q4.6 63.3 22.6 45.7" stroke="#705e50" stroke-width="3.2" fill="none" opacity="0.6" stroke-linecap="round"/>
<path d="M175.2 118.6 Q190.8 128.9 218.3 131.2" stroke="#544640" stroke-width="2.9" fill="none" opacity="0.6" stroke-linecap="round"/>
<path d="M114.0 62.1 Q135.5 46.7 169.0 23.3" stroke="#544640" stroke-width="4.3" fill="none" opacity="0.6" stroke-linecap="round"/>
<path d="M211.0 26.3 Q227.0 35.4 255.0 36.4" stroke="#6a5a4c" stroke-width="2.8" fill="none" opacity="0.6" stroke-linecap="round"/>
<path d="M27.4 39.4 Q34.2 35.1 53.1 22.8" stroke="#544640" stroke-width="1.9" fill="none" opacity="0.6" stroke-linecap="round"/>
<path d="M208.4 125.8 Q218.5 136.3 240.7 138.9" stroke="#6a5a4c" stroke-width="2.0" fill="none" opacity="0.6" stroke-linecap="round"/>
<path d="M86.5 67.0 Q93.1 55.4 111.8 35.7" stroke="#cab9a0" stroke-width="1.6" fill="none" opacity="0.6" stroke-linecap="round"/>
<path d="M119.6 57.3 Q122.4 51.8 137.2 38.4" stroke="#5e4e42" stroke-width="1.8" fill="none" opacity="0.6" stroke-linecap="round"/>
<path d="M218.0 29.7 Q244.0 37.7 281.9 37.8" stroke="#6a5a4c" stroke-width="2.3" fill="none" opacity="0.6" stroke-linecap="round"/>
<path d="M5.0 54.9 Q27.1 41.7 61.3 20.4" stroke="#bcaa90" stroke-width="3.1" fill="none" opacity="0.6" stroke-linecap="round"/>
<path d="M109.0 64.3 Q116.1 53.4 135.3 34.6" stroke="#6a5a4c" stroke-width="2.8" fill="none" opacity="0.6" stroke-linecap="round"/>
<path d="M-10.4 122.0 Q6.2 111.8 34.9 93.6" stroke="#bcaa90" stroke-width="1.7" fill="none" opacity="0.6" stroke-linecap="round"/>
<path d="M202.9 59.0 Q216.4 68.3 241.8 69.6" stroke="#6a5a4c" stroke-width="1.6" fill="none" opacity="0.6" stroke-linecap="round"/>
<path d="M161.6 122.0 Q189.3 132.1 229.1 134.1" stroke="#544640" stroke-width="3.1" fill="none" opacity="0.6" stroke-linecap="round"/>
<path d="M25.6 57.9 Q37.8 41.2 62.0 16.4" stroke="#544640" stroke-width="1.6" fill="none" opacity="0.6" stroke-linecap="round"/>
<path d="M-25.0 65.7 Q-5.0 47.1 27.0 20.4" stroke="#b2a086" stroke-width="1.8" fill="none" opacity="0.6" stroke-linecap="round"/>
<path d="M191.1 56.2 Q207.3 68.3 235.5 72.4" stroke="#6a5a4c" stroke-width="4.4" fill="none" opacity="0.6" stroke-linecap="round"/>
<path d="M62.5 108.2 Q79.1 95.0 107.7 73.8" stroke="#cab9a0" stroke-width="4.4" fill="none" opacity="0.6" stroke-linecap="round"/>
<path d="M196.0 1.9 Q214.8 15.3 245.7 20.8" stroke="#b2a086" stroke-width="4.1" fill="none" opacity="0.6" stroke-linecap="round"/>
<path d="M151.0 36.7 Q162.7 44.0 186.3 43.4" stroke="#b2a086" stroke-width="1.5" fill="none" opacity="0.6" stroke-linecap="round"/>
<path d="M68.3 42.8 Q85.9 21.4 115.5 -8.0" stroke="#cab9a0" stroke-width="2.2" fill="none" opacity="0.6" stroke-linecap="round"/>
<path d="M19.4 43.6 Q22.9 36.8 38.5 22.0" stroke="#6a5a4c" stroke-width="3.0" fill="none" opacity="0.6" stroke-linecap="round"/>
<path d="M-28.7 34.3 Q-24.3 28.1 -8.0 13.9" stroke="#c4b49a" stroke-width="2.4" fill="none" opacity="0.6" stroke-linecap="round"/>
<path d="M140.0 11.0 Q163.4 -2.3 198.7 -23.5" stroke="#b2a086" stroke-width="3.8" fill="none" opacity="0.6" stroke-linecap="round"/>
<path d="M164.6 64.2 Q176.7 73.6 200.8 74.9" stroke="#705e50" stroke-width="3.7" fill="none" opacity="0.6" stroke-linecap="round"/>
<path d="M189.3 18.1 Q206.8 28.1 236.3 30.2" stroke="#6a5a4c" stroke-width="1.8" fill="none" opacity="0.6" stroke-linecap="round"/>
<path d="M-18.7 82.8 Q-0.8 62.5 29.2 34.3" stroke="#5e4e42" stroke-width="3.4" fill="none" opacity="0.6" stroke-linecap="round"/>
<path d="M139.1 88.5 Q145.8 72.7 164.6 49.0" stroke="#5e4e42" stroke-width="3.5" fill="none" opacity="0.6" stroke-linecap="round"/>
<path d="M-12.2 95.8 Q-7.7 84.9 8.7 66.0" stroke="#bcaa90" stroke-width="2.2" fill="none" opacity="0.6" stroke-linecap="round"/>
<path d="M145.5 59.8 Q157.6 38.1 181.8 8.3" stroke="#544640" stroke-width="3.8" fill="none" opacity="0.6" stroke-linecap="round"/>
<path d="M136.6 83.6 Q139.2 76.2 153.9 60.9" stroke="#cab9a0" stroke-width="3.4" fill="none" opacity="0.6" stroke-linecap="round"/>
<path d="M6.0 62.7 Q21.0 56.2 47.9 41.7" stroke="#bcaa90" stroke-width="3.5" fill="none" opacity="0.6" stroke-linecap="round"/>
<path d="M48.5 67.1 Q59.4 55.6 82.3 36.1" stroke="#bcaa90" stroke-width="2.4" fill="none" opacity="0.6" stroke-linecap="round"/>
<path d="M-6.8 61.5 Q-1.9 49.9 15.1 30.4" stroke="#705e50" stroke-width="4.5" fill="none" opacity="0.6" stroke-linecap="round"/>
</g>
<path d="M98.6 68.8 C90 72 84 76 75.6 87 C66 104 55 118 41 121 L58 128 C68 118 78 104 86 94 C92 86 100 80 108 74 Z" fill="#9c7e6a" opacity="0.6"/>
<path d="M240 42 C246 46 250 54 250 62 C246 58 242 52 240 42 Z" fill="#eeeae6" opacity="0.8"/>
<path d="M76 94 C84 88 98 86 108 90 C104 95 92 98 82 99 Z" fill="#f2eeea" opacity="0.75"/>
<path d="M98 76 C108 72 122 72 132 76" stroke="#f2eeea" stroke-width="2.2" fill="none" opacity="0.6"/>
<path d="M62 150 C95 120 140 82 210 28" stroke="#ece4de" stroke-width="1" fill="none" opacity="0.7"/>
<path d="M40.1 137.5 L68.8 123.8 L110 160.4 L96.3 174.2 L48 162 Z" fill="#d0c7bd"/>
<path d="M72 128 L80 125 L110 160.4 L98 170 Z" fill="#dcd6d0"/>
<path d="M48.1 160.4 L73.3 151.3 L87.1 171.9 L61.9 181.1 Z" fill="#2e2a27"/>
<path d="M61.9 181.1 L87.1 171.9 L88 174.5 L62.8 183.6 Z" fill="#b8a888"/>
<path d="M158 118 C168 110 184 109 197 115 C186 124 170 125 158 118 Z" fill="#6a5a58"/>
<path d="M152 104 C168 98 186 98 200 104" stroke="#8a6a58" stroke-width="3" fill="none"/>
<ellipse cx="190.5" cy="51.5" rx="6.8" ry="6.3" fill="none" stroke="#141414" stroke-width="1.8"/>
<ellipse cx="236" cy="58" rx="3.8" ry="5.8" fill="none" stroke="#141414" stroke-width="1.8"/>
<ellipse cx="149.6" cy="85.5" rx="4" ry="3.3" fill="none" stroke="#141414" stroke-width="1.8"/>
<ellipse cx="117.3" cy="130.5" rx="4" ry="3.3" fill="none" stroke="#141414" stroke-width="1.8"/>
<ellipse cx="123.6" cy="179.6" rx="4" ry="3.3" fill="none" stroke="#141414" stroke-width="1.8"/>
<ellipse cx="125.3" cy="198.3" rx="4" ry="3.3" fill="none" stroke="#141414" stroke-width="1.8"/>
<ellipse cx="141.8" cy="228.6" rx="4" ry="3" fill="none" stroke="#141414" stroke-width="1.8"/>
<ellipse cx="199.6" cy="227.5" rx="4" ry="3.3" fill="none" stroke="#141414" stroke-width="1.8"/>
<ellipse cx="213.6" cy="147" rx="4" ry="3.4" fill="none" stroke="#141414" stroke-width="1.8"/>
<ellipse cx="170" cy="59" rx="2.6" ry="1.5" fill="#1a1a1a"/>
<ellipse cx="132" cy="93" rx="2.6" ry="1.5" fill="#1a1a1a"/>
<ellipse cx="106" cy="143" rx="2.6" ry="1.5" fill="#1a1a1a"/>
<ellipse cx="104" cy="182" rx="2.6" ry="1.5" fill="#1a1a1a"/>
<ellipse cx="108" cy="188" rx="2.6" ry="1.5" fill="#1a1a1a"/>
<ellipse cx="127" cy="229" rx="2.6" ry="1.5" fill="#1a1a1a"/>
<path d="M214 56 L226 68 M226 56 L214 68" stroke="#3a3a3a" stroke-width="1.4"/>
<clipPath id="poly_t10"><path d="M189.2 53 L234.5 58.9 L200 228 L140.6 228.8 L125.2 197.9 L123.6 178.4 L117.9 129.8 L150.4 84.3 Z"/></clipPath>
<g opacity="0.55" clip-path="url(#poly_t10)">
<path d="M189.2 53 L234.5 58.9 L200 228 L140.6 228.8 L125.2 197.9 L123.6 178.4 L117.9 129.8 L150.4 84.3 Z" fill="url(#ov_t10)"/>
</g>
<ellipse cx="194" cy="78.5" rx="4.3" ry="3.4" fill="none" stroke="#1a1a90" stroke-width="1.6" opacity="0.9"/>
<ellipse cx="126.8" cy="156.5" rx="4.3" ry="3.4" fill="none" stroke="#1a1a90" stroke-width="1.6" opacity="0.9"/>
<ellipse cx="157.7" cy="159.8" rx="4.3" ry="3.4" fill="none" stroke="#1a1a90" stroke-width="1.6" opacity="0.9"/>
<ellipse cx="150.4" cy="172" rx="4.3" ry="3.4" fill="none" stroke="#1a1a90" stroke-width="1.6" opacity="0.9"/>
<ellipse cx="186.9" cy="172" rx="4.3" ry="3.4" fill="none" stroke="#1a1a90" stroke-width="1.6" opacity="0.9"/>
<ellipse cx="160.1" cy="193.1" rx="4.3" ry="3.4" fill="none" stroke="#1a1a90" stroke-width="1.6" opacity="0.9"/>
<ellipse cx="161.7" cy="212.5" rx="4.3" ry="3.4" fill="none" stroke="#1a1a90" stroke-width="1.6" opacity="0.9"/>
</g></g>
<g transform="translate(1437.30 826.30) scale(0.9996 0.9992)">
<clipPath id="clip_t7"><rect width="278.0" height="254.5"/></clipPath>
<g clip-path="url(#clip_t7)">
<rect width="278.0" height="254.5" fill="#e2dac9"/>
<rect x="258.4" y="0" width="1.4" height="240" fill="#c6bcab"/>
<rect x="262.5" y="0" width="1.2" height="240" fill="#f0ebe2"/>
<rect x="0" y="110" width="10" height="68" fill="#d6d7dd"/>
<rect x="0" y="134" width="4" height="7" fill="#7f70c0"/>
<path d="M0 176.5 L60 176.5 L60 192.5 L0 192.5 Z" fill="#2b2b2b"/>
<path d="M0 192.5 L60 192.5 L60 196.5 L0 196.5 Z" fill="#5d7a58"/>
<path d="M0 196.5 L60 196.5 L60 217.7 L0 217.7 Z" fill="#3d3e3e"/>
<path d="M0 217.7 L60 210 L64 255 L0 255 Z" fill="#8b8f90"/>
<path d="M0 230 L60 222 L60 226 L0 234 Z" fill="#a9adae"/>
<circle cx="52.7" cy="213" r="5" fill="#c8c8c4"/>
<path d="M41 121 C55 118 66 104 75.6 87 C84 76 90 72 98.6 68.8 C106 60 112 52 119.2 45.8 C128 38 135 34 142.1 32.1 C155 28 165 26 174.2 25.2 L206.3 25.2 C216 26 224 28 229.2 29.8 C236 33 240 36 243 39 C247 50 250 70 252 91.7 C254 100 254 106 252 110 C254 118 256 122 258 126 C264 140 270 150 275 156 C278 162 278 168 276 170 C268 175 260 176 254 177 C250 182 250 190 250 197 C251 204 251 212 250 218 C249 226 246 232 240 236 C232 241 226 243 220 245 L196 254.5 L60 254.5 C60 240 60 225 58 205 C52 185 45 165 43 150 C41 140 40 130 41 121 Z" fill="url(#faceskin)"/>
<path d="M120 50 C140 36 170 30 205 30 C225 32 238 40 244 52 C238 70 220 80 200 80 C170 80 140 74 120 50 Z" fill="#e2bcaa" opacity="0.45"/>
<path d="M58 190 C80 205 105 222 130 232 C155 240 180 244 200 246 L196 254.5 L60 254.5 C60 235 59 212 58 190 Z" fill="#b48a76" opacity="0.8"/>
<path d="M278 240 L250 242 L226 246 L205 254.5 L278 254.5 Z" fill="#7181b8"/>
<path d="M252 112 C258 128 266 142 273 152 C276 160 276 166 270 168 C262 166 256 158 252 146 C249 134 249 122 252 112 Z" fill="#e8bfb0" opacity="0.85"/>
<path d="M229 171 C238 169 250 170 257 175 C248 177 238 177 229 174 Z" fill="#7a4a44" opacity="0.9"/>
<path d="M206 201 C222 198 238 199 250 202 C247 208 236 213 222 213 C214 212 208 207 206 201 Z" fill="#c48e86"/>
<path d="M206 203 C220 204 236 205 250 203.5" stroke="#8a5a54" stroke-width="1.6" fill="none"/>
<path d="M232 103 C240 100 248 100 255 104" stroke="#6a5444" stroke-width="3" fill="none"/>
<path d="M240.7 114 C244 110 250 110 254.4 113 C250 117.5 244 117.5 240.7 114 Z" fill="#4c4a52"/>
<ellipse cx="28" cy="148" rx="26" ry="36" fill="#d8a190"/>
<ellipse cx="33" cy="151" rx="14" ry="24" fill="#c08474"/>
<ellipse cx="36" cy="156" rx="7" ry="13" fill="#cf9584"/>
<path d="M0 0 L248 0 C248 14 249 30 249.8 45.8 L243 39 C240 36 236 33 229.2 29.8 C224 28 216 26 206.3 25.2 L174.2 25.2 C165 26 155 28 142.1 32.1 C135 34 128 38 119.2 45.8 C112 52 106 60 98.6 68.8 C90 72 84 76 75.6 87 C66 104 55 118 41 121 C34 116 26 112 14 112 L0 114.6 Z" fill="url(#hair)"/>
<clipPath id="hair_t7"><path d="M0 0 L248 0 C248 14 249 30 249.8 45.8 L243 39 C240 36 236 33 229.2 29.8 C224 28 216 26 206.3 25.2 L174.2 25.2 C165 26 155 28 142.1 32.1 C135 34 128 38 119.2 45.8 C112 52 106 60 98.6 68.8 C90 72 84 76 75.6 87 C66 104 55 118 41 121 C34 116 26 112 14 112 L0 114.6 Z"/></clipPath>
<g clip-path="url(#hair_t7)">
<path d="M57.4 19.6 Q67.0 1.4 88.6 -24.9" stroke="#544640" stroke-width="3.2" fill="none" opacity="0.6" stroke-linecap="round"/>
<path d="M215.6 27.9 Q223.7 35.1 243.8 34.4" stroke="#5e4e42" stroke-width="4.0" fill="none" opacity="0.6" stroke-linecap="round"/>
<path d="M3.4 29.0 Q21.1 20.8 50.7 4.5" stroke="#705e50" stroke-width="1.6" fill="none" opacity="0.6" stroke-linecap="round"/>
<path d="M29.7 72.4 Q34.8 65.6 52.0 50.8" stroke="#544640" stroke-width="3.2" fill="none" opacity="0.6" stroke-linecap="round"/>
<path d="M154.1 13.4 Q173.2 21.3 204.2 21.3" stroke="#5e4e42" stroke-width="3.4" fill="none" opacity="0.6" stroke-linecap="round"/>
<path d="M104.0 69.1 Q120.1 52.8 148.2 28.5" stroke="#544640" stroke-width="2.4" fill="none" opacity="0.6" stroke-linecap="round"/>
<path d="M184.5 90.9 Q195.8 99.7 219.1 100.5" stroke="#705e50" stroke-width="2.4" fill="none" opacity="0.6" stroke-linecap="round"/>
<path d="M234.6 15.3 Q249.4 26.4 276.1 29.4" stroke="#5e4e42" stroke-width="4.4" fill="none" opacity="0.6" stroke-linecap="round"/>
<path d="M-9.0 72.5 Q10.8 60.7 42.5 40.9" stroke="#cab9a0" stroke-width="3.3" fill="none" opacity="0.6" stroke-linecap="round"/>
<path d="M126.6 59.3 Q148.4 48.8 182.3 30.3" stroke="#5e4e42" stroke-width="1.7" fill="none" opacity="0.6" stroke-linecap="round"/>
<path d="M159.4 84.1 Q186.2 100.0 224.9 107.8" stroke="#544640" stroke-width="1.6" fill="none" opacity="0.6" stroke-linecap="round"/>
<path d="M94.7 21.8 Q97.2 13.4 111.8 -3.1" stroke="#6a5a4c" stroke-width="3.7" fill="none" opacity="0.6" stroke-linecap="round"/>
<path d="M77.4 119.2 Q86.0 104.5 106.5 81.9" stroke="#cab9a0" stroke-width="4.2" fill="none" opacity="0.6" stroke-linecap="round"/>
<path d="M191.2 112.3 Q203.5 120.5 227.8 120.7" stroke="#6a5a4c" stroke-width="2.0" fill="none" opacity="0.6" stroke-linecap="round"/>
<path d="M17.6 30.2 Q24.8 22.3 44.0 6.4" stroke="#544640" stroke-width="2.3" fill="none" opacity="0.6" stroke-linecap="round"/>
<path d="M9.3 69.5 Q21.1 54.2 44.9 31.0" stroke="#c4b49a" stroke-width="2.9" fill="none" opacity="0.6" stroke-linecap="round"/>
<path d="M205.2 123.7 Q226.0 135.1 258.8 138.5" stroke="#705e50" stroke-width="3.4" fill="none" opacity="0.6" stroke-linecap="round"/>
<path d="M-13.2 8.8 Q-8.6 -0.8 7.9 -18.4" stroke="#c4b49a" stroke-width="1.8" fill="none" opacity="0.6" stroke-linecap="round"/>
<path d="M123.0 69.8 Q143.7 52.9 176.4 28.1" stroke="#bcaa90" stroke-width="3.3" fill="none" opacity="0.6" stroke-linecap="round"/>
<path d="M10.1 32.8 Q18.3 22.2 38.4 3.7" stroke="#b2a086" stroke-width="4.5" fill="none" opacity="0.6" stroke-linecap="round"/>
<path d="M95.8 62.9 Q98.3 55.2 112.8 39.5" stroke="#cab9a0" stroke-width="2.9" fill="none" opacity="0.6" stroke-linecap="round"/>
<path d="M156.9 67.1 Q166.7 77.6 188.6 80.0" stroke="#5e4e42" stroke-width="3.8" fill="none" opacity="0.6" stroke-linecap="round"/>
<path d="M50.5 83.6 Q57.0 80.2 75.5 68.7" stroke="#6a5a4c" stroke-width="2.6" fill="none" opacity="0.6" stroke-linecap="round"/>
<path d="M30.2 70.4 Q43.1 60.0 68.1 41.6" stroke="#6a5a4c" stroke-width="3.9" fill="none" opacity="0.6" stroke-linecap="round"/>
<path d="M190.9 96.2 Q202.0 104.6 225.0 105.1" stroke="#c4b49a" stroke-width="3.9" fill="none" opacity="0.6" stroke-linecap="round"/>
<path d="M97.5 25.2 Q109.5 10.2 133.5 -12.7" stroke="#544640" stroke-width="4.4" fill="none" opacity="0.6" stroke-linecap="round"/>
<path d="M68.5 28.7 Q73.5 19.0 90.6 1.3" stroke="#c4b49a" stroke-width="2.9" fill="none" opacity="0.6" stroke-linecap="round"/>
<path d="M146.3 104.0 Q151.9 99.4 169.5 86.8" stroke="#6a5a4c" stroke-width="2.9" fill="none" opacity="0.6" stroke-linecap="round"/>
<path d="M18.2 102.6 Q29.1 96.0 52.1 81.4" stroke="#705e50" stroke-width="2.9" fill="none" opacity="0.6" stroke-linecap="round"/>
<path d="M170.7 11.0 Q179.5 21.3 200.3 23.5" stroke="#705e50" stroke-width="3.9" fill="none" opacity="0.6" stroke-linecap="round"/>
<path d="M9.5 107.4 Q31.2 90.9 65.0 66.3" stroke="#bcaa90" stroke-width="1.6" fill="none" opacity="0.6" stroke-linecap="round"/>
<path d="M185.8 94.4 Q193.9 103.2 213.9 103.9" stroke="#6a5a4c" stroke-width="4.0" fill="none" opacity="0.6" stroke-linecap="round"/>
<path d="M27.0 32.7 Q33.3 22.2 51.7 3.6" stroke="#544640" stroke-width="3.1" fill="none" opacity="0.6" stroke-linecap="round"/>
<path d="M195.2 7.9 Q216.4 22.4 249.6 29.0" stroke="#705e50" stroke-width="4.0" fill="none" opacity="0.6" stroke-linecap="round"/>
<path d="M207.1 17.0 Q216.5 25.0 237.9 25.0" stroke="#5e4e42" stroke-width="3.8" fill="none" opacity="0.6" stroke-linecap="round"/>
<path d="M10.4 18.4 Q20.2 1.2 41.9 -24.1" stroke="#b2a086" stroke-width="3.9" fill="none" opacity="0.6" stroke-linecap="round"/>
<path d="M-1.4 72.8 Q4.6 63.3 22.6 45.7" stroke="#705e50" stroke-width="3.2" fill="none" opacity="0.6" stroke-linecap="round"/>
<path d="M175.2 118.6 Q190.8 128.9 218.3 131.2" stroke="#544640" stroke-width="2.9" fill="none" opacity="0.6" stroke-linecap="round"/>
<path d="M114.0 62.1 Q135.5 46.7 169.0 23.3" stroke="#544640" stroke-width="4.3" fill="none" opacity="0.6" stroke-linecap="round"/>
<path d="M211.0 26.3 Q227.0 35.4 255.0 36.4" stroke="#6a5a4c" stroke-width="2.8" fill="none" opacity="0.6" stroke-linecap="round"/>
<path d="M27.4 39.4 Q34.2 35.1 53.1 22.8" stroke="#544640" stroke-width="1.9" fill="none" opacity="0.6" stroke-linecap="round"/>
<path d="M208.4 125.8 Q218.5 136.3 240.7 138.9" stroke="#6a5a4c" stroke-width="2.0" fill="none" opacity="0.6" stroke-linecap="round"/>
<path d="M86.5 67.0 Q93.1 55.4 111.8 35.7" stroke="#cab9a0" stroke-width="1.6" fill="none" opacity="0.6" stroke-linecap="round"/>
<path d="M119.6 57.3 Q122.4 51.8 137.2 38.4" stroke="#5e4e42" stroke-width="1.8" fill="none" opacity="0.6" stroke-linecap="round"/>
<path d="M218.0 29.7 Q244.0 37.7 281.9 37.8" stroke="#6a5a4c" stroke-width="2.3" fill="none" opacity="0.6" stroke-linecap="round"/>
<path d="M5.0 54.9 Q27.1 41.7 61.3 20.4" stroke="#bcaa90" stroke-width="3.1" fill="none" opacity="0.6" stroke-linecap="round"/>
<path d="M109.0 64.3 Q116.1 53.4 135.3 34.6" stroke="#6a5a4c" stroke-width="2.8" fill="none" opacity="0.6" stroke-linecap="round"/>
<path d="M-10.4 122.0 Q6.2 111.8 34.9 93.6" stroke="#bcaa90" stroke-width="1.7" fill="none" opacity="0.6" stroke-linecap="round"/>
<path d="M202.9 59.0 Q216.4 68.3 241.8 69.6" stroke="#6a5a4c" stroke-width="1.6" fill="none" opacity="0.6" stroke-linecap="round"/>
<path d="M161.6 122.0 Q189.3 132.1 229.1 134.1" stroke="#544640" stroke-width="3.1" fill="none" opacity="0.6" stroke-linecap="round"/>
<path d="M25.6 57.9 Q37.8 41.2 62.0 16.4" stroke="#544640" stroke-width="1.6" fill="none" opacity="0.6" stroke-linecap="round"/>
<path d="M-25.0 65.7 Q-5.0 47.1 27.0 20.4" stroke="#b2a086" stroke-width="1.8" fill="none" opacity="0.6" stroke-linecap="round"/>
<path d="M191.1 56.2 Q207.3 68.3 235.5 72.4" stroke="#6a5a4c" stroke-width="4.4" fill="none" opacity="0.6" stroke-linecap="round"/>
<path d="M62.5 108.2 Q79.1 95.0 107.7 73.8" stroke="#cab9a0" stroke-width="4.4" fill="none" opacity="0.6" stroke-linecap="round"/>
<path d="M196.0 1.9 Q214.8 15.3 245.7 20.8" stroke="#b2a086" stroke-width="4.1" fill="none" opacity="0.6" stroke-linecap="round"/>
<path d="M151.0 36.7 Q162.7 44.0 186.3 43.4" stroke="#b2a086" stroke-width="1.5" fill="none" opacity="0.6" stroke-linecap="round"/>
<path d="M68.3 42.8 Q85.9 21.4 115.5 -8.0" stroke="#cab9a0" stroke-width="2.2" fill="none" opacity="0.6" stroke-linecap="round"/>
<path d="M19.4 43.6 Q22.9 36.8 38.5 22.0" stroke="#6a5a4c" stroke-width="3.0" fill="none" opacity="0.6" stroke-linecap="round"/>
<path d="M-28.7 34.3 Q-24.3 28.1 -8.0 13.9" stroke="#c4b49a" stroke-width="2.4" fill="none" opacity="0.6" stroke-linecap="round"/>
<path d="M140.0 11.0 Q163.4 -2.3 198.7 -23.5" stroke="#b2a086" stroke-width="3.8" fill="none" opacity="0.6" stroke-linecap="round"/>
<path d="M164.6 64.2 Q176.7 73.6 200.8 74.9" stroke="#705e50" stroke-width="3.7" fill="none" opacity="0.6" stroke-linecap="round"/>
<path d="M189.3 18.1 Q206.8 28.1 236.3 30.2" stroke="#6a5a4c" stroke-width="1.8" fill="none" opacity="0.6" stroke-linecap="round"/>
<path d="M-18.7 82.8 Q-0.8 62.5 29.2 34.3" stroke="#5e4e42" stroke-width="3.4" fill="none" opacity="0.6" stroke-linecap="round"/>
<path d="M139.1 88.5 Q145.8 72.7 164.6 49.0" stroke="#5e4e42" stroke-width="3.5" fill="none" opacity="0.6" stroke-linecap="round"/>
<path d="M-12.2 95.8 Q-7.7 84.9 8.7 66.0" stroke="#bcaa90" stroke-width="2.2" fill="none" opacity="0.6" stroke-linecap="round"/>
<path d="M145.5 59.8 Q157.6 38.1 181.8 8.3" stroke="#544640" stroke-width="3.8" fill="none" opacity="0.6" stroke-linecap="round"/>
<path d="M136.6 83.6 Q139.2 76.2 153.9 60.9" stroke="#cab9a0" stroke-width="3.4" fill="none" opacity="0.6" stroke-linecap="round"/>
<path d="M6.0 62.7 Q21.0 56.2 47.9 41.7" stroke="#bcaa90" stroke-width="3.5" fill="none" opacity="0.6" stroke-linecap="round"/>
<path d="M48.5 67.1 Q59.4 55.6 82.3 36.1" stroke="#bcaa90" stroke-width="2.4" fill="none" opacity="0.6" stroke-linecap="round"/>
<path d="M-6.8 61.5 Q-1.9 49.9 15.1 30.4" stroke="#705e50" stroke-width="4.5" fill="none" opacity="0.6" stroke-linecap="round"/>
</g>
<path d="M98.6 68.8 C90 72 84 76 75.6 87 C66 104 55 118 41 121 L58 128 C68 118 78 104 86 94 C92 86 100 80 108 74 Z" fill="#9c7e6a" opacity="0.6"/>
<path d="M240 42 C246 46 250 54 250 62 C246 58 242 52 240 42 Z" fill="#eeeae6" opacity="0.8"/>
<path d="M76 94 C84 88 98 86 108 90 C104 95 92 98 82 99 Z" fill="#f2eeea" opacity="0.75"/>
<path d="M98 76 C108 72 122 72 132 76" stroke="#f2eeea" stroke-width="2.2" fill="none" opacity="0.6"/>
<path d="M62 150 C95 120 140 82 210 28" stroke="#ece4de" stroke-width="1" fill="none" opacity="0.7"/>
<path d="M40.1 137.5 L68.8 123.8 L110 160.4 L96.3 174.2 L48 162 Z" fill="#d0c7bd"/>
<path d="M72 128 L80 125 L110 160.4 L98 170 Z" fill="#dcd6d0"/>
<path d="M48.1 160.4 L73.3 151.3 L87.1 171.9 L61.9 181.1 Z" fill="#2e2a27"/>
<path d="M61.9 181.1 L87.1 171.9 L88 174.5 L62.8 183.6 Z" fill="#b8a888"/>
<path d="M158 118 C168 110 184 109 197 115 C186 124 170 125 158 118 Z" fill="#6a5a58"/>
<path d="M152 104 C168 98 186 98 200 104" stroke="#8a6a58" stroke-width="3" fill="none"/>
<ellipse cx="190.5" cy="51.5" rx="6.8" ry="6.3" fill="none" stroke="#141414" stroke-width="1.8"/>
<ellipse cx="236" cy="58" rx="3.8" ry="5.8" fill="none" stroke="#141414" stroke-width="1.8"/>
<ellipse cx="149.6" cy="85.5" rx="4" ry="3.3" fill="none" stroke="#141414" stroke-width="1.8"/>
<ellipse cx="117.3" cy="130.5" rx="4" ry="3.3" fill="none" stroke="#141414" stroke-width="1.8"/>
<ellipse cx="123.6" cy="179.6" rx="4" ry="3.3" fill="none" stroke="#141414" stroke-width="1.8"/>
<ellipse cx="125.3" cy="198.3" rx="4" ry="3.3" fill="none" stroke="#141414" stroke-width="1.8"/>
<ellipse cx="141.8" cy="228.6" rx="4" ry="3" fill="none" stroke="#141414" stroke-width="1.8"/>
<ellipse cx="199.6" cy="227.5" rx="4" ry="3.3" fill="none" stroke="#141414" stroke-width="1.8"/>
<ellipse cx="213.6" cy="147" rx="4" ry="3.4" fill="none" stroke="#141414" stroke-width="1.8"/>
<ellipse cx="170" cy="59" rx="2.6" ry="1.5" fill="#1a1a1a"/>
<ellipse cx="132" cy="93" rx="2.6" ry="1.5" fill="#1a1a1a"/>
<ellipse cx="106" cy="143" rx="2.6" ry="1.5" fill="#1a1a1a"/>
<ellipse cx="104" cy="182" rx="2.6" ry="1.5" fill="#1a1a1a"/>
<ellipse cx="108" cy="188" rx="2.6" ry="1.5" fill="#1a1a1a"/>
<ellipse cx="127" cy="229" rx="2.6" ry="1.5" fill="#1a1a1a"/>
<path d="M214 56 L226 68 M226 56 L214 68" stroke="#3a3a3a" stroke-width="1.4"/>
<clipPath id="poly_t7"><path d="M189.2 53 L234.5 58.9 L200 228 L140.6 228.8 L125.2 197.9 L123.6 178.4 L117.9 129.8 L150.4 84.3 Z"/></clipPath>
<g opacity="0.55" clip-path="url(#poly_t7)">
<path d="M189.2 53 L234.5 58.9 L200 228 L140.6 228.8 L125.2 197.9 L123.6 178.4 L117.9 129.8 L150.4 84.3 Z" fill="url(#ov_t7)"/>
</g>
<ellipse cx="194" cy="78.5" rx="4.3" ry="3.4" fill="none" stroke="#1a1a90" stroke-width="1.6" opacity="0.9"/>
<ellipse cx="126.8" cy="156.5" rx="4.3" ry="3.4" fill="none" stroke="#1a1a90" stroke-width="1.6" opacity="0.9"/>
<ellipse cx="157.7" cy="159.8" rx="4.3" ry="3.4" fill="none" stroke="#1a1a90" stroke-width="1.6" opacity="0.9"/>
<ellipse cx="150.4" cy="172" rx="4.3" ry="3.4" fill="none" stroke="#1a1a90" stroke-width="1.6" opacity="0.9"/>
<ellipse cx="186.9" cy="172" rx="4.3" ry="3.4" fill="none" stroke="#1a1a90" stroke-width="1.6" opacity="0.9"/>
<ellipse cx="160.1" cy="193.1" rx="4.3" ry="3.4" fill="none" stroke="#1a1a90" stroke-width="1.6" opacity="0.9"/>
<ellipse cx="161.7" cy="212.5" rx="4.3" ry="3.4" fill="none" stroke="#1a1a90" stroke-width="1.6" opacity="0.9"/>
</g></g>
</svg>
</body></html>
